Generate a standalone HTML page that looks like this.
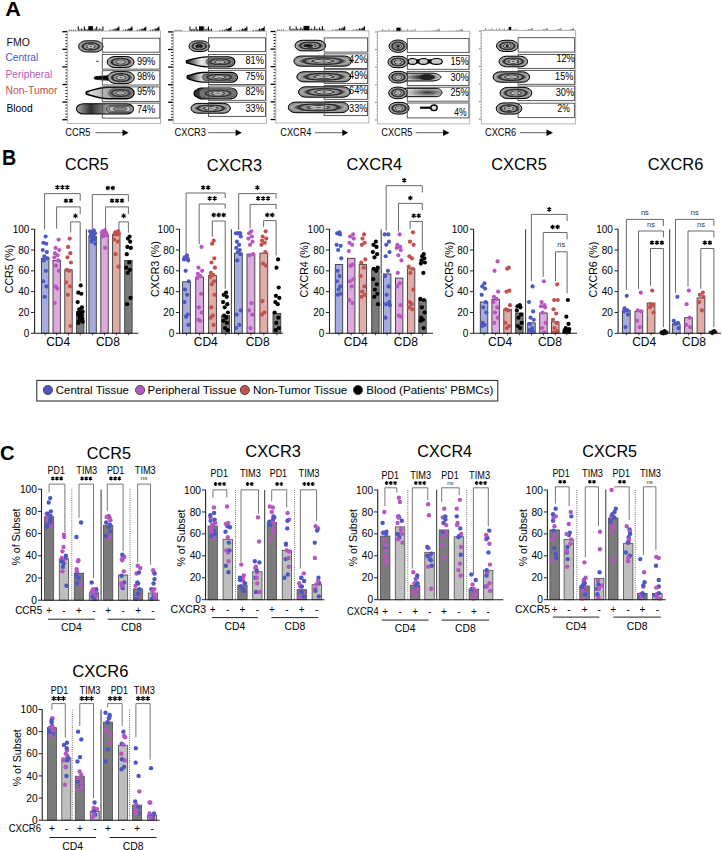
<!DOCTYPE html>
<html><head><meta charset="utf-8"><style>
html,body{margin:0;padding:0;background:#fff;width:722px;height:850px;overflow:hidden}
svg{display:block}
text{font-family:"Liberation Sans", sans-serif}
</style></head><body>
<svg width="722" height="850" viewBox="0 0 722 850">
<defs><radialGradient id="gz" cx="50%" cy="50%" r="50%">
<stop offset="0" stop-color="#3a3a3a"/><stop offset="0.25" stop-color="#9a9a9a"/><stop offset="0.45" stop-color="#d8d8d8"/>
<stop offset="0.62" stop-color="#7a7a7a"/><stop offset="0.8" stop-color="#c4c4c4"/><stop offset="1" stop-color="#6a6a6a"/></radialGradient><radialGradient id="zb" cx="50%" cy="50%" r="50%">
<stop offset="0" stop-color="#444"/><stop offset="0.1" stop-color="#a0a0a0"/><stop offset="0.24" stop-color="#c4c4c4"/>
<stop offset="0.36" stop-color="#3a3a3a"/><stop offset="0.44" stop-color="#a4a4a4"/><stop offset="0.56" stop-color="#7a7a7a"/>
<stop offset="0.68" stop-color="#2e2e2e"/><stop offset="0.78" stop-color="#7a7a7a"/><stop offset="0.88" stop-color="#b0b0b0"/>
<stop offset="1" stop-color="#8a8a8a"/></radialGradient><linearGradient id="gt" x1="0" y1="0" x2="1" y2="0">
<stop offset="0" stop-color="#222"/><stop offset="0.5" stop-color="#888"/><stop offset="1" stop-color="#bbb"/></linearGradient><linearGradient id="gtl" x1="0" y1="0" x2="1" y2="0">
<stop offset="0" stop-color="#111"/><stop offset="0.15" stop-color="#555"/><stop offset="0.4" stop-color="#ccc"/><stop offset="0.7" stop-color="#999"/><stop offset="1" stop-color="#777"/></linearGradient><linearGradient id="gtw" x1="0" y1="0" x2="1" y2="0">
<stop offset="0" stop-color="#222"/><stop offset="0.08" stop-color="#ddd"/><stop offset="0.45" stop-color="#aaa"/><stop offset="1" stop-color="#777"/></linearGradient><linearGradient id="gt2" x1="0" y1="0" x2="1" y2="0">
<stop offset="0" stop-color="#111"/><stop offset="0.1" stop-color="#555"/><stop offset="0.3" stop-color="#e8e8e8"/><stop offset="0.6" stop-color="#b5b5b5"/><stop offset="1" stop-color="#888"/></linearGradient><radialGradient id="gd2" cx="62%" cy="50%" r="55%">
<stop offset="0" stop-color="#333"/><stop offset="0.5" stop-color="#8a8a8a"/><stop offset="1" stop-color="#d0d0d0"/></radialGradient><radialGradient id="gd" cx="50%" cy="50%" r="50%">
<stop offset="0" stop-color="#111"/><stop offset="0.5" stop-color="#666"/><stop offset="1" stop-color="#ccc"/></radialGradient><linearGradient id="gb" x1="0" y1="0" x2="1" y2="0">
<stop offset="0" stop-color="#aaa"/><stop offset="0.25" stop-color="#333"/><stop offset="0.45" stop-color="#777"/><stop offset="0.6" stop-color="#bbb"/><stop offset="1" stop-color="#888"/></linearGradient></defs><rect width="722" height="850" fill="#fff"/>
<text x="2.00" y="164.60" font-size="21.5" text-anchor="start" font-weight="bold" fill="#000" textLength="14.2" lengthAdjust="spacingAndGlyphs">B</text>
<text x="10.20" y="269.00" font-size="10.7" text-anchor="middle" font-weight="normal" fill="#000" transform="rotate(-90 10.2 269)" dominant-baseline="middle">CCR5 (%)</text>
<line x1="31.00" y1="333.30" x2="34.60" y2="333.30" stroke="#222" stroke-width="1"/>
<text x="29.40" y="336.80" font-size="10" text-anchor="end" font-weight="normal" fill="#000">0</text>
<line x1="31.00" y1="312.48" x2="34.60" y2="312.48" stroke="#222" stroke-width="1"/>
<text x="29.40" y="315.98" font-size="10" text-anchor="end" font-weight="normal" fill="#000">20</text>
<line x1="31.00" y1="291.66" x2="34.60" y2="291.66" stroke="#222" stroke-width="1"/>
<text x="29.40" y="295.16" font-size="10" text-anchor="end" font-weight="normal" fill="#000">40</text>
<line x1="31.00" y1="270.84" x2="34.60" y2="270.84" stroke="#222" stroke-width="1"/>
<text x="29.40" y="274.34" font-size="10" text-anchor="end" font-weight="normal" fill="#000">60</text>
<line x1="31.00" y1="250.02" x2="34.60" y2="250.02" stroke="#222" stroke-width="1"/>
<text x="29.40" y="253.52" font-size="10" text-anchor="end" font-weight="normal" fill="#000">80</text>
<line x1="31.00" y1="229.20" x2="34.60" y2="229.20" stroke="#222" stroke-width="1"/>
<text x="29.40" y="232.70" font-size="10" text-anchor="end" font-weight="normal" fill="#000">100</text>
<rect x="41.50" y="258.35" width="7.40" height="74.95" fill="#a6acdf" stroke="#3a3a3a" stroke-width="0.9"/>
<line x1="45.20" y1="333.30" x2="45.20" y2="335.30" stroke="#222" stroke-width="0.9"/>
<rect x="53.00" y="260.43" width="7.40" height="72.87" fill="#dcaadd" stroke="#3a3a3a" stroke-width="0.9"/>
<line x1="56.70" y1="333.30" x2="56.70" y2="335.30" stroke="#222" stroke-width="0.9"/>
<rect x="64.80" y="269.80" width="7.40" height="63.50" fill="#e2aca8" stroke="#3a3a3a" stroke-width="0.9"/>
<line x1="68.50" y1="333.30" x2="68.50" y2="335.30" stroke="#222" stroke-width="0.9"/>
<rect x="76.50" y="311.44" width="7.40" height="21.86" fill="#7a7a7a" stroke="#3a3a3a" stroke-width="0.9"/>
<line x1="80.20" y1="333.30" x2="80.20" y2="335.30" stroke="#222" stroke-width="0.9"/>
<rect x="88.90" y="236.49" width="7.40" height="96.81" fill="#a6acdf" stroke="#3a3a3a" stroke-width="0.9"/>
<line x1="92.60" y1="333.30" x2="92.60" y2="335.30" stroke="#222" stroke-width="0.9"/>
<rect x="100.80" y="234.41" width="7.40" height="98.89" fill="#dcaadd" stroke="#3a3a3a" stroke-width="0.9"/>
<line x1="104.50" y1="333.30" x2="104.50" y2="335.30" stroke="#222" stroke-width="0.9"/>
<rect x="112.60" y="234.41" width="7.40" height="98.89" fill="#e2aca8" stroke="#3a3a3a" stroke-width="0.9"/>
<line x1="116.30" y1="333.30" x2="116.30" y2="335.30" stroke="#222" stroke-width="0.9"/>
<rect x="124.70" y="260.43" width="7.40" height="72.87" fill="#7a7a7a" stroke="#3a3a3a" stroke-width="0.9"/>
<line x1="128.40" y1="333.30" x2="128.40" y2="335.30" stroke="#222" stroke-width="0.9"/>
<circle cx="45.60" cy="236.49" r="2.1" fill="#4b58c4"/>
<circle cx="43.39" cy="242.73" r="2.1" fill="#4b58c4"/>
<circle cx="46.21" cy="243.77" r="2.1" fill="#4b58c4"/>
<circle cx="42.78" cy="250.02" r="2.1" fill="#4b58c4"/>
<circle cx="46.82" cy="252.10" r="2.1" fill="#4b58c4"/>
<circle cx="44.37" cy="256.27" r="2.1" fill="#4b58c4"/>
<circle cx="47.44" cy="258.35" r="2.1" fill="#4b58c4"/>
<circle cx="43.76" cy="260.43" r="2.1" fill="#4b58c4"/>
<circle cx="45.85" cy="270.84" r="2.1" fill="#4b58c4"/>
<circle cx="43.14" cy="281.25" r="2.1" fill="#4b58c4"/>
<circle cx="46.46" cy="286.46" r="2.1" fill="#4b58c4"/>
<circle cx="44.73" cy="296.87" r="2.1" fill="#4b58c4"/>
<circle cx="58.60" cy="239.61" r="2.1" fill="#b955c2"/>
<circle cx="55.60" cy="247.94" r="2.1" fill="#b955c2"/>
<circle cx="59.21" cy="250.02" r="2.1" fill="#b955c2"/>
<circle cx="54.98" cy="253.14" r="2.1" fill="#b955c2"/>
<circle cx="57.62" cy="255.23" r="2.1" fill="#b955c2"/>
<circle cx="54.37" cy="257.31" r="2.1" fill="#b955c2"/>
<circle cx="58.23" cy="260.43" r="2.1" fill="#b955c2"/>
<circle cx="55.96" cy="265.63" r="2.1" fill="#b955c2"/>
<circle cx="58.85" cy="270.84" r="2.1" fill="#b955c2"/>
<circle cx="55.35" cy="286.46" r="2.1" fill="#b955c2"/>
<circle cx="57.26" cy="288.54" r="2.1" fill="#b955c2"/>
<circle cx="54.74" cy="303.11" r="2.1" fill="#b955c2"/>
<circle cx="69.69" cy="238.57" r="2.1" fill="#c2514e"/>
<circle cx="68.10" cy="246.90" r="2.1" fill="#c2514e"/>
<circle cx="70.31" cy="253.14" r="2.1" fill="#c2514e"/>
<circle cx="67.49" cy="257.31" r="2.1" fill="#c2514e"/>
<circle cx="70.92" cy="262.51" r="2.1" fill="#c2514e"/>
<circle cx="66.88" cy="269.80" r="2.1" fill="#c2514e"/>
<circle cx="69.33" cy="270.84" r="2.1" fill="#c2514e"/>
<circle cx="66.26" cy="282.29" r="2.1" fill="#c2514e"/>
<circle cx="69.94" cy="286.46" r="2.1" fill="#c2514e"/>
<circle cx="67.85" cy="294.78" r="2.1" fill="#c2514e"/>
<circle cx="70.56" cy="326.01" r="2.1" fill="#c2514e"/>
<circle cx="80.69" cy="285.41" r="2.1" fill="#000"/>
<circle cx="78.30" cy="292.70" r="2.1" fill="#000"/>
<circle cx="81.30" cy="293.74" r="2.1" fill="#000"/>
<circle cx="77.69" cy="302.07" r="2.1" fill="#000"/>
<circle cx="81.92" cy="307.28" r="2.1" fill="#000"/>
<circle cx="79.28" cy="309.36" r="2.1" fill="#000"/>
<circle cx="82.53" cy="311.44" r="2.1" fill="#000"/>
<circle cx="78.67" cy="312.48" r="2.1" fill="#000"/>
<circle cx="80.94" cy="313.52" r="2.1" fill="#000"/>
<circle cx="78.05" cy="314.56" r="2.1" fill="#000"/>
<circle cx="81.55" cy="315.60" r="2.1" fill="#000"/>
<circle cx="79.64" cy="317.69" r="2.1" fill="#000"/>
<circle cx="82.16" cy="318.73" r="2.1" fill="#000"/>
<circle cx="79.03" cy="320.81" r="2.1" fill="#000"/>
<circle cx="82.78" cy="321.85" r="2.1" fill="#000"/>
<circle cx="78.42" cy="322.89" r="2.1" fill="#000"/>
<circle cx="93.70" cy="230.24" r="2.1" fill="#4b58c4"/>
<circle cx="90.09" cy="231.28" r="2.1" fill="#4b58c4"/>
<circle cx="94.32" cy="232.32" r="2.1" fill="#4b58c4"/>
<circle cx="91.68" cy="232.32" r="2.1" fill="#4b58c4"/>
<circle cx="94.93" cy="233.36" r="2.1" fill="#4b58c4"/>
<circle cx="91.07" cy="234.41" r="2.1" fill="#4b58c4"/>
<circle cx="93.34" cy="235.45" r="2.1" fill="#4b58c4"/>
<circle cx="90.45" cy="236.49" r="2.1" fill="#4b58c4"/>
<circle cx="93.95" cy="237.53" r="2.1" fill="#4b58c4"/>
<circle cx="92.04" cy="238.57" r="2.1" fill="#4b58c4"/>
<circle cx="94.56" cy="239.61" r="2.1" fill="#4b58c4"/>
<circle cx="91.43" cy="241.69" r="2.1" fill="#4b58c4"/>
<circle cx="95.18" cy="243.77" r="2.1" fill="#4b58c4"/>
<circle cx="104.90" cy="230.24" r="2.1" fill="#b955c2"/>
<circle cx="102.69" cy="231.28" r="2.1" fill="#b955c2"/>
<circle cx="105.51" cy="232.32" r="2.1" fill="#b955c2"/>
<circle cx="102.08" cy="232.32" r="2.1" fill="#b955c2"/>
<circle cx="106.12" cy="233.36" r="2.1" fill="#b955c2"/>
<circle cx="103.67" cy="234.41" r="2.1" fill="#b955c2"/>
<circle cx="106.74" cy="235.45" r="2.1" fill="#b955c2"/>
<circle cx="103.06" cy="236.49" r="2.1" fill="#b955c2"/>
<circle cx="105.15" cy="247.94" r="2.1" fill="#b955c2"/>
<circle cx="118.20" cy="231.28" r="2.1" fill="#c2514e"/>
<circle cx="115.20" cy="232.32" r="2.1" fill="#c2514e"/>
<circle cx="118.81" cy="233.36" r="2.1" fill="#c2514e"/>
<circle cx="114.58" cy="234.41" r="2.1" fill="#c2514e"/>
<circle cx="117.22" cy="234.41" r="2.1" fill="#c2514e"/>
<circle cx="113.97" cy="239.61" r="2.1" fill="#c2514e"/>
<circle cx="117.83" cy="241.69" r="2.1" fill="#c2514e"/>
<circle cx="115.56" cy="254.18" r="2.1" fill="#c2514e"/>
<circle cx="118.45" cy="266.68" r="2.1" fill="#c2514e"/>
<circle cx="129.59" cy="236.49" r="2.1" fill="#000"/>
<circle cx="128.00" cy="238.57" r="2.1" fill="#000"/>
<circle cx="130.21" cy="241.69" r="2.1" fill="#000"/>
<circle cx="127.39" cy="246.90" r="2.1" fill="#000"/>
<circle cx="130.82" cy="247.94" r="2.1" fill="#000"/>
<circle cx="126.78" cy="254.18" r="2.1" fill="#000"/>
<circle cx="129.23" cy="262.51" r="2.1" fill="#000"/>
<circle cx="126.16" cy="267.72" r="2.1" fill="#000"/>
<circle cx="129.84" cy="269.80" r="2.1" fill="#000"/>
<circle cx="127.75" cy="272.92" r="2.1" fill="#000"/>
<circle cx="130.46" cy="297.91" r="2.1" fill="#000"/>
<circle cx="127.14" cy="304.15" r="2.1" fill="#000"/>
<line x1="86.40" y1="229.20" x2="86.40" y2="333.30" stroke="#222" stroke-width="0.9"/>
<line x1="34.60" y1="228.90" x2="34.60" y2="333.30" stroke="#222" stroke-width="1.1"/>
<line x1="34.60" y1="333.30" x2="138.30" y2="333.30" stroke="#222" stroke-width="1.1"/>
<path d="M44.60 229.60V193.60H80.20V200.70" fill="none" stroke="#444" stroke-width="0.8"/>
<path d="M57.40 185.00L57.40 189.60M55.41 186.15L59.39 188.45M59.39 186.15L55.41 188.45" stroke="#000" stroke-width="1.25" fill="none"/>
<path d="M62.40 185.00L62.40 189.60M60.41 186.15L64.39 188.45M64.39 186.15L60.41 188.45" stroke="#000" stroke-width="1.25" fill="none"/>
<path d="M67.40 185.00L67.40 189.60M65.41 186.15L69.39 188.45M69.39 186.15L65.41 188.45" stroke="#000" stroke-width="1.25" fill="none"/>
<path d="M56.60 228.70V206.90H80.20V214.00" fill="none" stroke="#444" stroke-width="0.8"/>
<path d="M65.90 198.40L65.90 203.00M63.91 199.55L67.89 201.85M67.89 199.55L63.91 201.85" stroke="#000" stroke-width="1.25" fill="none"/>
<path d="M70.90 198.40L70.90 203.00M68.91 199.55L72.89 201.85M72.89 199.55L68.91 201.85" stroke="#000" stroke-width="1.25" fill="none"/>
<path d="M70.70 232.50V221.90H80.20V281.50" fill="none" stroke="#444" stroke-width="0.8"/>
<path d="M75.45 213.60L75.45 218.20M73.46 214.75L77.44 217.05M77.44 214.75L73.46 217.05" stroke="#000" stroke-width="1.25" fill="none"/>
<path d="M92.30 228.50V194.60H128.40V201.50" fill="none" stroke="#444" stroke-width="0.8"/>
<path d="M107.85 185.70L107.85 190.30M105.86 186.85L109.84 189.15M109.84 186.85L105.86 189.15" stroke="#000" stroke-width="1.25" fill="none"/>
<path d="M112.85 185.70L112.85 190.30M110.86 186.85L114.84 189.15M114.84 186.85L110.86 189.15" stroke="#000" stroke-width="1.25" fill="none"/>
<path d="M105.60 229.00V206.90H128.40V214.00" fill="none" stroke="#444" stroke-width="0.8"/>
<path d="M112.00 198.40L112.00 203.00M110.01 199.55L113.99 201.85M113.99 199.55L110.01 201.85" stroke="#000" stroke-width="1.25" fill="none"/>
<path d="M117.00 198.40L117.00 203.00M115.01 199.55L118.99 201.85M118.99 199.55L115.01 201.85" stroke="#000" stroke-width="1.25" fill="none"/>
<path d="M122.00 198.40L122.00 203.00M120.01 199.55L123.99 201.85M123.99 199.55L120.01 201.85" stroke="#000" stroke-width="1.25" fill="none"/>
<path d="M118.90 230.00V221.90H128.40V232.70" fill="none" stroke="#444" stroke-width="0.8"/>
<path d="M123.65 213.60L123.65 218.20M121.66 214.75L125.64 217.05M125.64 214.75L121.66 217.05" stroke="#000" stroke-width="1.25" fill="none"/>
<text x="58.20" y="346.20" font-size="12" text-anchor="middle" font-weight="normal" fill="#000">CD4</text>
<text x="107.90" y="346.20" font-size="12" text-anchor="middle" font-weight="normal" fill="#000">CD8</text>
<text x="86.90" y="169.90" font-size="17.3" text-anchor="middle" font-weight="normal" fill="#000" textLength="43.7" lengthAdjust="spacingAndGlyphs">CCR5</text>
<text x="156.00" y="269.00" font-size="10.7" text-anchor="middle" font-weight="normal" fill="#000" transform="rotate(-90 156 269)" dominant-baseline="middle">CXCR3 (%)</text>
<line x1="175.90" y1="333.30" x2="179.50" y2="333.30" stroke="#222" stroke-width="1"/>
<text x="174.30" y="336.80" font-size="10" text-anchor="end" font-weight="normal" fill="#000">0</text>
<line x1="175.90" y1="312.48" x2="179.50" y2="312.48" stroke="#222" stroke-width="1"/>
<text x="174.30" y="315.98" font-size="10" text-anchor="end" font-weight="normal" fill="#000">20</text>
<line x1="175.90" y1="291.66" x2="179.50" y2="291.66" stroke="#222" stroke-width="1"/>
<text x="174.30" y="295.16" font-size="10" text-anchor="end" font-weight="normal" fill="#000">40</text>
<line x1="175.90" y1="270.84" x2="179.50" y2="270.84" stroke="#222" stroke-width="1"/>
<text x="174.30" y="274.34" font-size="10" text-anchor="end" font-weight="normal" fill="#000">60</text>
<line x1="175.90" y1="250.02" x2="179.50" y2="250.02" stroke="#222" stroke-width="1"/>
<text x="174.30" y="253.52" font-size="10" text-anchor="end" font-weight="normal" fill="#000">80</text>
<line x1="175.90" y1="229.20" x2="179.50" y2="229.20" stroke="#222" stroke-width="1"/>
<text x="174.30" y="232.70" font-size="10" text-anchor="end" font-weight="normal" fill="#000">100</text>
<rect x="182.60" y="281.77" width="7.80" height="51.53" fill="#a6acdf" stroke="#3a3a3a" stroke-width="0.9"/>
<line x1="186.50" y1="333.30" x2="186.50" y2="335.30" stroke="#222" stroke-width="0.9"/>
<rect x="195.70" y="277.09" width="7.80" height="56.21" fill="#dcaadd" stroke="#3a3a3a" stroke-width="0.9"/>
<line x1="199.60" y1="333.30" x2="199.60" y2="335.30" stroke="#222" stroke-width="0.9"/>
<rect x="208.60" y="275.52" width="7.80" height="57.78" fill="#e2aca8" stroke="#3a3a3a" stroke-width="0.9"/>
<line x1="212.50" y1="333.30" x2="212.50" y2="335.30" stroke="#222" stroke-width="0.9"/>
<rect x="221.70" y="315.60" width="7.80" height="17.70" fill="#7a7a7a" stroke="#3a3a3a" stroke-width="0.9"/>
<line x1="225.60" y1="333.30" x2="225.60" y2="335.30" stroke="#222" stroke-width="0.9"/>
<rect x="234.50" y="253.14" width="7.80" height="80.16" fill="#a6acdf" stroke="#3a3a3a" stroke-width="0.9"/>
<line x1="238.40" y1="333.30" x2="238.40" y2="335.30" stroke="#222" stroke-width="0.9"/>
<rect x="247.00" y="254.18" width="7.80" height="79.12" fill="#dcaadd" stroke="#3a3a3a" stroke-width="0.9"/>
<line x1="250.90" y1="333.30" x2="250.90" y2="335.30" stroke="#222" stroke-width="0.9"/>
<rect x="259.90" y="253.14" width="7.80" height="80.16" fill="#e2aca8" stroke="#3a3a3a" stroke-width="0.9"/>
<line x1="263.80" y1="333.30" x2="263.80" y2="335.30" stroke="#222" stroke-width="0.9"/>
<rect x="273.00" y="313.52" width="7.80" height="19.78" fill="#7a7a7a" stroke="#3a3a3a" stroke-width="0.9"/>
<line x1="276.90" y1="333.30" x2="276.90" y2="335.30" stroke="#222" stroke-width="0.9"/>
<circle cx="186.90" cy="255.23" r="2.1" fill="#4b58c4"/>
<circle cx="184.69" cy="257.31" r="2.1" fill="#4b58c4"/>
<circle cx="187.51" cy="258.35" r="2.1" fill="#4b58c4"/>
<circle cx="184.08" cy="259.39" r="2.1" fill="#4b58c4"/>
<circle cx="188.12" cy="260.43" r="2.1" fill="#4b58c4"/>
<circle cx="185.67" cy="270.84" r="2.1" fill="#4b58c4"/>
<circle cx="188.74" cy="281.25" r="2.1" fill="#4b58c4"/>
<circle cx="185.06" cy="289.58" r="2.1" fill="#4b58c4"/>
<circle cx="187.15" cy="294.78" r="2.1" fill="#4b58c4"/>
<circle cx="184.44" cy="302.07" r="2.1" fill="#4b58c4"/>
<circle cx="187.76" cy="314.56" r="2.1" fill="#4b58c4"/>
<circle cx="186.03" cy="316.64" r="2.1" fill="#4b58c4"/>
<circle cx="188.37" cy="324.97" r="2.1" fill="#4b58c4"/>
<circle cx="201.50" cy="246.90" r="2.1" fill="#b955c2"/>
<circle cx="198.50" cy="267.72" r="2.1" fill="#b955c2"/>
<circle cx="202.11" cy="270.84" r="2.1" fill="#b955c2"/>
<circle cx="197.88" cy="273.96" r="2.1" fill="#b955c2"/>
<circle cx="200.52" cy="276.05" r="2.1" fill="#b955c2"/>
<circle cx="197.27" cy="278.13" r="2.1" fill="#b955c2"/>
<circle cx="201.13" cy="293.74" r="2.1" fill="#b955c2"/>
<circle cx="198.86" cy="307.28" r="2.1" fill="#b955c2"/>
<circle cx="201.75" cy="312.48" r="2.1" fill="#b955c2"/>
<circle cx="198.25" cy="319.77" r="2.1" fill="#b955c2"/>
<circle cx="200.16" cy="320.81" r="2.1" fill="#b955c2"/>
<circle cx="213.69" cy="240.65" r="2.1" fill="#c2514e"/>
<circle cx="212.10" cy="243.77" r="2.1" fill="#c2514e"/>
<circle cx="214.31" cy="258.35" r="2.1" fill="#c2514e"/>
<circle cx="211.49" cy="262.51" r="2.1" fill="#c2514e"/>
<circle cx="214.92" cy="267.72" r="2.1" fill="#c2514e"/>
<circle cx="210.88" cy="272.92" r="2.1" fill="#c2514e"/>
<circle cx="213.33" cy="275.00" r="2.1" fill="#c2514e"/>
<circle cx="210.26" cy="277.09" r="2.1" fill="#c2514e"/>
<circle cx="213.94" cy="281.25" r="2.1" fill="#c2514e"/>
<circle cx="211.85" cy="284.37" r="2.1" fill="#c2514e"/>
<circle cx="214.56" cy="294.78" r="2.1" fill="#c2514e"/>
<circle cx="211.24" cy="307.28" r="2.1" fill="#c2514e"/>
<circle cx="212.97" cy="315.60" r="2.1" fill="#c2514e"/>
<circle cx="210.63" cy="317.69" r="2.1" fill="#c2514e"/>
<circle cx="213.58" cy="324.97" r="2.1" fill="#c2514e"/>
<circle cx="226.09" cy="292.70" r="2.1" fill="#000"/>
<circle cx="223.70" cy="294.78" r="2.1" fill="#000"/>
<circle cx="226.70" cy="296.87" r="2.1" fill="#000"/>
<circle cx="223.09" cy="302.07" r="2.1" fill="#000"/>
<circle cx="227.32" cy="304.15" r="2.1" fill="#000"/>
<circle cx="224.68" cy="307.28" r="2.1" fill="#000"/>
<circle cx="227.93" cy="312.48" r="2.1" fill="#000"/>
<circle cx="224.07" cy="315.60" r="2.1" fill="#000"/>
<circle cx="226.34" cy="317.69" r="2.1" fill="#000"/>
<circle cx="223.45" cy="320.81" r="2.1" fill="#000"/>
<circle cx="226.95" cy="322.89" r="2.1" fill="#000"/>
<circle cx="225.04" cy="328.10" r="2.1" fill="#000"/>
<circle cx="227.56" cy="330.18" r="2.1" fill="#000"/>
<circle cx="239.50" cy="233.36" r="2.1" fill="#4b58c4"/>
<circle cx="235.89" cy="233.36" r="2.1" fill="#4b58c4"/>
<circle cx="240.12" cy="233.36" r="2.1" fill="#4b58c4"/>
<circle cx="237.48" cy="233.36" r="2.1" fill="#4b58c4"/>
<circle cx="240.73" cy="236.49" r="2.1" fill="#4b58c4"/>
<circle cx="236.87" cy="241.69" r="2.1" fill="#4b58c4"/>
<circle cx="239.14" cy="244.81" r="2.1" fill="#4b58c4"/>
<circle cx="236.25" cy="247.94" r="2.1" fill="#4b58c4"/>
<circle cx="239.75" cy="250.02" r="2.1" fill="#4b58c4"/>
<circle cx="237.84" cy="252.10" r="2.1" fill="#4b58c4"/>
<circle cx="240.36" cy="254.18" r="2.1" fill="#4b58c4"/>
<circle cx="237.23" cy="260.43" r="2.1" fill="#4b58c4"/>
<circle cx="240.98" cy="310.40" r="2.1" fill="#4b58c4"/>
<circle cx="236.62" cy="314.56" r="2.1" fill="#4b58c4"/>
<circle cx="239.39" cy="324.97" r="2.1" fill="#4b58c4"/>
<circle cx="236.00" cy="328.10" r="2.1" fill="#4b58c4"/>
<circle cx="251.30" cy="231.28" r="2.1" fill="#b955c2"/>
<circle cx="249.09" cy="233.36" r="2.1" fill="#b955c2"/>
<circle cx="251.91" cy="236.49" r="2.1" fill="#b955c2"/>
<circle cx="248.48" cy="238.57" r="2.1" fill="#b955c2"/>
<circle cx="252.52" cy="241.69" r="2.1" fill="#b955c2"/>
<circle cx="250.07" cy="244.81" r="2.1" fill="#b955c2"/>
<circle cx="253.14" cy="254.18" r="2.1" fill="#b955c2"/>
<circle cx="249.46" cy="255.23" r="2.1" fill="#b955c2"/>
<circle cx="251.55" cy="303.11" r="2.1" fill="#b955c2"/>
<circle cx="248.84" cy="310.40" r="2.1" fill="#b955c2"/>
<circle cx="252.16" cy="314.56" r="2.1" fill="#b955c2"/>
<circle cx="250.43" cy="328.10" r="2.1" fill="#b955c2"/>
<circle cx="265.70" cy="231.28" r="2.1" fill="#c2514e"/>
<circle cx="262.70" cy="236.49" r="2.1" fill="#c2514e"/>
<circle cx="266.31" cy="238.57" r="2.1" fill="#c2514e"/>
<circle cx="262.08" cy="240.65" r="2.1" fill="#c2514e"/>
<circle cx="264.72" cy="242.73" r="2.1" fill="#c2514e"/>
<circle cx="261.47" cy="244.81" r="2.1" fill="#c2514e"/>
<circle cx="265.33" cy="252.10" r="2.1" fill="#c2514e"/>
<circle cx="263.06" cy="263.55" r="2.1" fill="#c2514e"/>
<circle cx="265.95" cy="265.63" r="2.1" fill="#c2514e"/>
<circle cx="262.45" cy="301.03" r="2.1" fill="#c2514e"/>
<circle cx="264.36" cy="312.48" r="2.1" fill="#c2514e"/>
<circle cx="261.84" cy="314.56" r="2.1" fill="#c2514e"/>
<circle cx="278.09" cy="259.39" r="2.1" fill="#000"/>
<circle cx="276.50" cy="267.72" r="2.1" fill="#000"/>
<circle cx="278.71" cy="287.50" r="2.1" fill="#000"/>
<circle cx="275.89" cy="295.82" r="2.1" fill="#000"/>
<circle cx="279.32" cy="297.91" r="2.1" fill="#000"/>
<circle cx="275.28" cy="302.07" r="2.1" fill="#000"/>
<circle cx="277.73" cy="304.15" r="2.1" fill="#000"/>
<circle cx="274.66" cy="312.48" r="2.1" fill="#000"/>
<circle cx="278.34" cy="317.69" r="2.1" fill="#000"/>
<circle cx="276.25" cy="322.89" r="2.1" fill="#000"/>
<circle cx="278.96" cy="328.10" r="2.1" fill="#000"/>
<circle cx="275.64" cy="330.18" r="2.1" fill="#000"/>
<line x1="231.40" y1="229.20" x2="231.40" y2="333.30" stroke="#222" stroke-width="0.9"/>
<line x1="179.50" y1="228.90" x2="179.50" y2="333.30" stroke="#222" stroke-width="1.1"/>
<line x1="179.50" y1="333.30" x2="283.00" y2="333.30" stroke="#222" stroke-width="1.1"/>
<path d="M186.10 253.40V193.00H225.20V198.20" fill="none" stroke="#444" stroke-width="0.8"/>
<path d="M203.15 185.30L203.15 189.90M201.16 186.45L205.14 188.75M205.14 186.45L201.16 188.75" stroke="#000" stroke-width="1.25" fill="none"/>
<path d="M208.15 185.30L208.15 189.90M206.16 186.45L210.14 188.75M210.14 186.45L206.16 188.75" stroke="#000" stroke-width="1.25" fill="none"/>
<path d="M199.20 244.00V204.00H225.20V208.60" fill="none" stroke="#444" stroke-width="0.8"/>
<path d="M209.70 196.10L209.70 200.70M207.71 197.25L211.69 199.55M211.69 197.25L207.71 199.55" stroke="#000" stroke-width="1.25" fill="none"/>
<path d="M214.70 196.10L214.70 200.70M212.71 197.25L216.69 199.55M216.69 197.25L212.71 199.55" stroke="#000" stroke-width="1.25" fill="none"/>
<path d="M212.30 236.80V221.00H225.20V288.80" fill="none" stroke="#444" stroke-width="0.8"/>
<path d="M213.75 212.70L213.75 217.30M211.76 213.85L215.74 216.15M215.74 213.85L211.76 216.15" stroke="#000" stroke-width="1.25" fill="none"/>
<path d="M218.75 212.70L218.75 217.30M216.76 213.85L220.74 216.15M220.74 213.85L216.76 216.15" stroke="#000" stroke-width="1.25" fill="none"/>
<path d="M223.75 212.70L223.75 217.30M221.76 213.85L225.74 216.15M225.74 213.85L221.76 216.15" stroke="#000" stroke-width="1.25" fill="none"/>
<path d="M238.70 230.00V193.60H276.10V198.60" fill="none" stroke="#444" stroke-width="0.8"/>
<path d="M257.40 185.30L257.40 189.90M255.41 186.45L259.39 188.75M259.39 186.45L255.41 188.75" stroke="#000" stroke-width="1.25" fill="none"/>
<path d="M250.10 228.50V204.40H276.10V209.00" fill="none" stroke="#444" stroke-width="0.8"/>
<path d="M258.10 196.10L258.10 200.70M256.11 197.25L260.09 199.55M260.09 197.25L256.11 199.55" stroke="#000" stroke-width="1.25" fill="none"/>
<path d="M263.10 196.10L263.10 200.70M261.11 197.25L265.09 199.55M265.09 197.25L261.11 199.55" stroke="#000" stroke-width="1.25" fill="none"/>
<path d="M268.10 196.10L268.10 200.70M266.11 197.25L270.09 199.55M270.09 197.25L266.11 199.55" stroke="#000" stroke-width="1.25" fill="none"/>
<path d="M263.60 227.00V220.60H276.10V255.50" fill="none" stroke="#444" stroke-width="0.8"/>
<path d="M267.35 212.70L267.35 217.30M265.36 213.85L269.34 216.15M269.34 213.85L265.36 216.15" stroke="#000" stroke-width="1.25" fill="none"/>
<path d="M272.35 212.70L272.35 217.30M270.36 213.85L274.34 216.15M274.34 213.85L270.36 216.15" stroke="#000" stroke-width="1.25" fill="none"/>
<text x="205.75" y="346.20" font-size="12" text-anchor="middle" font-weight="normal" fill="#000">CD4</text>
<text x="257.70" y="346.20" font-size="12" text-anchor="middle" font-weight="normal" fill="#000">CD8</text>
<text x="234.50" y="171.00" font-size="17.3" text-anchor="middle" font-weight="normal" fill="#000" textLength="55.3" lengthAdjust="spacingAndGlyphs">CXCR3</text>
<text x="305.00" y="269.50" font-size="10.7" text-anchor="middle" font-weight="normal" fill="#000" transform="rotate(-90 305 269.5)" dominant-baseline="middle">CXCR4 (%)</text>
<line x1="325.90" y1="333.30" x2="329.50" y2="333.30" stroke="#222" stroke-width="1"/>
<text x="324.30" y="336.80" font-size="10" text-anchor="end" font-weight="normal" fill="#000">0</text>
<line x1="325.90" y1="312.48" x2="329.50" y2="312.48" stroke="#222" stroke-width="1"/>
<text x="324.30" y="315.98" font-size="10" text-anchor="end" font-weight="normal" fill="#000">20</text>
<line x1="325.90" y1="291.66" x2="329.50" y2="291.66" stroke="#222" stroke-width="1"/>
<text x="324.30" y="295.16" font-size="10" text-anchor="end" font-weight="normal" fill="#000">40</text>
<line x1="325.90" y1="270.84" x2="329.50" y2="270.84" stroke="#222" stroke-width="1"/>
<text x="324.30" y="274.34" font-size="10" text-anchor="end" font-weight="normal" fill="#000">60</text>
<line x1="325.90" y1="250.02" x2="329.50" y2="250.02" stroke="#222" stroke-width="1"/>
<text x="324.30" y="253.52" font-size="10" text-anchor="end" font-weight="normal" fill="#000">80</text>
<line x1="325.90" y1="229.20" x2="329.50" y2="229.20" stroke="#222" stroke-width="1"/>
<text x="324.30" y="232.70" font-size="10" text-anchor="end" font-weight="normal" fill="#000">100</text>
<rect x="335.30" y="264.59" width="7.40" height="68.71" fill="#a6acdf" stroke="#3a3a3a" stroke-width="0.9"/>
<line x1="339.00" y1="333.30" x2="339.00" y2="335.30" stroke="#222" stroke-width="0.9"/>
<rect x="347.50" y="258.35" width="7.40" height="74.95" fill="#dcaadd" stroke="#3a3a3a" stroke-width="0.9"/>
<line x1="351.20" y1="333.30" x2="351.20" y2="335.30" stroke="#222" stroke-width="0.9"/>
<rect x="359.20" y="264.59" width="7.40" height="68.71" fill="#e2aca8" stroke="#3a3a3a" stroke-width="0.9"/>
<line x1="362.90" y1="333.30" x2="362.90" y2="335.30" stroke="#222" stroke-width="0.9"/>
<rect x="371.70" y="268.76" width="7.40" height="64.54" fill="#7a7a7a" stroke="#3a3a3a" stroke-width="0.9"/>
<line x1="375.40" y1="333.30" x2="375.40" y2="335.30" stroke="#222" stroke-width="0.9"/>
<rect x="383.50" y="273.96" width="7.40" height="59.34" fill="#a6acdf" stroke="#3a3a3a" stroke-width="0.9"/>
<line x1="387.20" y1="333.30" x2="387.20" y2="335.30" stroke="#222" stroke-width="0.9"/>
<rect x="395.50" y="278.13" width="7.40" height="55.17" fill="#dcaadd" stroke="#3a3a3a" stroke-width="0.9"/>
<line x1="399.20" y1="333.30" x2="399.20" y2="335.30" stroke="#222" stroke-width="0.9"/>
<rect x="407.40" y="268.76" width="7.40" height="64.54" fill="#e2aca8" stroke="#3a3a3a" stroke-width="0.9"/>
<line x1="411.10" y1="333.30" x2="411.10" y2="335.30" stroke="#222" stroke-width="0.9"/>
<rect x="418.80" y="299.99" width="7.40" height="33.31" fill="#7a7a7a" stroke="#3a3a3a" stroke-width="0.9"/>
<line x1="422.50" y1="333.30" x2="422.50" y2="335.30" stroke="#222" stroke-width="0.9"/>
<circle cx="339.40" cy="232.32" r="2.1" fill="#4b58c4"/>
<circle cx="337.19" cy="233.36" r="2.1" fill="#4b58c4"/>
<circle cx="340.01" cy="234.41" r="2.1" fill="#4b58c4"/>
<circle cx="336.58" cy="244.81" r="2.1" fill="#4b58c4"/>
<circle cx="340.62" cy="245.86" r="2.1" fill="#4b58c4"/>
<circle cx="338.17" cy="250.02" r="2.1" fill="#4b58c4"/>
<circle cx="341.24" cy="258.35" r="2.1" fill="#4b58c4"/>
<circle cx="337.56" cy="270.84" r="2.1" fill="#4b58c4"/>
<circle cx="339.65" cy="276.05" r="2.1" fill="#4b58c4"/>
<circle cx="336.94" cy="281.25" r="2.1" fill="#4b58c4"/>
<circle cx="340.26" cy="286.46" r="2.1" fill="#4b58c4"/>
<circle cx="338.53" cy="289.58" r="2.1" fill="#4b58c4"/>
<circle cx="340.87" cy="293.74" r="2.1" fill="#4b58c4"/>
<circle cx="337.92" cy="294.78" r="2.1" fill="#4b58c4"/>
<circle cx="353.10" cy="234.41" r="2.1" fill="#b955c2"/>
<circle cx="350.10" cy="236.49" r="2.1" fill="#b955c2"/>
<circle cx="353.71" cy="238.57" r="2.1" fill="#b955c2"/>
<circle cx="349.48" cy="242.73" r="2.1" fill="#b955c2"/>
<circle cx="352.12" cy="244.81" r="2.1" fill="#b955c2"/>
<circle cx="348.87" cy="251.06" r="2.1" fill="#b955c2"/>
<circle cx="352.73" cy="264.59" r="2.1" fill="#b955c2"/>
<circle cx="350.46" cy="265.63" r="2.1" fill="#b955c2"/>
<circle cx="353.35" cy="279.17" r="2.1" fill="#b955c2"/>
<circle cx="349.85" cy="281.25" r="2.1" fill="#b955c2"/>
<circle cx="351.76" cy="286.46" r="2.1" fill="#b955c2"/>
<circle cx="349.24" cy="299.99" r="2.1" fill="#b955c2"/>
<circle cx="352.37" cy="303.11" r="2.1" fill="#b955c2"/>
<circle cx="364.09" cy="234.41" r="2.1" fill="#c2514e"/>
<circle cx="362.50" cy="238.57" r="2.1" fill="#c2514e"/>
<circle cx="364.71" cy="242.73" r="2.1" fill="#c2514e"/>
<circle cx="361.89" cy="244.81" r="2.1" fill="#c2514e"/>
<circle cx="365.32" cy="259.39" r="2.1" fill="#c2514e"/>
<circle cx="361.28" cy="262.51" r="2.1" fill="#c2514e"/>
<circle cx="363.73" cy="267.72" r="2.1" fill="#c2514e"/>
<circle cx="360.66" cy="276.05" r="2.1" fill="#c2514e"/>
<circle cx="364.34" cy="286.46" r="2.1" fill="#c2514e"/>
<circle cx="362.25" cy="291.66" r="2.1" fill="#c2514e"/>
<circle cx="364.96" cy="294.78" r="2.1" fill="#c2514e"/>
<circle cx="361.64" cy="296.87" r="2.1" fill="#c2514e"/>
<circle cx="375.89" cy="241.69" r="2.1" fill="#000"/>
<circle cx="373.50" cy="244.81" r="2.1" fill="#000"/>
<circle cx="376.50" cy="246.90" r="2.1" fill="#000"/>
<circle cx="372.89" cy="252.10" r="2.1" fill="#000"/>
<circle cx="377.12" cy="254.18" r="2.1" fill="#000"/>
<circle cx="374.48" cy="257.31" r="2.1" fill="#000"/>
<circle cx="377.73" cy="267.72" r="2.1" fill="#000"/>
<circle cx="373.87" cy="268.76" r="2.1" fill="#000"/>
<circle cx="376.14" cy="270.84" r="2.1" fill="#000"/>
<circle cx="373.25" cy="279.17" r="2.1" fill="#000"/>
<circle cx="376.75" cy="284.37" r="2.1" fill="#000"/>
<circle cx="374.84" cy="289.58" r="2.1" fill="#000"/>
<circle cx="377.36" cy="293.74" r="2.1" fill="#000"/>
<circle cx="374.23" cy="296.87" r="2.1" fill="#000"/>
<circle cx="377.98" cy="304.15" r="2.1" fill="#000"/>
<circle cx="388.30" cy="234.41" r="2.1" fill="#4b58c4"/>
<circle cx="384.69" cy="234.41" r="2.1" fill="#4b58c4"/>
<circle cx="388.92" cy="241.69" r="2.1" fill="#4b58c4"/>
<circle cx="386.28" cy="244.81" r="2.1" fill="#4b58c4"/>
<circle cx="389.53" cy="252.10" r="2.1" fill="#4b58c4"/>
<circle cx="385.67" cy="256.27" r="2.1" fill="#4b58c4"/>
<circle cx="387.94" cy="270.84" r="2.1" fill="#4b58c4"/>
<circle cx="385.05" cy="276.05" r="2.1" fill="#4b58c4"/>
<circle cx="388.55" cy="286.46" r="2.1" fill="#4b58c4"/>
<circle cx="386.64" cy="294.78" r="2.1" fill="#4b58c4"/>
<circle cx="389.16" cy="302.07" r="2.1" fill="#4b58c4"/>
<circle cx="386.03" cy="304.15" r="2.1" fill="#4b58c4"/>
<circle cx="389.78" cy="305.19" r="2.1" fill="#4b58c4"/>
<circle cx="385.42" cy="317.69" r="2.1" fill="#4b58c4"/>
<circle cx="399.60" cy="234.41" r="2.1" fill="#b955c2"/>
<circle cx="397.39" cy="244.81" r="2.1" fill="#b955c2"/>
<circle cx="400.21" cy="246.90" r="2.1" fill="#b955c2"/>
<circle cx="396.78" cy="247.94" r="2.1" fill="#b955c2"/>
<circle cx="400.82" cy="250.02" r="2.1" fill="#b955c2"/>
<circle cx="398.37" cy="255.23" r="2.1" fill="#b955c2"/>
<circle cx="401.44" cy="260.43" r="2.1" fill="#b955c2"/>
<circle cx="397.76" cy="272.92" r="2.1" fill="#b955c2"/>
<circle cx="399.85" cy="283.33" r="2.1" fill="#b955c2"/>
<circle cx="397.14" cy="286.46" r="2.1" fill="#b955c2"/>
<circle cx="400.46" cy="305.19" r="2.1" fill="#b955c2"/>
<circle cx="398.73" cy="315.60" r="2.1" fill="#b955c2"/>
<circle cx="401.07" cy="316.64" r="2.1" fill="#b955c2"/>
<circle cx="413.00" cy="232.32" r="2.1" fill="#c2514e"/>
<circle cx="410.00" cy="241.69" r="2.1" fill="#c2514e"/>
<circle cx="413.61" cy="244.81" r="2.1" fill="#c2514e"/>
<circle cx="409.38" cy="256.27" r="2.1" fill="#c2514e"/>
<circle cx="412.02" cy="258.35" r="2.1" fill="#c2514e"/>
<circle cx="408.77" cy="266.68" r="2.1" fill="#c2514e"/>
<circle cx="412.63" cy="268.76" r="2.1" fill="#c2514e"/>
<circle cx="410.36" cy="272.92" r="2.1" fill="#c2514e"/>
<circle cx="413.25" cy="289.58" r="2.1" fill="#c2514e"/>
<circle cx="409.75" cy="302.07" r="2.1" fill="#c2514e"/>
<circle cx="411.66" cy="304.15" r="2.1" fill="#c2514e"/>
<circle cx="409.14" cy="307.28" r="2.1" fill="#c2514e"/>
<circle cx="412.27" cy="309.36" r="2.1" fill="#c2514e"/>
<circle cx="423.69" cy="254.18" r="2.1" fill="#000"/>
<circle cx="422.10" cy="256.27" r="2.1" fill="#000"/>
<circle cx="424.31" cy="258.35" r="2.1" fill="#000"/>
<circle cx="421.49" cy="260.43" r="2.1" fill="#000"/>
<circle cx="424.92" cy="262.51" r="2.1" fill="#000"/>
<circle cx="420.88" cy="263.55" r="2.1" fill="#000"/>
<circle cx="423.33" cy="272.92" r="2.1" fill="#000"/>
<circle cx="420.26" cy="298.95" r="2.1" fill="#000"/>
<circle cx="423.94" cy="299.99" r="2.1" fill="#000"/>
<circle cx="421.85" cy="307.28" r="2.1" fill="#000"/>
<circle cx="424.56" cy="312.48" r="2.1" fill="#000"/>
<circle cx="421.24" cy="317.69" r="2.1" fill="#000"/>
<circle cx="422.97" cy="319.77" r="2.1" fill="#000"/>
<circle cx="420.63" cy="320.81" r="2.1" fill="#000"/>
<circle cx="423.58" cy="328.10" r="2.1" fill="#000"/>
<line x1="381.20" y1="229.20" x2="381.20" y2="333.30" stroke="#222" stroke-width="0.9"/>
<line x1="329.50" y1="228.90" x2="329.50" y2="333.30" stroke="#222" stroke-width="1.1"/>
<line x1="329.50" y1="333.30" x2="433.00" y2="333.30" stroke="#222" stroke-width="1.1"/>
<path d="M386.20 230.60V185.70H422.30V192.50" fill="none" stroke="#444" stroke-width="0.8"/>
<path d="M404.25 178.00L404.25 182.60M402.26 179.15L406.24 181.45M406.24 179.15L402.26 181.45" stroke="#000" stroke-width="1.25" fill="none"/>
<path d="M398.50 231.20V203.40H422.30V210.00" fill="none" stroke="#444" stroke-width="0.8"/>
<path d="M410.40 195.70L410.40 200.30M408.41 196.85L412.39 199.15M412.39 196.85L408.41 199.15" stroke="#000" stroke-width="1.25" fill="none"/>
<path d="M410.10 229.00V221.40H422.30V250.30" fill="none" stroke="#444" stroke-width="0.8"/>
<path d="M413.70 213.40L413.70 218.00M411.71 214.55L415.69 216.85M415.69 214.55L411.71 216.85" stroke="#000" stroke-width="1.25" fill="none"/>
<path d="M418.70 213.40L418.70 218.00M416.71 214.55L420.69 216.85M420.69 214.55L416.71 216.85" stroke="#000" stroke-width="1.25" fill="none"/>
<text x="355.75" y="346.20" font-size="12" text-anchor="middle" font-weight="normal" fill="#000">CD4</text>
<text x="405.85" y="346.20" font-size="12" text-anchor="middle" font-weight="normal" fill="#000">CD8</text>
<text x="374.35" y="170.30" font-size="17.3" text-anchor="middle" font-weight="normal" fill="#000" textLength="55.7" lengthAdjust="spacingAndGlyphs">CXCR4</text>
<text x="449.80" y="269.50" font-size="10.7" text-anchor="middle" font-weight="normal" fill="#000" transform="rotate(-90 449.8 269.5)" dominant-baseline="middle">CXCR5 (%)</text>
<line x1="470.00" y1="333.30" x2="473.60" y2="333.30" stroke="#222" stroke-width="1"/>
<text x="468.40" y="336.80" font-size="10" text-anchor="end" font-weight="normal" fill="#000">0</text>
<line x1="470.00" y1="312.48" x2="473.60" y2="312.48" stroke="#222" stroke-width="1"/>
<text x="468.40" y="315.98" font-size="10" text-anchor="end" font-weight="normal" fill="#000">20</text>
<line x1="470.00" y1="291.66" x2="473.60" y2="291.66" stroke="#222" stroke-width="1"/>
<text x="468.40" y="295.16" font-size="10" text-anchor="end" font-weight="normal" fill="#000">40</text>
<line x1="470.00" y1="270.84" x2="473.60" y2="270.84" stroke="#222" stroke-width="1"/>
<text x="468.40" y="274.34" font-size="10" text-anchor="end" font-weight="normal" fill="#000">60</text>
<line x1="470.00" y1="250.02" x2="473.60" y2="250.02" stroke="#222" stroke-width="1"/>
<text x="468.40" y="253.52" font-size="10" text-anchor="end" font-weight="normal" fill="#000">80</text>
<line x1="470.00" y1="229.20" x2="473.60" y2="229.20" stroke="#222" stroke-width="1"/>
<text x="468.40" y="232.70" font-size="10" text-anchor="end" font-weight="normal" fill="#000">100</text>
<rect x="480.30" y="302.07" width="7.50" height="31.23" fill="#a6acdf" stroke="#3a3a3a" stroke-width="0.9"/>
<line x1="484.05" y1="333.30" x2="484.05" y2="335.30" stroke="#222" stroke-width="0.9"/>
<rect x="491.90" y="299.47" width="7.50" height="33.83" fill="#dcaadd" stroke="#3a3a3a" stroke-width="0.9"/>
<line x1="495.65" y1="333.30" x2="495.65" y2="335.30" stroke="#222" stroke-width="0.9"/>
<rect x="503.80" y="309.36" width="7.50" height="23.94" fill="#e2aca8" stroke="#3a3a3a" stroke-width="0.9"/>
<line x1="507.55" y1="333.30" x2="507.55" y2="335.30" stroke="#222" stroke-width="0.9"/>
<rect x="515.60" y="313.00" width="7.50" height="20.30" fill="#7a7a7a" stroke="#3a3a3a" stroke-width="0.9"/>
<line x1="519.35" y1="333.30" x2="519.35" y2="335.30" stroke="#222" stroke-width="0.9"/>
<rect x="527.70" y="322.89" width="7.50" height="10.41" fill="#a6acdf" stroke="#3a3a3a" stroke-width="0.9"/>
<line x1="531.45" y1="333.30" x2="531.45" y2="335.30" stroke="#222" stroke-width="0.9"/>
<rect x="539.70" y="313.00" width="7.50" height="20.30" fill="#dcaadd" stroke="#3a3a3a" stroke-width="0.9"/>
<line x1="543.45" y1="333.30" x2="543.45" y2="335.30" stroke="#222" stroke-width="0.9"/>
<rect x="551.50" y="321.85" width="7.50" height="11.45" fill="#e2aca8" stroke="#3a3a3a" stroke-width="0.9"/>
<line x1="555.25" y1="333.30" x2="555.25" y2="335.30" stroke="#222" stroke-width="0.9"/>
<rect x="563.00" y="329.14" width="7.50" height="4.16" fill="#7a7a7a" stroke="#3a3a3a" stroke-width="0.9"/>
<line x1="566.75" y1="333.30" x2="566.75" y2="335.30" stroke="#222" stroke-width="0.9"/>
<circle cx="484.45" cy="283.33" r="2.1" fill="#4b58c4"/>
<circle cx="482.24" cy="286.46" r="2.1" fill="#4b58c4"/>
<circle cx="485.06" cy="288.54" r="2.1" fill="#4b58c4"/>
<circle cx="481.63" cy="294.78" r="2.1" fill="#4b58c4"/>
<circle cx="485.67" cy="302.07" r="2.1" fill="#4b58c4"/>
<circle cx="483.22" cy="307.28" r="2.1" fill="#4b58c4"/>
<circle cx="486.29" cy="312.48" r="2.1" fill="#4b58c4"/>
<circle cx="482.61" cy="322.89" r="2.1" fill="#4b58c4"/>
<circle cx="484.70" cy="324.97" r="2.1" fill="#4b58c4"/>
<circle cx="481.99" cy="326.01" r="2.1" fill="#4b58c4"/>
<circle cx="497.55" cy="261.47" r="2.1" fill="#b955c2"/>
<circle cx="494.55" cy="270.84" r="2.1" fill="#b955c2"/>
<circle cx="498.16" cy="291.66" r="2.1" fill="#b955c2"/>
<circle cx="493.93" cy="296.87" r="2.1" fill="#b955c2"/>
<circle cx="496.57" cy="298.95" r="2.1" fill="#b955c2"/>
<circle cx="493.32" cy="302.07" r="2.1" fill="#b955c2"/>
<circle cx="497.18" cy="307.28" r="2.1" fill="#b955c2"/>
<circle cx="494.91" cy="312.48" r="2.1" fill="#b955c2"/>
<circle cx="497.80" cy="317.69" r="2.1" fill="#b955c2"/>
<circle cx="494.30" cy="322.89" r="2.1" fill="#b955c2"/>
<circle cx="508.74" cy="267.72" r="2.1" fill="#c2514e"/>
<circle cx="507.15" cy="268.76" r="2.1" fill="#c2514e"/>
<circle cx="509.36" cy="290.62" r="2.1" fill="#c2514e"/>
<circle cx="506.54" cy="291.66" r="2.1" fill="#c2514e"/>
<circle cx="509.97" cy="305.19" r="2.1" fill="#c2514e"/>
<circle cx="505.93" cy="309.36" r="2.1" fill="#c2514e"/>
<circle cx="508.38" cy="310.40" r="2.1" fill="#c2514e"/>
<circle cx="505.31" cy="322.89" r="2.1" fill="#c2514e"/>
<circle cx="508.99" cy="326.01" r="2.1" fill="#c2514e"/>
<circle cx="506.90" cy="328.10" r="2.1" fill="#c2514e"/>
<circle cx="519.84" cy="305.19" r="2.1" fill="#000"/>
<circle cx="517.45" cy="306.23" r="2.1" fill="#000"/>
<circle cx="520.45" cy="307.28" r="2.1" fill="#000"/>
<circle cx="516.84" cy="310.40" r="2.1" fill="#000"/>
<circle cx="521.07" cy="314.56" r="2.1" fill="#000"/>
<circle cx="518.43" cy="317.69" r="2.1" fill="#000"/>
<circle cx="521.68" cy="322.89" r="2.1" fill="#000"/>
<circle cx="517.82" cy="326.01" r="2.1" fill="#000"/>
<circle cx="520.09" cy="328.10" r="2.1" fill="#000"/>
<circle cx="532.55" cy="286.46" r="2.1" fill="#4b58c4"/>
<circle cx="528.94" cy="302.07" r="2.1" fill="#4b58c4"/>
<circle cx="533.17" cy="311.44" r="2.1" fill="#4b58c4"/>
<circle cx="530.53" cy="317.69" r="2.1" fill="#4b58c4"/>
<circle cx="533.78" cy="319.77" r="2.1" fill="#4b58c4"/>
<circle cx="529.92" cy="323.93" r="2.1" fill="#4b58c4"/>
<circle cx="532.19" cy="328.10" r="2.1" fill="#4b58c4"/>
<circle cx="529.30" cy="330.18" r="2.1" fill="#4b58c4"/>
<circle cx="532.80" cy="331.22" r="2.1" fill="#4b58c4"/>
<circle cx="543.85" cy="281.25" r="2.1" fill="#b955c2"/>
<circle cx="541.64" cy="302.07" r="2.1" fill="#b955c2"/>
<circle cx="544.46" cy="305.19" r="2.1" fill="#b955c2"/>
<circle cx="541.03" cy="306.23" r="2.1" fill="#b955c2"/>
<circle cx="545.07" cy="307.28" r="2.1" fill="#b955c2"/>
<circle cx="542.62" cy="312.48" r="2.1" fill="#b955c2"/>
<circle cx="545.69" cy="322.89" r="2.1" fill="#b955c2"/>
<circle cx="542.01" cy="328.10" r="2.1" fill="#b955c2"/>
<circle cx="544.10" cy="332.26" r="2.1" fill="#b955c2"/>
<circle cx="557.15" cy="284.37" r="2.1" fill="#c2514e"/>
<circle cx="554.15" cy="299.99" r="2.1" fill="#c2514e"/>
<circle cx="557.76" cy="299.99" r="2.1" fill="#c2514e"/>
<circle cx="553.53" cy="309.36" r="2.1" fill="#c2514e"/>
<circle cx="556.17" cy="313.52" r="2.1" fill="#c2514e"/>
<circle cx="552.92" cy="319.77" r="2.1" fill="#c2514e"/>
<circle cx="556.78" cy="322.89" r="2.1" fill="#c2514e"/>
<circle cx="554.51" cy="328.10" r="2.1" fill="#c2514e"/>
<circle cx="557.40" cy="331.22" r="2.1" fill="#c2514e"/>
<circle cx="553.90" cy="332.26" r="2.1" fill="#c2514e"/>
<circle cx="567.94" cy="299.99" r="2.1" fill="#000"/>
<circle cx="566.35" cy="316.64" r="2.1" fill="#000"/>
<circle cx="568.56" cy="323.93" r="2.1" fill="#000"/>
<circle cx="565.74" cy="328.10" r="2.1" fill="#000"/>
<circle cx="569.17" cy="329.14" r="2.1" fill="#000"/>
<circle cx="565.13" cy="330.18" r="2.1" fill="#000"/>
<circle cx="567.58" cy="331.22" r="2.1" fill="#000"/>
<circle cx="564.51" cy="332.26" r="2.1" fill="#000"/>
<circle cx="568.19" cy="332.26" r="2.1" fill="#000"/>
<line x1="525.60" y1="229.20" x2="525.60" y2="333.30" stroke="#222" stroke-width="0.9"/>
<line x1="473.60" y1="228.90" x2="473.60" y2="333.30" stroke="#222" stroke-width="1.1"/>
<line x1="473.60" y1="333.30" x2="577.00" y2="333.30" stroke="#222" stroke-width="1.1"/>
<path d="M531.40 281.00V214.40H567.10V221.00" fill="none" stroke="#444" stroke-width="0.8"/>
<path d="M549.25 207.10L549.25 211.70M547.26 208.25L551.24 210.55M551.24 208.25L547.26 210.55" stroke="#000" stroke-width="1.25" fill="none"/>
<path d="M543.20 276.90V232.50H567.10V239.50" fill="none" stroke="#444" stroke-width="0.8"/>
<path d="M552.65 224.70L552.65 229.30M550.66 225.85L554.64 228.15M554.64 225.85L550.66 228.15" stroke="#000" stroke-width="1.25" fill="none"/>
<path d="M557.65 224.70L557.65 229.30M555.66 225.85L559.64 228.15M559.64 225.85L555.66 228.15" stroke="#000" stroke-width="1.25" fill="none"/>
<path d="M555.50 281.00V251.80H567.10V293.50" fill="none" stroke="#444" stroke-width="0.8"/>
<text x="561.30" y="247.00" font-size="7.5" text-anchor="middle" font-weight="normal" fill="#333">ns</text>
<text x="500.10" y="346.20" font-size="12" text-anchor="middle" font-weight="normal" fill="#000">CD4</text>
<text x="549.95" y="346.20" font-size="12" text-anchor="middle" font-weight="normal" fill="#000">CD8</text>
<text x="519.05" y="170.30" font-size="17.3" text-anchor="middle" font-weight="normal" fill="#000" textLength="55.5" lengthAdjust="spacingAndGlyphs">CXCR5</text>
<text x="593.80" y="269.50" font-size="10.7" text-anchor="middle" font-weight="normal" fill="#000" transform="rotate(-90 593.8 269.5)" dominant-baseline="middle">CXCR6 (%)</text>
<line x1="614.50" y1="333.30" x2="618.10" y2="333.30" stroke="#222" stroke-width="1"/>
<text x="612.90" y="336.80" font-size="10" text-anchor="end" font-weight="normal" fill="#000">0</text>
<line x1="614.50" y1="312.48" x2="618.10" y2="312.48" stroke="#222" stroke-width="1"/>
<text x="612.90" y="315.98" font-size="10" text-anchor="end" font-weight="normal" fill="#000">20</text>
<line x1="614.50" y1="291.66" x2="618.10" y2="291.66" stroke="#222" stroke-width="1"/>
<text x="612.90" y="295.16" font-size="10" text-anchor="end" font-weight="normal" fill="#000">40</text>
<line x1="614.50" y1="270.84" x2="618.10" y2="270.84" stroke="#222" stroke-width="1"/>
<text x="612.90" y="274.34" font-size="10" text-anchor="end" font-weight="normal" fill="#000">60</text>
<line x1="614.50" y1="250.02" x2="618.10" y2="250.02" stroke="#222" stroke-width="1"/>
<text x="612.90" y="253.52" font-size="10" text-anchor="end" font-weight="normal" fill="#000">80</text>
<line x1="614.50" y1="229.20" x2="618.10" y2="229.20" stroke="#222" stroke-width="1"/>
<text x="612.90" y="232.70" font-size="10" text-anchor="end" font-weight="normal" fill="#000">100</text>
<rect x="622.50" y="310.40" width="7.70" height="22.90" fill="#a6acdf" stroke="#3a3a3a" stroke-width="0.9"/>
<line x1="626.35" y1="333.30" x2="626.35" y2="335.30" stroke="#222" stroke-width="0.9"/>
<rect x="635.00" y="311.44" width="7.70" height="21.86" fill="#dcaadd" stroke="#3a3a3a" stroke-width="0.9"/>
<line x1="638.85" y1="333.30" x2="638.85" y2="335.30" stroke="#222" stroke-width="0.9"/>
<rect x="647.20" y="303.11" width="7.70" height="30.19" fill="#e2aca8" stroke="#3a3a3a" stroke-width="0.9"/>
<line x1="651.05" y1="333.30" x2="651.05" y2="335.30" stroke="#222" stroke-width="0.9"/>
<rect x="660.30" y="331.22" width="7.70" height="2.08" fill="#7a7a7a" stroke="#3a3a3a" stroke-width="0.9"/>
<line x1="664.15" y1="333.30" x2="664.15" y2="335.30" stroke="#222" stroke-width="0.9"/>
<rect x="672.40" y="323.93" width="7.70" height="9.37" fill="#a6acdf" stroke="#3a3a3a" stroke-width="0.9"/>
<line x1="676.25" y1="333.30" x2="676.25" y2="335.30" stroke="#222" stroke-width="0.9"/>
<rect x="684.60" y="317.69" width="7.70" height="15.62" fill="#dcaadd" stroke="#3a3a3a" stroke-width="0.9"/>
<line x1="688.45" y1="333.30" x2="688.45" y2="335.30" stroke="#222" stroke-width="0.9"/>
<rect x="697.10" y="297.91" width="7.70" height="35.39" fill="#e2aca8" stroke="#3a3a3a" stroke-width="0.9"/>
<line x1="700.95" y1="333.30" x2="700.95" y2="335.30" stroke="#222" stroke-width="0.9"/>
<rect x="709.10" y="331.22" width="7.70" height="2.08" fill="#7a7a7a" stroke="#3a3a3a" stroke-width="0.9"/>
<line x1="712.95" y1="333.30" x2="712.95" y2="335.30" stroke="#222" stroke-width="0.9"/>
<circle cx="626.75" cy="295.82" r="2.1" fill="#4b58c4"/>
<circle cx="624.54" cy="308.32" r="2.1" fill="#4b58c4"/>
<circle cx="627.36" cy="310.40" r="2.1" fill="#4b58c4"/>
<circle cx="623.93" cy="311.44" r="2.1" fill="#4b58c4"/>
<circle cx="627.97" cy="314.56" r="2.1" fill="#4b58c4"/>
<circle cx="625.52" cy="327.05" r="2.1" fill="#4b58c4"/>
<circle cx="640.75" cy="292.70" r="2.1" fill="#b955c2"/>
<circle cx="637.75" cy="310.40" r="2.1" fill="#b955c2"/>
<circle cx="641.36" cy="311.44" r="2.1" fill="#b955c2"/>
<circle cx="637.13" cy="320.81" r="2.1" fill="#b955c2"/>
<circle cx="639.77" cy="327.05" r="2.1" fill="#b955c2"/>
<circle cx="652.24" cy="290.62" r="2.1" fill="#c2514e"/>
<circle cx="650.65" cy="304.15" r="2.1" fill="#c2514e"/>
<circle cx="652.86" cy="305.19" r="2.1" fill="#c2514e"/>
<circle cx="650.04" cy="307.28" r="2.1" fill="#c2514e"/>
<circle cx="653.47" cy="312.48" r="2.1" fill="#c2514e"/>
<circle cx="664.64" cy="331.22" r="2.1" fill="#000"/>
<circle cx="662.25" cy="332.26" r="2.1" fill="#000"/>
<circle cx="665.25" cy="332.26" r="2.1" fill="#000"/>
<circle cx="661.64" cy="332.78" r="2.1" fill="#000"/>
<circle cx="665.87" cy="332.78" r="2.1" fill="#000"/>
<circle cx="663.23" cy="333.30" r="2.1" fill="#000"/>
<circle cx="677.35" cy="296.87" r="2.1" fill="#4b58c4"/>
<circle cx="673.74" cy="320.81" r="2.1" fill="#4b58c4"/>
<circle cx="677.97" cy="322.89" r="2.1" fill="#4b58c4"/>
<circle cx="675.33" cy="323.93" r="2.1" fill="#4b58c4"/>
<circle cx="678.58" cy="328.10" r="2.1" fill="#4b58c4"/>
<circle cx="688.85" cy="290.62" r="2.1" fill="#b955c2"/>
<circle cx="686.64" cy="304.15" r="2.1" fill="#b955c2"/>
<circle cx="689.46" cy="317.69" r="2.1" fill="#b955c2"/>
<circle cx="686.03" cy="324.97" r="2.1" fill="#b955c2"/>
<circle cx="690.07" cy="327.05" r="2.1" fill="#b955c2"/>
<circle cx="702.85" cy="292.70" r="2.1" fill="#c2514e"/>
<circle cx="699.85" cy="294.78" r="2.1" fill="#c2514e"/>
<circle cx="703.46" cy="296.87" r="2.1" fill="#c2514e"/>
<circle cx="699.23" cy="302.07" r="2.1" fill="#c2514e"/>
<circle cx="701.87" cy="310.40" r="2.1" fill="#c2514e"/>
<circle cx="714.14" cy="331.22" r="2.1" fill="#000"/>
<circle cx="712.55" cy="332.26" r="2.1" fill="#000"/>
<circle cx="714.76" cy="332.26" r="2.1" fill="#000"/>
<circle cx="711.94" cy="332.78" r="2.1" fill="#000"/>
<line x1="669.70" y1="229.20" x2="669.70" y2="333.30" stroke="#222" stroke-width="0.9"/>
<line x1="618.10" y1="228.90" x2="618.10" y2="333.30" stroke="#222" stroke-width="1.1"/>
<line x1="618.10" y1="333.30" x2="721.00" y2="333.30" stroke="#222" stroke-width="1.1"/>
<path d="M626.40 289.80V219.40H663.40V226.00" fill="none" stroke="#444" stroke-width="0.8"/>
<text x="644.90" y="214.80" font-size="7.5" text-anchor="middle" font-weight="normal" fill="#333">ns</text>
<path d="M638.50 288.80V231.00H663.40V237.50" fill="none" stroke="#444" stroke-width="0.8"/>
<text x="650.95" y="226.80" font-size="7.5" text-anchor="middle" font-weight="normal" fill="#333">ns</text>
<path d="M650.50 285.60V248.50H663.40V327.20" fill="none" stroke="#444" stroke-width="0.8"/>
<path d="M651.95 240.40L651.95 245.00M649.96 241.55L653.94 243.85M653.94 241.55L649.96 243.85" stroke="#000" stroke-width="1.25" fill="none"/>
<path d="M656.95 240.40L656.95 245.00M654.96 241.55L658.94 243.85M658.94 241.55L654.96 243.85" stroke="#000" stroke-width="1.25" fill="none"/>
<path d="M661.95 240.40L661.95 245.00M659.96 241.55L663.94 243.85M663.94 241.55L659.96 243.85" stroke="#000" stroke-width="1.25" fill="none"/>
<path d="M675.50 292.90V219.40H713.90V226.00" fill="none" stroke="#444" stroke-width="0.8"/>
<text x="694.70" y="214.80" font-size="7.5" text-anchor="middle" font-weight="normal" fill="#333">ns</text>
<path d="M688.00 286.70V231.00H713.90V237.50" fill="none" stroke="#444" stroke-width="0.8"/>
<text x="700.95" y="226.80" font-size="7.5" text-anchor="middle" font-weight="normal" fill="#333">ns</text>
<path d="M700.80 288.80V248.50H713.90V327.20" fill="none" stroke="#444" stroke-width="0.8"/>
<path d="M704.85 240.40L704.85 245.00M702.86 241.55L706.84 243.85M706.84 241.55L702.86 243.85" stroke="#000" stroke-width="1.25" fill="none"/>
<path d="M709.85 240.40L709.85 245.00M707.86 241.55L711.84 243.85M711.84 241.55L707.86 243.85" stroke="#000" stroke-width="1.25" fill="none"/>
<text x="644.20" y="346.20" font-size="12" text-anchor="middle" font-weight="normal" fill="#000">CD4</text>
<text x="694.05" y="346.20" font-size="12" text-anchor="middle" font-weight="normal" fill="#000">CD8</text>
<text x="675.55" y="170.30" font-size="17.3" text-anchor="middle" font-weight="normal" fill="#000" textLength="55.5" lengthAdjust="spacingAndGlyphs">CXCR6</text>
<rect x="36.80" y="380.40" width="461.00" height="20.60" fill="#fff" stroke="#222" stroke-width="1"/>
<circle cx="47.90" cy="390.00" r="4.6" fill="#4b58c4" stroke="#333" stroke-width="0.8"/>
<text x="55.80" y="394.40" font-size="11.8" text-anchor="start" font-weight="normal" fill="#000" textLength="73.1" lengthAdjust="spacingAndGlyphs">Central Tissue</text>
<circle cx="140.10" cy="390.00" r="4.6" fill="#b955c2" stroke="#333" stroke-width="0.8"/>
<text x="147.50" y="394.40" font-size="11.8" text-anchor="start" font-weight="normal" fill="#000" textLength="88.8" lengthAdjust="spacingAndGlyphs">Peripheral Tissue</text>
<circle cx="244.80" cy="390.00" r="4.6" fill="#c2514e" stroke="#333" stroke-width="0.8"/>
<text x="252.90" y="394.40" font-size="11.8" text-anchor="start" font-weight="normal" fill="#000" textLength="94.4" lengthAdjust="spacingAndGlyphs">Non-Tumor Tissue</text>
<circle cx="358.00" cy="390.00" r="4.6" fill="#000" stroke="#333" stroke-width="0.8"/>
<text x="366.20" y="394.40" font-size="11.8" text-anchor="start" font-weight="normal" fill="#000" textLength="127.2" lengthAdjust="spacingAndGlyphs">Blood (Patients' PBMCs)</text>
<text x="5.20" y="16.10" font-size="19.5" text-anchor="start" font-weight="bold" fill="#000" textLength="15.6" lengthAdjust="spacingAndGlyphs">A</text>
<text x="6.60" y="45.90" font-size="10.8" text-anchor="start" font-weight="normal" fill="#111" textLength="23.3" lengthAdjust="spacingAndGlyphs">FMO</text>
<text x="5.40" y="61.00" font-size="10.8" text-anchor="start" font-weight="normal" fill="#4b58c4" textLength="32.8" lengthAdjust="spacingAndGlyphs">Central</text>
<text x="5.50" y="77.60" font-size="10.8" text-anchor="start" font-weight="normal" fill="#b45ab9" textLength="46.7" lengthAdjust="spacingAndGlyphs">Peripheral</text>
<text x="5.50" y="93.50" font-size="10.8" text-anchor="start" font-weight="normal" fill="#c0504d" textLength="52.0" lengthAdjust="spacingAndGlyphs">Non-Tumor</text>
<text x="6.40" y="112.20" font-size="10.8" text-anchor="start" font-weight="normal" fill="#000" textLength="26.2" lengthAdjust="spacingAndGlyphs">Blood</text>
<line x1="69.40" y1="29.70" x2="69.40" y2="31.00" stroke="#000" stroke-width="0.8"/>
<line x1="71.40" y1="29.70" x2="71.40" y2="31.00" stroke="#000" stroke-width="0.8"/>
<line x1="73.40" y1="29.70" x2="73.40" y2="31.00" stroke="#000" stroke-width="0.8"/>
<line x1="75.40" y1="29.70" x2="75.40" y2="31.00" stroke="#000" stroke-width="0.8"/>
<line x1="78.20" y1="26.40" x2="78.20" y2="31.00" stroke="#000" stroke-width="1.05"/>
<line x1="79.74" y1="29.40" x2="79.74" y2="31.00" stroke="#000" stroke-width="1.05"/>
<line x1="81.29" y1="28.60" x2="81.29" y2="31.00" stroke="#000" stroke-width="1.05"/>
<line x1="82.83" y1="29.40" x2="82.83" y2="31.00" stroke="#000" stroke-width="1.05"/>
<line x1="84.38" y1="26.60" x2="84.38" y2="31.00" stroke="#000" stroke-width="1.05"/>
<line x1="85.92" y1="29.00" x2="85.92" y2="31.00" stroke="#000" stroke-width="1.05"/>
<line x1="87.46" y1="29.40" x2="87.46" y2="31.00" stroke="#000" stroke-width="1.05"/>
<line x1="89.01" y1="27.80" x2="89.01" y2="31.00" stroke="#000" stroke-width="1.05"/>
<line x1="90.55" y1="29.00" x2="90.55" y2="31.00" stroke="#000" stroke-width="1.05"/>
<line x1="92.09" y1="26.40" x2="92.09" y2="31.00" stroke="#000" stroke-width="1.05"/>
<line x1="93.64" y1="29.40" x2="93.64" y2="31.00" stroke="#000" stroke-width="1.05"/>
<line x1="95.18" y1="28.40" x2="95.18" y2="31.00" stroke="#000" stroke-width="1.05"/>
<line x1="96.73" y1="26.40" x2="96.73" y2="31.00" stroke="#000" stroke-width="1.05"/>
<line x1="98.27" y1="29.40" x2="98.27" y2="31.00" stroke="#000" stroke-width="1.05"/>
<line x1="99.81" y1="28.60" x2="99.81" y2="31.00" stroke="#000" stroke-width="1.05"/>
<line x1="101.36" y1="29.40" x2="101.36" y2="31.00" stroke="#000" stroke-width="1.05"/>
<line x1="102.90" y1="26.60" x2="102.90" y2="31.00" stroke="#000" stroke-width="1.05"/>
<rect x="88.40" y="26.10" width="4.30" height="4.90" fill="#000" stroke="none" stroke-width="1"/>
<line x1="109.88" y1="29.70" x2="109.88" y2="31.00" stroke="#000" stroke-width="1.05"/>
<line x1="112.15" y1="29.50" x2="112.15" y2="31.00" stroke="#000" stroke-width="1.05"/>
<line x1="113.77" y1="29.50" x2="113.77" y2="31.00" stroke="#000" stroke-width="1.05"/>
<line x1="115.02" y1="28.40" x2="115.02" y2="31.00" stroke="#000" stroke-width="1.05"/>
<line x1="116.04" y1="29.00" x2="116.04" y2="31.00" stroke="#000" stroke-width="1.05"/>
<line x1="116.90" y1="28.40" x2="116.90" y2="31.00" stroke="#000" stroke-width="1.05"/>
<line x1="117.65" y1="27.80" x2="117.65" y2="31.00" stroke="#000" stroke-width="1.05"/>
<line x1="118.31" y1="27.80" x2="118.31" y2="31.00" stroke="#000" stroke-width="1.05"/>
<line x1="118.90" y1="26.40" x2="118.90" y2="31.00" stroke="#000" stroke-width="1.05"/>
<line x1="123.26" y1="29.70" x2="123.26" y2="31.00" stroke="#000" stroke-width="1.05"/>
<line x1="125.46" y1="29.50" x2="125.46" y2="31.00" stroke="#000" stroke-width="1.05"/>
<line x1="127.03" y1="29.50" x2="127.03" y2="31.00" stroke="#000" stroke-width="1.05"/>
<line x1="128.24" y1="28.40" x2="128.24" y2="31.00" stroke="#000" stroke-width="1.05"/>
<line x1="129.23" y1="29.00" x2="129.23" y2="31.00" stroke="#000" stroke-width="1.05"/>
<line x1="130.06" y1="28.40" x2="130.06" y2="31.00" stroke="#000" stroke-width="1.05"/>
<line x1="130.79" y1="27.80" x2="130.79" y2="31.00" stroke="#000" stroke-width="1.05"/>
<line x1="131.43" y1="27.80" x2="131.43" y2="31.00" stroke="#000" stroke-width="1.05"/>
<line x1="132.00" y1="26.40" x2="132.00" y2="31.00" stroke="#000" stroke-width="1.05"/>
<line x1="137.20" y1="29.70" x2="137.20" y2="31.00" stroke="#000" stroke-width="1.05"/>
<line x1="139.37" y1="29.50" x2="139.37" y2="31.00" stroke="#000" stroke-width="1.05"/>
<line x1="140.91" y1="29.50" x2="140.91" y2="31.00" stroke="#000" stroke-width="1.05"/>
<line x1="142.10" y1="28.40" x2="142.10" y2="31.00" stroke="#000" stroke-width="1.05"/>
<line x1="143.07" y1="29.00" x2="143.07" y2="31.00" stroke="#000" stroke-width="1.05"/>
<line x1="143.89" y1="28.40" x2="143.89" y2="31.00" stroke="#000" stroke-width="1.05"/>
<line x1="144.61" y1="27.80" x2="144.61" y2="31.00" stroke="#000" stroke-width="1.05"/>
<line x1="145.24" y1="27.80" x2="145.24" y2="31.00" stroke="#000" stroke-width="1.05"/>
<line x1="145.80" y1="26.40" x2="145.80" y2="31.00" stroke="#000" stroke-width="1.05"/>
<line x1="150.44" y1="29.70" x2="150.44" y2="31.00" stroke="#000" stroke-width="1.05"/>
<line x1="152.57" y1="29.50" x2="152.57" y2="31.00" stroke="#000" stroke-width="1.05"/>
<line x1="154.08" y1="29.50" x2="154.08" y2="31.00" stroke="#000" stroke-width="1.05"/>
<line x1="155.26" y1="28.40" x2="155.26" y2="31.00" stroke="#000" stroke-width="1.05"/>
<line x1="156.22" y1="29.00" x2="156.22" y2="31.00" stroke="#000" stroke-width="1.05"/>
<line x1="157.03" y1="28.40" x2="157.03" y2="31.00" stroke="#000" stroke-width="1.05"/>
<line x1="157.73" y1="27.80" x2="157.73" y2="31.00" stroke="#000" stroke-width="1.05"/>
<line x1="158.35" y1="27.80" x2="158.35" y2="31.00" stroke="#000" stroke-width="1.05"/>
<line x1="158.90" y1="26.40" x2="158.90" y2="31.00" stroke="#000" stroke-width="1.05"/>
<line x1="62.40" y1="31.70" x2="67.60" y2="31.70" stroke="#000" stroke-width="1.3"/>
<line x1="65.40" y1="34.70" x2="67.60" y2="34.70" stroke="#000" stroke-width="0.9"/>
<line x1="65.40" y1="37.70" x2="67.60" y2="37.70" stroke="#000" stroke-width="0.9"/>
<line x1="65.40" y1="40.70" x2="67.60" y2="40.70" stroke="#000" stroke-width="0.9"/>
<line x1="65.40" y1="43.70" x2="67.60" y2="43.70" stroke="#000" stroke-width="0.9"/>
<line x1="65.40" y1="46.70" x2="67.60" y2="46.70" stroke="#000" stroke-width="0.9"/>
<line x1="62.40" y1="49.30" x2="67.60" y2="49.30" stroke="#000" stroke-width="1.3"/>
<line x1="65.40" y1="52.30" x2="67.60" y2="52.30" stroke="#000" stroke-width="0.9"/>
<line x1="65.40" y1="55.30" x2="67.60" y2="55.30" stroke="#000" stroke-width="0.9"/>
<line x1="65.40" y1="58.30" x2="67.60" y2="58.30" stroke="#000" stroke-width="0.9"/>
<line x1="65.40" y1="61.30" x2="67.60" y2="61.30" stroke="#000" stroke-width="0.9"/>
<line x1="65.40" y1="64.30" x2="67.60" y2="64.30" stroke="#000" stroke-width="0.9"/>
<line x1="62.40" y1="66.90" x2="67.60" y2="66.90" stroke="#000" stroke-width="1.3"/>
<line x1="65.40" y1="69.90" x2="67.60" y2="69.90" stroke="#000" stroke-width="0.9"/>
<line x1="65.40" y1="72.90" x2="67.60" y2="72.90" stroke="#000" stroke-width="0.9"/>
<line x1="65.40" y1="75.90" x2="67.60" y2="75.90" stroke="#000" stroke-width="0.9"/>
<line x1="65.40" y1="78.90" x2="67.60" y2="78.90" stroke="#000" stroke-width="0.9"/>
<line x1="65.40" y1="81.90" x2="67.60" y2="81.90" stroke="#000" stroke-width="0.9"/>
<line x1="62.40" y1="84.50" x2="67.60" y2="84.50" stroke="#000" stroke-width="1.3"/>
<line x1="65.40" y1="87.50" x2="67.60" y2="87.50" stroke="#000" stroke-width="0.9"/>
<line x1="65.40" y1="90.50" x2="67.60" y2="90.50" stroke="#000" stroke-width="0.9"/>
<line x1="65.40" y1="93.50" x2="67.60" y2="93.50" stroke="#000" stroke-width="0.9"/>
<line x1="65.40" y1="96.50" x2="67.60" y2="96.50" stroke="#000" stroke-width="0.9"/>
<line x1="65.40" y1="99.50" x2="67.60" y2="99.50" stroke="#000" stroke-width="0.9"/>
<line x1="62.40" y1="102.10" x2="67.60" y2="102.10" stroke="#000" stroke-width="1.3"/>
<line x1="65.40" y1="105.10" x2="67.60" y2="105.10" stroke="#000" stroke-width="0.9"/>
<line x1="65.40" y1="108.10" x2="67.60" y2="108.10" stroke="#000" stroke-width="0.9"/>
<line x1="65.40" y1="111.10" x2="67.60" y2="111.10" stroke="#000" stroke-width="0.9"/>
<line x1="65.40" y1="114.10" x2="67.60" y2="114.10" stroke="#000" stroke-width="0.9"/>
<line x1="65.40" y1="117.10" x2="67.60" y2="117.10" stroke="#000" stroke-width="0.9"/>
<line x1="62.40" y1="119.70" x2="67.60" y2="119.70" stroke="#000" stroke-width="1.3"/>
<rect x="67.60" y="31.00" width="92.90" height="92.40" fill="none" stroke="#b5b5b5" stroke-width="1"/>
<rect x="78.60" y="40.80" width="24.40" height="11.20" rx="7.84" ry="5.60" fill="url(#zb)" stroke="#000" stroke-width="1.0"/>
<rect x="83.24" y="43.32" width="15.13" height="6.16" rx="4.31" ry="3.08" fill="none" stroke="#111" stroke-width="0.55"/>
<rect x="96.2" y="60.8" width="2.3" height="1" fill="#222"/>
<rect x="107.20" y="56.50" width="26.80" height="11.00" rx="7.70" ry="5.50" fill="url(#zb)" stroke="#000" stroke-width="1.0"/>
<rect x="112.29" y="58.98" width="16.62" height="6.05" rx="4.24" ry="3.03" fill="none" stroke="#111" stroke-width="0.55"/>
<path d="M110.00 75.80C102.25 75.80 96.50 76.70 95.50 76.70A1.30 1.30 0 0 0 95.50 79.30C96.50 79.30 102.25 80.20 110.00 80.20Z" fill="#000" stroke="#000" stroke-width="0.8"/>
<rect x="107.70" y="71.60" width="26.60" height="12.00" rx="8.40" ry="6.00" fill="url(#zb)" stroke="#000" stroke-width="1.0"/>
<rect x="112.75" y="74.30" width="16.49" height="6.60" rx="4.62" ry="3.30" fill="none" stroke="#111" stroke-width="0.55"/>
<path d="M87.50 91.50C96.35 88.72 102.10 87.30 109.00 87.30L126.88 87.30A7.12 5.70 0 0 1 126.88 98.70L109.00 98.70C102.10 98.70 96.35 97.28 87.50 94.50A1.50 1.50 0 0 1 87.50 91.50Z" fill="url(#gtw)" stroke="#000" stroke-width="1.4"/>
<rect x="107.60" y="87.90" width="25.80" height="10.20" rx="7.14" ry="5.10" fill="url(#zb)" stroke="none" stroke-width="0"/>
<rect x="108.90" y="89.10" width="23.20" height="7.80" rx="5.46" ry="3.90" fill="none" stroke="#1a1a1a" stroke-width="0.6"/>
<rect x="110.30" y="90.40" width="20.40" height="5.20" rx="3.64" ry="2.60" fill="none" stroke="#2a2a2a" stroke-width="0.5"/>
<rect x="76.50" y="103.80" width="57.00" height="10.20" rx="7.14" ry="5.10" fill="url(#gb)" stroke="#000" stroke-width="1.1"/>
<rect x="106.50" y="105.20" width="27.00" height="7.60" rx="5.32" ry="3.80" fill="#9a9a9a" stroke="#111" stroke-width="0.7"/>
<rect x="109.50" y="106.40" width="21.00" height="5.20" rx="3.64" ry="2.60" fill="#cfcfcf" stroke="#222" stroke-width="0.6"/>
<rect x="113.00" y="107.60" width="14.00" height="2.80" rx="1.96" ry="1.40" fill="#888" stroke="#222" stroke-width="0.5"/>
<rect x="102.30" y="38.20" width="57.50" height="14.00" fill="none" stroke="#4a4a4a" stroke-width="0.9"/>
<rect x="102.30" y="54.40" width="57.50" height="14.70" fill="none" stroke="#4a4a4a" stroke-width="0.9"/>
<rect x="102.30" y="70.70" width="57.50" height="14.30" fill="none" stroke="#4a4a4a" stroke-width="0.9"/>
<rect x="102.30" y="86.90" width="57.50" height="14.50" fill="none" stroke="#4a4a4a" stroke-width="0.9"/>
<rect x="102.30" y="103.10" width="57.50" height="15.00" fill="none" stroke="#4a4a4a" stroke-width="0.9"/>
<text x="155.30" y="65.00" font-size="10.0" text-anchor="end" font-weight="normal" fill="#000" textLength="18.4" lengthAdjust="spacingAndGlyphs">99%</text>
<text x="155.30" y="79.80" font-size="10.0" text-anchor="end" font-weight="normal" fill="#000" textLength="18.4" lengthAdjust="spacingAndGlyphs">98%</text>
<text x="155.30" y="95.30" font-size="10.0" text-anchor="end" font-weight="normal" fill="#000" textLength="18.4" lengthAdjust="spacingAndGlyphs">95%</text>
<text x="155.30" y="112.60" font-size="10.0" text-anchor="end" font-weight="normal" fill="#000" textLength="18.4" lengthAdjust="spacingAndGlyphs">74%</text>
<text x="65.30" y="136.20" font-size="10.0" text-anchor="start" font-weight="normal" fill="#000" textLength="25.2" lengthAdjust="spacingAndGlyphs">CCR5</text>
<line x1="95.30" y1="132.70" x2="123.00" y2="132.70" stroke="#222" stroke-width="0.7"/>
<path d="M122.50 129.4L128.60 132.7L122.50 136.1Z" fill="#000"/>
<line x1="175.10" y1="29.90" x2="175.10" y2="31.20" stroke="#000" stroke-width="0.8"/>
<line x1="177.10" y1="29.90" x2="177.10" y2="31.20" stroke="#000" stroke-width="0.8"/>
<line x1="179.10" y1="29.90" x2="179.10" y2="31.20" stroke="#000" stroke-width="0.8"/>
<line x1="181.10" y1="29.90" x2="181.10" y2="31.20" stroke="#000" stroke-width="0.8"/>
<line x1="190.00" y1="26.60" x2="190.00" y2="31.20" stroke="#000" stroke-width="1.05"/>
<line x1="191.54" y1="29.60" x2="191.54" y2="31.20" stroke="#000" stroke-width="1.05"/>
<line x1="193.07" y1="28.80" x2="193.07" y2="31.20" stroke="#000" stroke-width="1.05"/>
<line x1="194.61" y1="29.60" x2="194.61" y2="31.20" stroke="#000" stroke-width="1.05"/>
<line x1="196.14" y1="26.80" x2="196.14" y2="31.20" stroke="#000" stroke-width="1.05"/>
<line x1="197.68" y1="29.20" x2="197.68" y2="31.20" stroke="#000" stroke-width="1.05"/>
<line x1="199.21" y1="29.60" x2="199.21" y2="31.20" stroke="#000" stroke-width="1.05"/>
<line x1="200.75" y1="28.00" x2="200.75" y2="31.20" stroke="#000" stroke-width="1.05"/>
<line x1="202.29" y1="29.20" x2="202.29" y2="31.20" stroke="#000" stroke-width="1.05"/>
<line x1="203.82" y1="26.60" x2="203.82" y2="31.20" stroke="#000" stroke-width="1.05"/>
<line x1="205.36" y1="29.60" x2="205.36" y2="31.20" stroke="#000" stroke-width="1.05"/>
<line x1="206.89" y1="28.60" x2="206.89" y2="31.20" stroke="#000" stroke-width="1.05"/>
<line x1="208.43" y1="26.60" x2="208.43" y2="31.20" stroke="#000" stroke-width="1.05"/>
<line x1="209.96" y1="29.60" x2="209.96" y2="31.20" stroke="#000" stroke-width="1.05"/>
<line x1="211.50" y1="28.80" x2="211.50" y2="31.20" stroke="#000" stroke-width="1.05"/>
<rect x="199.00" y="26.30" width="4.20" height="4.90" fill="#000" stroke="none" stroke-width="1"/>
<line x1="219.82" y1="29.90" x2="219.82" y2="31.20" stroke="#000" stroke-width="1.05"/>
<line x1="222.63" y1="29.70" x2="222.63" y2="31.20" stroke="#000" stroke-width="1.05"/>
<line x1="224.63" y1="29.70" x2="224.63" y2="31.20" stroke="#000" stroke-width="1.05"/>
<line x1="226.18" y1="28.60" x2="226.18" y2="31.20" stroke="#000" stroke-width="1.05"/>
<line x1="227.45" y1="29.20" x2="227.45" y2="31.20" stroke="#000" stroke-width="1.05"/>
<line x1="228.52" y1="28.60" x2="228.52" y2="31.20" stroke="#000" stroke-width="1.05"/>
<line x1="229.45" y1="28.00" x2="229.45" y2="31.20" stroke="#000" stroke-width="1.05"/>
<line x1="230.27" y1="28.00" x2="230.27" y2="31.20" stroke="#000" stroke-width="1.05"/>
<line x1="231.00" y1="26.60" x2="231.00" y2="31.20" stroke="#000" stroke-width="1.05"/>
<line x1="236.83" y1="29.90" x2="236.83" y2="31.20" stroke="#000" stroke-width="1.05"/>
<line x1="239.37" y1="29.70" x2="239.37" y2="31.20" stroke="#000" stroke-width="1.05"/>
<line x1="241.17" y1="29.70" x2="241.17" y2="31.20" stroke="#000" stroke-width="1.05"/>
<line x1="242.57" y1="28.60" x2="242.57" y2="31.20" stroke="#000" stroke-width="1.05"/>
<line x1="243.71" y1="29.20" x2="243.71" y2="31.20" stroke="#000" stroke-width="1.05"/>
<line x1="244.67" y1="28.60" x2="244.67" y2="31.20" stroke="#000" stroke-width="1.05"/>
<line x1="245.50" y1="28.00" x2="245.50" y2="31.20" stroke="#000" stroke-width="1.05"/>
<line x1="246.24" y1="28.00" x2="246.24" y2="31.20" stroke="#000" stroke-width="1.05"/>
<line x1="246.90" y1="26.60" x2="246.90" y2="31.20" stroke="#000" stroke-width="1.05"/>
<line x1="253.23" y1="29.90" x2="253.23" y2="31.20" stroke="#000" stroke-width="1.05"/>
<line x1="255.99" y1="29.70" x2="255.99" y2="31.20" stroke="#000" stroke-width="1.05"/>
<line x1="257.95" y1="29.70" x2="257.95" y2="31.20" stroke="#000" stroke-width="1.05"/>
<line x1="259.47" y1="28.60" x2="259.47" y2="31.20" stroke="#000" stroke-width="1.05"/>
<line x1="260.72" y1="29.20" x2="260.72" y2="31.20" stroke="#000" stroke-width="1.05"/>
<line x1="261.77" y1="28.60" x2="261.77" y2="31.20" stroke="#000" stroke-width="1.05"/>
<line x1="262.68" y1="28.00" x2="262.68" y2="31.20" stroke="#000" stroke-width="1.05"/>
<line x1="263.48" y1="28.00" x2="263.48" y2="31.20" stroke="#000" stroke-width="1.05"/>
<line x1="264.20" y1="26.60" x2="264.20" y2="31.20" stroke="#000" stroke-width="1.05"/>
<line x1="168.10" y1="31.90" x2="173.30" y2="31.90" stroke="#000" stroke-width="1.3"/>
<line x1="171.10" y1="34.90" x2="173.30" y2="34.90" stroke="#000" stroke-width="0.9"/>
<line x1="171.10" y1="37.90" x2="173.30" y2="37.90" stroke="#000" stroke-width="0.9"/>
<line x1="171.10" y1="40.90" x2="173.30" y2="40.90" stroke="#000" stroke-width="0.9"/>
<line x1="171.10" y1="43.90" x2="173.30" y2="43.90" stroke="#000" stroke-width="0.9"/>
<line x1="171.10" y1="46.90" x2="173.30" y2="46.90" stroke="#000" stroke-width="0.9"/>
<line x1="168.10" y1="49.50" x2="173.30" y2="49.50" stroke="#000" stroke-width="1.3"/>
<line x1="171.10" y1="52.50" x2="173.30" y2="52.50" stroke="#000" stroke-width="0.9"/>
<line x1="171.10" y1="55.50" x2="173.30" y2="55.50" stroke="#000" stroke-width="0.9"/>
<line x1="171.10" y1="58.50" x2="173.30" y2="58.50" stroke="#000" stroke-width="0.9"/>
<line x1="171.10" y1="61.50" x2="173.30" y2="61.50" stroke="#000" stroke-width="0.9"/>
<line x1="171.10" y1="64.50" x2="173.30" y2="64.50" stroke="#000" stroke-width="0.9"/>
<line x1="168.10" y1="67.10" x2="173.30" y2="67.10" stroke="#000" stroke-width="1.3"/>
<line x1="171.10" y1="70.10" x2="173.30" y2="70.10" stroke="#000" stroke-width="0.9"/>
<line x1="171.10" y1="73.10" x2="173.30" y2="73.10" stroke="#000" stroke-width="0.9"/>
<line x1="171.10" y1="76.10" x2="173.30" y2="76.10" stroke="#000" stroke-width="0.9"/>
<line x1="171.10" y1="79.10" x2="173.30" y2="79.10" stroke="#000" stroke-width="0.9"/>
<line x1="171.10" y1="82.10" x2="173.30" y2="82.10" stroke="#000" stroke-width="0.9"/>
<line x1="168.10" y1="84.70" x2="173.30" y2="84.70" stroke="#000" stroke-width="1.3"/>
<line x1="171.10" y1="87.70" x2="173.30" y2="87.70" stroke="#000" stroke-width="0.9"/>
<line x1="171.10" y1="90.70" x2="173.30" y2="90.70" stroke="#000" stroke-width="0.9"/>
<line x1="171.10" y1="93.70" x2="173.30" y2="93.70" stroke="#000" stroke-width="0.9"/>
<line x1="171.10" y1="96.70" x2="173.30" y2="96.70" stroke="#000" stroke-width="0.9"/>
<line x1="171.10" y1="99.70" x2="173.30" y2="99.70" stroke="#000" stroke-width="0.9"/>
<line x1="168.10" y1="102.30" x2="173.30" y2="102.30" stroke="#000" stroke-width="1.3"/>
<line x1="171.10" y1="105.30" x2="173.30" y2="105.30" stroke="#000" stroke-width="0.9"/>
<line x1="171.10" y1="108.30" x2="173.30" y2="108.30" stroke="#000" stroke-width="0.9"/>
<line x1="171.10" y1="111.30" x2="173.30" y2="111.30" stroke="#000" stroke-width="0.9"/>
<line x1="171.10" y1="114.30" x2="173.30" y2="114.30" stroke="#000" stroke-width="0.9"/>
<line x1="171.10" y1="117.30" x2="173.30" y2="117.30" stroke="#000" stroke-width="0.9"/>
<line x1="168.10" y1="119.90" x2="173.30" y2="119.90" stroke="#000" stroke-width="1.3"/>
<rect x="173.30" y="31.20" width="93.10" height="92.20" fill="none" stroke="#b5b5b5" stroke-width="1"/>
<rect x="189.00" y="40.90" width="20.40" height="10.60" rx="7.42" ry="5.30" fill="url(#zb)" stroke="#000" stroke-width="1.0"/>
<rect x="192.88" y="43.29" width="12.65" height="5.83" rx="4.08" ry="2.92" fill="none" stroke="#111" stroke-width="0.55"/>
<ellipse cx="199.20" cy="46.20" rx="3.50" ry="1.60" fill="#1a1a1a" stroke="none" stroke-width="0"/>
<path d="M187.60 60.40C195.56 58.05 200.76 56.80 207.00 56.80L228.55 56.80A6.25 5.00 0 0 1 228.55 66.80L207.00 66.80C200.76 66.80 195.56 65.55 187.60 63.20A1.40 1.40 0 0 1 187.60 60.40Z" fill="url(#gt2)" stroke="#000" stroke-width="1.3"/>
<rect x="205.60" y="57.40" width="28.60" height="8.80" rx="6.16" ry="4.40" fill="url(#zb)" stroke="none" stroke-width="0"/>
<rect x="206.90" y="58.60" width="26.00" height="6.40" rx="4.48" ry="3.20" fill="none" stroke="#1a1a1a" stroke-width="0.6"/>
<rect x="208.30" y="59.90" width="23.20" height="3.80" rx="2.66" ry="1.90" fill="none" stroke="#2a2a2a" stroke-width="0.5"/>
<path d="M188.80 75.50C194.20 73.70 198.20 72.50 203.00 72.50L231.50 72.50A6.00 4.80 0 0 1 231.50 82.10L203.00 82.10C198.20 82.10 194.20 80.90 188.80 79.10A1.80 1.80 0 0 1 188.80 75.50Z" fill="url(#gt2)" stroke="#000" stroke-width="1.3"/>
<rect x="201.60" y="73.10" width="35.30" height="8.40" rx="5.88" ry="4.20" fill="url(#zb)" stroke="none" stroke-width="0"/>
<rect x="202.90" y="74.30" width="32.70" height="6.00" rx="4.20" ry="3.00" fill="none" stroke="#1a1a1a" stroke-width="0.6"/>
<rect x="204.30" y="75.60" width="29.90" height="3.40" rx="2.38" ry="1.70" fill="none" stroke="#2a2a2a" stroke-width="0.5"/>
<path d="M197.60 89.80C197.15 89.35 198.90 88.00 201.00 88.00L230.25 88.00A6.75 5.40 0 0 1 230.25 98.80L201.00 98.80C198.90 98.80 197.15 97.45 197.60 97.00A3.60 3.60 0 0 1 197.60 89.80Z" fill="url(#gt)" stroke="#000" stroke-width="1.2"/>
<rect x="199.60" y="88.60" width="36.80" height="9.60" rx="6.72" ry="4.80" fill="url(#zb)" stroke="none" stroke-width="0"/>
<rect x="200.90" y="89.80" width="34.20" height="7.20" rx="5.04" ry="3.60" fill="none" stroke="#1a1a1a" stroke-width="0.6"/>
<rect x="202.30" y="91.10" width="31.40" height="4.60" rx="3.22" ry="2.30" fill="none" stroke="#2a2a2a" stroke-width="0.5"/>
<rect x="191.00" y="103.40" width="39.40" height="9.80" rx="6.86" ry="4.90" fill="url(#zb)" stroke="#000" stroke-width="1.0"/>
<rect x="198.49" y="105.60" width="24.43" height="5.39" rx="3.77" ry="2.70" fill="none" stroke="#111" stroke-width="0.55"/>
<rect x="208.50" y="37.80" width="57.00" height="13.80" fill="none" stroke="#4a4a4a" stroke-width="0.9"/>
<rect x="208.50" y="54.60" width="57.00" height="13.90" fill="none" stroke="#4a4a4a" stroke-width="0.9"/>
<rect x="208.50" y="70.30" width="57.00" height="14.20" fill="none" stroke="#4a4a4a" stroke-width="0.9"/>
<rect x="208.50" y="86.00" width="57.00" height="14.30" fill="none" stroke="#4a4a4a" stroke-width="0.9"/>
<rect x="208.50" y="102.30" width="57.00" height="14.10" fill="none" stroke="#4a4a4a" stroke-width="0.9"/>
<text x="263.90" y="64.00" font-size="10.0" text-anchor="end" font-weight="normal" fill="#000" textLength="18.4" lengthAdjust="spacingAndGlyphs">81%</text>
<text x="263.90" y="79.50" font-size="10.0" text-anchor="end" font-weight="normal" fill="#000" textLength="18.4" lengthAdjust="spacingAndGlyphs">75%</text>
<text x="263.90" y="95.10" font-size="10.0" text-anchor="end" font-weight="normal" fill="#000" textLength="18.4" lengthAdjust="spacingAndGlyphs">82%</text>
<text x="263.90" y="112.20" font-size="10.0" text-anchor="end" font-weight="normal" fill="#000" textLength="18.4" lengthAdjust="spacingAndGlyphs">33%</text>
<text x="174.60" y="136.20" font-size="10.0" text-anchor="start" font-weight="normal" fill="#000" textLength="31.2" lengthAdjust="spacingAndGlyphs">CXCR3</text>
<line x1="208.20" y1="132.70" x2="236.00" y2="132.70" stroke="#222" stroke-width="0.7"/>
<path d="M235.60 129.4L241.80 132.7L235.60 136.1Z" fill="#000"/>
<line x1="277.60" y1="29.50" x2="277.60" y2="30.80" stroke="#000" stroke-width="0.8"/>
<line x1="279.60" y1="29.50" x2="279.60" y2="30.80" stroke="#000" stroke-width="0.8"/>
<line x1="281.60" y1="29.50" x2="281.60" y2="30.80" stroke="#000" stroke-width="0.8"/>
<line x1="283.60" y1="29.50" x2="283.60" y2="30.80" stroke="#000" stroke-width="0.8"/>
<line x1="290.00" y1="26.20" x2="290.00" y2="30.80" stroke="#000" stroke-width="1.05"/>
<line x1="291.55" y1="29.20" x2="291.55" y2="30.80" stroke="#000" stroke-width="1.05"/>
<line x1="293.09" y1="28.40" x2="293.09" y2="30.80" stroke="#000" stroke-width="1.05"/>
<line x1="294.64" y1="29.20" x2="294.64" y2="30.80" stroke="#000" stroke-width="1.05"/>
<line x1="296.18" y1="26.40" x2="296.18" y2="30.80" stroke="#000" stroke-width="1.05"/>
<line x1="297.73" y1="28.80" x2="297.73" y2="30.80" stroke="#000" stroke-width="1.05"/>
<line x1="299.27" y1="29.20" x2="299.27" y2="30.80" stroke="#000" stroke-width="1.05"/>
<line x1="300.82" y1="27.60" x2="300.82" y2="30.80" stroke="#000" stroke-width="1.05"/>
<line x1="302.36" y1="28.80" x2="302.36" y2="30.80" stroke="#000" stroke-width="1.05"/>
<line x1="303.91" y1="26.20" x2="303.91" y2="30.80" stroke="#000" stroke-width="1.05"/>
<line x1="305.45" y1="29.20" x2="305.45" y2="30.80" stroke="#000" stroke-width="1.05"/>
<line x1="307.00" y1="28.20" x2="307.00" y2="30.80" stroke="#000" stroke-width="1.05"/>
<line x1="308.55" y1="26.20" x2="308.55" y2="30.80" stroke="#000" stroke-width="1.05"/>
<line x1="310.09" y1="29.20" x2="310.09" y2="30.80" stroke="#000" stroke-width="1.05"/>
<line x1="311.64" y1="28.40" x2="311.64" y2="30.80" stroke="#000" stroke-width="1.05"/>
<line x1="313.18" y1="29.20" x2="313.18" y2="30.80" stroke="#000" stroke-width="1.05"/>
<line x1="314.73" y1="26.40" x2="314.73" y2="30.80" stroke="#000" stroke-width="1.05"/>
<line x1="316.27" y1="28.80" x2="316.27" y2="30.80" stroke="#000" stroke-width="1.05"/>
<line x1="317.82" y1="29.20" x2="317.82" y2="30.80" stroke="#000" stroke-width="1.05"/>
<line x1="319.36" y1="27.60" x2="319.36" y2="30.80" stroke="#000" stroke-width="1.05"/>
<line x1="320.91" y1="28.80" x2="320.91" y2="30.80" stroke="#000" stroke-width="1.05"/>
<line x1="322.45" y1="26.20" x2="322.45" y2="30.80" stroke="#000" stroke-width="1.05"/>
<line x1="324.00" y1="29.20" x2="324.00" y2="30.80" stroke="#000" stroke-width="1.05"/>
<rect x="304.10" y="25.90" width="5.30" height="4.90" fill="#000" stroke="none" stroke-width="1"/>
<line x1="333.03" y1="29.50" x2="333.03" y2="30.80" stroke="#000" stroke-width="1.05"/>
<line x1="335.97" y1="29.30" x2="335.97" y2="30.80" stroke="#000" stroke-width="1.05"/>
<line x1="338.05" y1="29.30" x2="338.05" y2="30.80" stroke="#000" stroke-width="1.05"/>
<line x1="339.67" y1="28.20" x2="339.67" y2="30.80" stroke="#000" stroke-width="1.05"/>
<line x1="341.00" y1="28.80" x2="341.00" y2="30.80" stroke="#000" stroke-width="1.05"/>
<line x1="342.11" y1="28.20" x2="342.11" y2="30.80" stroke="#000" stroke-width="1.05"/>
<line x1="343.08" y1="27.60" x2="343.08" y2="30.80" stroke="#000" stroke-width="1.05"/>
<line x1="343.94" y1="27.60" x2="343.94" y2="30.80" stroke="#000" stroke-width="1.05"/>
<line x1="344.70" y1="26.20" x2="344.70" y2="30.80" stroke="#000" stroke-width="1.05"/>
<line x1="353.32" y1="29.50" x2="353.32" y2="30.80" stroke="#000" stroke-width="1.05"/>
<line x1="356.13" y1="29.30" x2="356.13" y2="30.80" stroke="#000" stroke-width="1.05"/>
<line x1="358.13" y1="29.30" x2="358.13" y2="30.80" stroke="#000" stroke-width="1.05"/>
<line x1="359.68" y1="28.20" x2="359.68" y2="30.80" stroke="#000" stroke-width="1.05"/>
<line x1="360.95" y1="28.80" x2="360.95" y2="30.80" stroke="#000" stroke-width="1.05"/>
<line x1="362.02" y1="28.20" x2="362.02" y2="30.80" stroke="#000" stroke-width="1.05"/>
<line x1="362.95" y1="27.60" x2="362.95" y2="30.80" stroke="#000" stroke-width="1.05"/>
<line x1="363.77" y1="27.60" x2="363.77" y2="30.80" stroke="#000" stroke-width="1.05"/>
<line x1="364.50" y1="26.20" x2="364.50" y2="30.80" stroke="#000" stroke-width="1.05"/>
<line x1="270.60" y1="31.50" x2="275.80" y2="31.50" stroke="#000" stroke-width="1.3"/>
<line x1="273.60" y1="34.50" x2="275.80" y2="34.50" stroke="#000" stroke-width="0.9"/>
<line x1="273.60" y1="37.50" x2="275.80" y2="37.50" stroke="#000" stroke-width="0.9"/>
<line x1="273.60" y1="40.50" x2="275.80" y2="40.50" stroke="#000" stroke-width="0.9"/>
<line x1="273.60" y1="43.50" x2="275.80" y2="43.50" stroke="#000" stroke-width="0.9"/>
<line x1="273.60" y1="46.50" x2="275.80" y2="46.50" stroke="#000" stroke-width="0.9"/>
<line x1="270.60" y1="49.10" x2="275.80" y2="49.10" stroke="#000" stroke-width="1.3"/>
<line x1="273.60" y1="52.10" x2="275.80" y2="52.10" stroke="#000" stroke-width="0.9"/>
<line x1="273.60" y1="55.10" x2="275.80" y2="55.10" stroke="#000" stroke-width="0.9"/>
<line x1="273.60" y1="58.10" x2="275.80" y2="58.10" stroke="#000" stroke-width="0.9"/>
<line x1="273.60" y1="61.10" x2="275.80" y2="61.10" stroke="#000" stroke-width="0.9"/>
<line x1="273.60" y1="64.10" x2="275.80" y2="64.10" stroke="#000" stroke-width="0.9"/>
<line x1="270.60" y1="66.70" x2="275.80" y2="66.70" stroke="#000" stroke-width="1.3"/>
<line x1="273.60" y1="69.70" x2="275.80" y2="69.70" stroke="#000" stroke-width="0.9"/>
<line x1="273.60" y1="72.70" x2="275.80" y2="72.70" stroke="#000" stroke-width="0.9"/>
<line x1="273.60" y1="75.70" x2="275.80" y2="75.70" stroke="#000" stroke-width="0.9"/>
<line x1="273.60" y1="78.70" x2="275.80" y2="78.70" stroke="#000" stroke-width="0.9"/>
<line x1="273.60" y1="81.70" x2="275.80" y2="81.70" stroke="#000" stroke-width="0.9"/>
<line x1="270.60" y1="84.30" x2="275.80" y2="84.30" stroke="#000" stroke-width="1.3"/>
<line x1="273.60" y1="87.30" x2="275.80" y2="87.30" stroke="#000" stroke-width="0.9"/>
<line x1="273.60" y1="90.30" x2="275.80" y2="90.30" stroke="#000" stroke-width="0.9"/>
<line x1="273.60" y1="93.30" x2="275.80" y2="93.30" stroke="#000" stroke-width="0.9"/>
<line x1="273.60" y1="96.30" x2="275.80" y2="96.30" stroke="#000" stroke-width="0.9"/>
<line x1="273.60" y1="99.30" x2="275.80" y2="99.30" stroke="#000" stroke-width="0.9"/>
<line x1="270.60" y1="101.90" x2="275.80" y2="101.90" stroke="#000" stroke-width="1.3"/>
<line x1="273.60" y1="104.90" x2="275.80" y2="104.90" stroke="#000" stroke-width="0.9"/>
<line x1="273.60" y1="107.90" x2="275.80" y2="107.90" stroke="#000" stroke-width="0.9"/>
<line x1="273.60" y1="110.90" x2="275.80" y2="110.90" stroke="#000" stroke-width="0.9"/>
<line x1="273.60" y1="113.90" x2="275.80" y2="113.90" stroke="#000" stroke-width="0.9"/>
<line x1="273.60" y1="116.90" x2="275.80" y2="116.90" stroke="#000" stroke-width="0.9"/>
<line x1="270.60" y1="119.50" x2="275.80" y2="119.50" stroke="#000" stroke-width="1.3"/>
<rect x="275.80" y="30.80" width="93.10" height="92.20" fill="none" stroke="#b5b5b5" stroke-width="1"/>
<rect x="295.00" y="40.30" width="30.60" height="10.60" rx="7.42" ry="5.30" fill="url(#zb)" stroke="#000" stroke-width="1.0"/>
<rect x="300.81" y="42.69" width="18.97" height="5.83" rx="4.08" ry="2.92" fill="none" stroke="#111" stroke-width="0.55"/>
<ellipse cx="308.30" cy="45.60" rx="5.00" ry="1.70" fill="#1a1a1a" stroke="none" stroke-width="0"/>
<rect x="293.90" y="56.00" width="57.60" height="10.20" rx="7.14" ry="5.10" fill="url(#zb)" stroke="#000" stroke-width="1.0"/>
<rect x="304.84" y="58.30" width="35.71" height="5.61" rx="3.93" ry="2.81" fill="none" stroke="#111" stroke-width="0.55"/>
<rect x="296.80" y="71.70" width="54.00" height="10.20" rx="7.14" ry="5.10" fill="url(#zb)" stroke="#000" stroke-width="1.0"/>
<rect x="307.06" y="73.99" width="33.48" height="5.61" rx="3.93" ry="2.81" fill="none" stroke="#111" stroke-width="0.55"/>
<rect x="298.50" y="86.80" width="51.80" height="10.40" rx="7.28" ry="5.20" fill="url(#zb)" stroke="#000" stroke-width="1.0"/>
<rect x="308.34" y="89.14" width="32.12" height="5.72" rx="4.00" ry="2.86" fill="none" stroke="#111" stroke-width="0.55"/>
<rect x="288.30" y="102.10" width="60.40" height="10.60" rx="7.42" ry="5.30" fill="url(#zb)" stroke="#000" stroke-width="1.0"/>
<rect x="299.78" y="104.48" width="37.45" height="5.83" rx="4.08" ry="2.92" fill="none" stroke="#111" stroke-width="0.55"/>
<rect x="324.20" y="37.90" width="43.40" height="14.20" fill="none" stroke="#4a4a4a" stroke-width="0.9"/>
<rect x="324.20" y="53.90" width="43.40" height="14.60" fill="none" stroke="#4a4a4a" stroke-width="0.9"/>
<rect x="324.20" y="69.70" width="43.40" height="13.70" fill="none" stroke="#4a4a4a" stroke-width="0.9"/>
<rect x="324.20" y="85.50" width="43.40" height="13.80" fill="none" stroke="#4a4a4a" stroke-width="0.9"/>
<rect x="324.20" y="101.60" width="43.40" height="14.00" fill="none" stroke="#4a4a4a" stroke-width="0.9"/>
<text x="367.50" y="62.70" font-size="10.0" text-anchor="end" font-weight="normal" fill="#000" textLength="18.4" lengthAdjust="spacingAndGlyphs">42%</text>
<text x="367.50" y="78.60" font-size="10.0" text-anchor="end" font-weight="normal" fill="#000" textLength="18.4" lengthAdjust="spacingAndGlyphs">49%</text>
<text x="367.50" y="93.90" font-size="10.0" text-anchor="end" font-weight="normal" fill="#000" textLength="18.4" lengthAdjust="spacingAndGlyphs">64%</text>
<text x="367.50" y="112.10" font-size="10.0" text-anchor="end" font-weight="normal" fill="#000" textLength="18.4" lengthAdjust="spacingAndGlyphs">33%</text>
<text x="280.30" y="136.20" font-size="10.0" text-anchor="start" font-weight="normal" fill="#000" textLength="31.2" lengthAdjust="spacingAndGlyphs">CXCR4</text>
<line x1="314.90" y1="132.70" x2="343.00" y2="132.70" stroke="#222" stroke-width="0.7"/>
<path d="M342.30 129.4L348.10 132.7L342.30 136.1Z" fill="#000"/>
<line x1="379.30" y1="30.59" x2="379.30" y2="31.30" stroke="#777" stroke-width="0.8"/>
<line x1="381.30" y1="30.59" x2="381.30" y2="31.30" stroke="#777" stroke-width="0.8"/>
<line x1="383.30" y1="30.59" x2="383.30" y2="31.30" stroke="#777" stroke-width="0.8"/>
<line x1="385.30" y1="30.59" x2="385.30" y2="31.30" stroke="#777" stroke-width="0.8"/>
<line x1="382.60" y1="28.77" x2="382.60" y2="31.30" stroke="#777" stroke-width="0.8"/>
<line x1="384.15" y1="30.42" x2="384.15" y2="31.30" stroke="#777" stroke-width="0.8"/>
<line x1="385.70" y1="29.98" x2="385.70" y2="31.30" stroke="#777" stroke-width="0.8"/>
<line x1="387.26" y1="30.42" x2="387.26" y2="31.30" stroke="#777" stroke-width="0.8"/>
<line x1="388.81" y1="28.88" x2="388.81" y2="31.30" stroke="#777" stroke-width="0.8"/>
<line x1="390.36" y1="30.20" x2="390.36" y2="31.30" stroke="#777" stroke-width="0.8"/>
<line x1="391.91" y1="30.42" x2="391.91" y2="31.30" stroke="#777" stroke-width="0.8"/>
<line x1="393.47" y1="29.54" x2="393.47" y2="31.30" stroke="#777" stroke-width="0.8"/>
<line x1="395.02" y1="30.20" x2="395.02" y2="31.30" stroke="#777" stroke-width="0.8"/>
<line x1="396.57" y1="28.77" x2="396.57" y2="31.30" stroke="#777" stroke-width="0.8"/>
<line x1="398.12" y1="30.42" x2="398.12" y2="31.30" stroke="#777" stroke-width="0.8"/>
<line x1="399.68" y1="29.87" x2="399.68" y2="31.30" stroke="#777" stroke-width="0.8"/>
<line x1="401.23" y1="28.77" x2="401.23" y2="31.30" stroke="#777" stroke-width="0.8"/>
<line x1="402.78" y1="30.42" x2="402.78" y2="31.30" stroke="#777" stroke-width="0.8"/>
<line x1="404.33" y1="29.98" x2="404.33" y2="31.30" stroke="#777" stroke-width="0.8"/>
<line x1="405.89" y1="30.42" x2="405.89" y2="31.30" stroke="#777" stroke-width="0.8"/>
<line x1="407.44" y1="28.88" x2="407.44" y2="31.30" stroke="#777" stroke-width="0.8"/>
<line x1="408.99" y1="30.20" x2="408.99" y2="31.30" stroke="#777" stroke-width="0.8"/>
<line x1="410.54" y1="30.42" x2="410.54" y2="31.30" stroke="#777" stroke-width="0.8"/>
<line x1="412.10" y1="29.54" x2="412.10" y2="31.30" stroke="#777" stroke-width="0.8"/>
<line x1="413.65" y1="30.20" x2="413.65" y2="31.30" stroke="#777" stroke-width="0.8"/>
<line x1="415.20" y1="28.77" x2="415.20" y2="31.30" stroke="#777" stroke-width="0.8"/>
<rect x="396.50" y="27.62" width="4.10" height="3.68" fill="#000" stroke="none" stroke-width="1"/>
<line x1="425.14" y1="30.59" x2="425.14" y2="31.30" stroke="#777" stroke-width="0.8"/>
<line x1="428.73" y1="30.48" x2="428.73" y2="31.30" stroke="#777" stroke-width="0.8"/>
<line x1="431.28" y1="30.48" x2="431.28" y2="31.30" stroke="#777" stroke-width="0.8"/>
<line x1="433.26" y1="29.87" x2="433.26" y2="31.30" stroke="#777" stroke-width="0.8"/>
<line x1="434.87" y1="30.20" x2="434.87" y2="31.30" stroke="#777" stroke-width="0.8"/>
<line x1="436.24" y1="29.87" x2="436.24" y2="31.30" stroke="#777" stroke-width="0.8"/>
<line x1="437.42" y1="29.54" x2="437.42" y2="31.30" stroke="#777" stroke-width="0.8"/>
<line x1="438.47" y1="29.54" x2="438.47" y2="31.30" stroke="#777" stroke-width="0.8"/>
<line x1="439.40" y1="28.77" x2="439.40" y2="31.30" stroke="#777" stroke-width="0.8"/>
<line x1="448.81" y1="30.59" x2="448.81" y2="31.30" stroke="#777" stroke-width="0.8"/>
<line x1="452.21" y1="30.48" x2="452.21" y2="31.30" stroke="#777" stroke-width="0.8"/>
<line x1="454.62" y1="30.48" x2="454.62" y2="31.30" stroke="#777" stroke-width="0.8"/>
<line x1="456.49" y1="29.87" x2="456.49" y2="31.30" stroke="#777" stroke-width="0.8"/>
<line x1="458.02" y1="30.20" x2="458.02" y2="31.30" stroke="#777" stroke-width="0.8"/>
<line x1="459.31" y1="29.87" x2="459.31" y2="31.30" stroke="#777" stroke-width="0.8"/>
<line x1="460.43" y1="29.54" x2="460.43" y2="31.30" stroke="#777" stroke-width="0.8"/>
<line x1="461.42" y1="29.54" x2="461.42" y2="31.30" stroke="#777" stroke-width="0.8"/>
<line x1="462.30" y1="28.77" x2="462.30" y2="31.30" stroke="#777" stroke-width="0.8"/>
<line x1="375.00" y1="32.00" x2="377.50" y2="32.00" stroke="#777" stroke-width="0.9"/>
<line x1="376.30" y1="35.00" x2="377.50" y2="35.00" stroke="#777" stroke-width="0.6"/>
<line x1="376.30" y1="38.00" x2="377.50" y2="38.00" stroke="#777" stroke-width="0.6"/>
<line x1="376.30" y1="41.00" x2="377.50" y2="41.00" stroke="#777" stroke-width="0.6"/>
<line x1="376.30" y1="44.00" x2="377.50" y2="44.00" stroke="#777" stroke-width="0.6"/>
<line x1="376.30" y1="47.00" x2="377.50" y2="47.00" stroke="#777" stroke-width="0.6"/>
<line x1="375.00" y1="49.60" x2="377.50" y2="49.60" stroke="#777" stroke-width="0.9"/>
<line x1="376.30" y1="52.60" x2="377.50" y2="52.60" stroke="#777" stroke-width="0.6"/>
<line x1="376.30" y1="55.60" x2="377.50" y2="55.60" stroke="#777" stroke-width="0.6"/>
<line x1="376.30" y1="58.60" x2="377.50" y2="58.60" stroke="#777" stroke-width="0.6"/>
<line x1="376.30" y1="61.60" x2="377.50" y2="61.60" stroke="#777" stroke-width="0.6"/>
<line x1="376.30" y1="64.60" x2="377.50" y2="64.60" stroke="#777" stroke-width="0.6"/>
<line x1="375.00" y1="67.20" x2="377.50" y2="67.20" stroke="#777" stroke-width="0.9"/>
<line x1="376.30" y1="70.20" x2="377.50" y2="70.20" stroke="#777" stroke-width="0.6"/>
<line x1="376.30" y1="73.20" x2="377.50" y2="73.20" stroke="#777" stroke-width="0.6"/>
<line x1="376.30" y1="76.20" x2="377.50" y2="76.20" stroke="#777" stroke-width="0.6"/>
<line x1="376.30" y1="79.20" x2="377.50" y2="79.20" stroke="#777" stroke-width="0.6"/>
<line x1="376.30" y1="82.20" x2="377.50" y2="82.20" stroke="#777" stroke-width="0.6"/>
<line x1="375.00" y1="84.80" x2="377.50" y2="84.80" stroke="#777" stroke-width="0.9"/>
<line x1="376.30" y1="87.80" x2="377.50" y2="87.80" stroke="#777" stroke-width="0.6"/>
<line x1="376.30" y1="90.80" x2="377.50" y2="90.80" stroke="#777" stroke-width="0.6"/>
<line x1="376.30" y1="93.80" x2="377.50" y2="93.80" stroke="#777" stroke-width="0.6"/>
<line x1="376.30" y1="96.80" x2="377.50" y2="96.80" stroke="#777" stroke-width="0.6"/>
<line x1="376.30" y1="99.80" x2="377.50" y2="99.80" stroke="#777" stroke-width="0.6"/>
<line x1="375.00" y1="102.40" x2="377.50" y2="102.40" stroke="#777" stroke-width="0.9"/>
<line x1="376.30" y1="105.40" x2="377.50" y2="105.40" stroke="#777" stroke-width="0.6"/>
<line x1="376.30" y1="108.40" x2="377.50" y2="108.40" stroke="#777" stroke-width="0.6"/>
<line x1="376.30" y1="111.40" x2="377.50" y2="111.40" stroke="#777" stroke-width="0.6"/>
<line x1="376.30" y1="114.40" x2="377.50" y2="114.40" stroke="#777" stroke-width="0.6"/>
<line x1="376.30" y1="117.40" x2="377.50" y2="117.40" stroke="#777" stroke-width="0.6"/>
<line x1="375.00" y1="120.00" x2="377.50" y2="120.00" stroke="#777" stroke-width="0.9"/>
<rect x="377.50" y="31.30" width="92.20" height="92.60" fill="none" stroke="#b5b5b5" stroke-width="1"/>
<rect x="389.00" y="40.00" width="18.20" height="12.40" rx="8.68" ry="6.20" fill="url(#zb)" stroke="#000" stroke-width="1.0"/>
<rect x="392.46" y="42.79" width="11.28" height="6.82" rx="4.77" ry="3.41" fill="none" stroke="#111" stroke-width="0.55"/>
<ellipse cx="398.10" cy="46.20" rx="1.60" ry="1.60" fill="#1a1a1a" stroke="none" stroke-width="0"/>
<path d="M406 59.3L442 59.3L442 63.5L406 63.5Z" fill="#000"/>
<ellipse cx="412.50" cy="61.40" rx="4.50" ry="2.90" fill="#c8c8c8" stroke="#000" stroke-width="1.2"/>
<ellipse cx="423.50" cy="61.40" rx="4.80" ry="2.90" fill="#c8c8c8" stroke="#000" stroke-width="1.2"/>
<ellipse cx="436.50" cy="61.40" rx="5.80" ry="2.90" fill="#c8c8c8" stroke="#000" stroke-width="1.2"/>
<rect x="388.00" y="56.30" width="20.00" height="11.40" rx="7.98" ry="5.70" fill="url(#zb)" stroke="#000" stroke-width="1.0"/>
<rect x="391.80" y="58.87" width="12.40" height="6.27" rx="4.39" ry="3.14" fill="none" stroke="#111" stroke-width="0.55"/>
<path d="M404 73.2L432 73.2C438 73.2 441 76 441 77.1C441 78.2 438 81 432 81L404 81Z" fill="url(#gd)" stroke="#000" stroke-width="1"/>
<ellipse cx="427.00" cy="77.10" rx="8.00" ry="3.00" fill="#222" stroke="none" stroke-width="0"/>
<rect x="388.80" y="71.40" width="19.00" height="11.60" rx="8.12" ry="5.80" fill="url(#zb)" stroke="#000" stroke-width="1.0"/>
<rect x="392.41" y="74.01" width="11.78" height="6.38" rx="4.47" ry="3.19" fill="none" stroke="#111" stroke-width="0.55"/>
<path d="M404 88.3L436 88.3C440 88.3 442 91 442 92.6C442 94.3 440 96.7 436 96.7L404 96.7Z" fill="url(#gd2)" stroke="#000" stroke-width="1"/>
<rect x="388.70" y="87.10" width="18.60" height="11.60" rx="8.12" ry="5.80" fill="url(#zb)" stroke="#000" stroke-width="1.0"/>
<rect x="392.23" y="89.71" width="11.53" height="6.38" rx="4.47" ry="3.19" fill="none" stroke="#111" stroke-width="0.55"/>
<rect x="388.90" y="102.30" width="20.20" height="11.80" rx="8.26" ry="5.90" fill="url(#zb)" stroke="#000" stroke-width="1.0"/>
<rect x="392.74" y="104.95" width="12.52" height="6.49" rx="4.54" ry="3.25" fill="none" stroke="#111" stroke-width="0.55"/>
<rect x="420.1" y="106.6" width="11" height="2.2" fill="#000"/>
<ellipse cx="434.00" cy="107.80" rx="3.20" ry="2.80" fill="#ddd" stroke="#000" stroke-width="1.4"/>
<rect x="407.30" y="38.60" width="61.60" height="13.80" fill="none" stroke="#4a4a4a" stroke-width="0.9"/>
<rect x="407.30" y="55.50" width="61.60" height="13.80" fill="none" stroke="#4a4a4a" stroke-width="0.9"/>
<rect x="407.30" y="71.40" width="61.60" height="14.00" fill="none" stroke="#4a4a4a" stroke-width="0.9"/>
<rect x="407.30" y="87.20" width="61.60" height="14.00" fill="none" stroke="#4a4a4a" stroke-width="0.9"/>
<rect x="407.30" y="103.00" width="61.60" height="14.90" fill="none" stroke="#4a4a4a" stroke-width="0.9"/>
<text x="468.80" y="64.90" font-size="10.0" text-anchor="end" font-weight="normal" fill="#000" textLength="18.4" lengthAdjust="spacingAndGlyphs">15%</text>
<text x="468.80" y="80.50" font-size="10.0" text-anchor="end" font-weight="normal" fill="#000" textLength="18.4" lengthAdjust="spacingAndGlyphs">30%</text>
<text x="468.80" y="96.10" font-size="10.0" text-anchor="end" font-weight="normal" fill="#000" textLength="18.4" lengthAdjust="spacingAndGlyphs">25%</text>
<text x="466.50" y="116.00" font-size="10.0" text-anchor="end" font-weight="normal" fill="#000" textLength="12.3" lengthAdjust="spacingAndGlyphs">4%</text>
<text x="381.30" y="136.20" font-size="10.0" text-anchor="start" font-weight="normal" fill="#000" textLength="31.2" lengthAdjust="spacingAndGlyphs">CXCR5</text>
<line x1="415.70" y1="132.70" x2="444.00" y2="132.70" stroke="#222" stroke-width="0.7"/>
<path d="M443.10 129.4L449.40 132.7L443.10 136.1Z" fill="#000"/>
<line x1="483.10" y1="29.79" x2="483.10" y2="30.50" stroke="#777" stroke-width="0.8"/>
<line x1="485.10" y1="29.79" x2="485.10" y2="30.50" stroke="#777" stroke-width="0.8"/>
<line x1="487.10" y1="29.79" x2="487.10" y2="30.50" stroke="#777" stroke-width="0.8"/>
<line x1="489.10" y1="29.79" x2="489.10" y2="30.50" stroke="#777" stroke-width="0.8"/>
<line x1="485.60" y1="27.97" x2="485.60" y2="30.50" stroke="#777" stroke-width="0.8"/>
<line x1="487.16" y1="29.62" x2="487.16" y2="30.50" stroke="#777" stroke-width="0.8"/>
<line x1="488.72" y1="29.18" x2="488.72" y2="30.50" stroke="#777" stroke-width="0.8"/>
<line x1="490.28" y1="29.62" x2="490.28" y2="30.50" stroke="#777" stroke-width="0.8"/>
<line x1="491.84" y1="28.08" x2="491.84" y2="30.50" stroke="#777" stroke-width="0.8"/>
<line x1="493.40" y1="29.40" x2="493.40" y2="30.50" stroke="#777" stroke-width="0.8"/>
<line x1="494.96" y1="29.62" x2="494.96" y2="30.50" stroke="#777" stroke-width="0.8"/>
<line x1="496.52" y1="28.74" x2="496.52" y2="30.50" stroke="#777" stroke-width="0.8"/>
<line x1="498.08" y1="29.40" x2="498.08" y2="30.50" stroke="#777" stroke-width="0.8"/>
<line x1="499.64" y1="27.97" x2="499.64" y2="30.50" stroke="#777" stroke-width="0.8"/>
<line x1="501.20" y1="29.62" x2="501.20" y2="30.50" stroke="#777" stroke-width="0.8"/>
<line x1="502.76" y1="29.07" x2="502.76" y2="30.50" stroke="#777" stroke-width="0.8"/>
<line x1="504.32" y1="27.97" x2="504.32" y2="30.50" stroke="#777" stroke-width="0.8"/>
<line x1="505.88" y1="29.62" x2="505.88" y2="30.50" stroke="#777" stroke-width="0.8"/>
<line x1="507.44" y1="29.18" x2="507.44" y2="30.50" stroke="#777" stroke-width="0.8"/>
<line x1="509.00" y1="29.62" x2="509.00" y2="30.50" stroke="#777" stroke-width="0.8"/>
<line x1="510.56" y1="28.08" x2="510.56" y2="30.50" stroke="#777" stroke-width="0.8"/>
<line x1="512.12" y1="29.40" x2="512.12" y2="30.50" stroke="#777" stroke-width="0.8"/>
<line x1="513.68" y1="29.62" x2="513.68" y2="30.50" stroke="#777" stroke-width="0.8"/>
<line x1="515.24" y1="28.74" x2="515.24" y2="30.50" stroke="#777" stroke-width="0.8"/>
<line x1="516.80" y1="29.40" x2="516.80" y2="30.50" stroke="#777" stroke-width="0.8"/>
<rect x="508.70" y="26.82" width="2.50" height="3.68" fill="#000" stroke="none" stroke-width="1"/>
<line x1="522.77" y1="29.79" x2="522.77" y2="30.50" stroke="#777" stroke-width="0.8"/>
<line x1="525.28" y1="29.68" x2="525.28" y2="30.50" stroke="#777" stroke-width="0.8"/>
<line x1="527.05" y1="29.68" x2="527.05" y2="30.50" stroke="#777" stroke-width="0.8"/>
<line x1="528.43" y1="29.07" x2="528.43" y2="30.50" stroke="#777" stroke-width="0.8"/>
<line x1="529.55" y1="29.40" x2="529.55" y2="30.50" stroke="#777" stroke-width="0.8"/>
<line x1="530.50" y1="29.07" x2="530.50" y2="30.50" stroke="#777" stroke-width="0.8"/>
<line x1="531.32" y1="28.74" x2="531.32" y2="30.50" stroke="#777" stroke-width="0.8"/>
<line x1="532.05" y1="28.74" x2="532.05" y2="30.50" stroke="#777" stroke-width="0.8"/>
<line x1="532.70" y1="27.97" x2="532.70" y2="30.50" stroke="#777" stroke-width="0.8"/>
<line x1="538.35" y1="29.79" x2="538.35" y2="30.50" stroke="#777" stroke-width="0.8"/>
<line x1="540.61" y1="29.68" x2="540.61" y2="30.50" stroke="#777" stroke-width="0.8"/>
<line x1="542.21" y1="29.68" x2="542.21" y2="30.50" stroke="#777" stroke-width="0.8"/>
<line x1="543.45" y1="29.07" x2="543.45" y2="30.50" stroke="#777" stroke-width="0.8"/>
<line x1="544.46" y1="29.40" x2="544.46" y2="30.50" stroke="#777" stroke-width="0.8"/>
<line x1="545.32" y1="29.07" x2="545.32" y2="30.50" stroke="#777" stroke-width="0.8"/>
<line x1="546.06" y1="28.74" x2="546.06" y2="30.50" stroke="#777" stroke-width="0.8"/>
<line x1="546.71" y1="28.74" x2="546.71" y2="30.50" stroke="#777" stroke-width="0.8"/>
<line x1="547.30" y1="27.97" x2="547.30" y2="30.50" stroke="#777" stroke-width="0.8"/>
<line x1="552.29" y1="29.79" x2="552.29" y2="30.50" stroke="#777" stroke-width="0.8"/>
<line x1="554.51" y1="29.68" x2="554.51" y2="30.50" stroke="#777" stroke-width="0.8"/>
<line x1="556.09" y1="29.68" x2="556.09" y2="30.50" stroke="#777" stroke-width="0.8"/>
<line x1="557.31" y1="29.07" x2="557.31" y2="30.50" stroke="#777" stroke-width="0.8"/>
<line x1="558.30" y1="29.40" x2="558.30" y2="30.50" stroke="#777" stroke-width="0.8"/>
<line x1="559.15" y1="29.07" x2="559.15" y2="30.50" stroke="#777" stroke-width="0.8"/>
<line x1="559.88" y1="28.74" x2="559.88" y2="30.50" stroke="#777" stroke-width="0.8"/>
<line x1="560.52" y1="28.74" x2="560.52" y2="30.50" stroke="#777" stroke-width="0.8"/>
<line x1="561.10" y1="27.97" x2="561.10" y2="30.50" stroke="#777" stroke-width="0.8"/>
<line x1="565.84" y1="29.79" x2="565.84" y2="30.50" stroke="#777" stroke-width="0.8"/>
<line x1="567.80" y1="29.68" x2="567.80" y2="30.50" stroke="#777" stroke-width="0.8"/>
<line x1="569.18" y1="29.68" x2="569.18" y2="30.50" stroke="#777" stroke-width="0.8"/>
<line x1="570.26" y1="29.07" x2="570.26" y2="30.50" stroke="#777" stroke-width="0.8"/>
<line x1="571.14" y1="29.40" x2="571.14" y2="30.50" stroke="#777" stroke-width="0.8"/>
<line x1="571.88" y1="29.07" x2="571.88" y2="30.50" stroke="#777" stroke-width="0.8"/>
<line x1="572.52" y1="28.74" x2="572.52" y2="30.50" stroke="#777" stroke-width="0.8"/>
<line x1="573.09" y1="28.74" x2="573.09" y2="30.50" stroke="#777" stroke-width="0.8"/>
<line x1="573.60" y1="27.97" x2="573.60" y2="30.50" stroke="#777" stroke-width="0.8"/>
<line x1="478.80" y1="31.20" x2="481.30" y2="31.20" stroke="#777" stroke-width="0.9"/>
<line x1="480.10" y1="34.20" x2="481.30" y2="34.20" stroke="#777" stroke-width="0.6"/>
<line x1="480.10" y1="37.20" x2="481.30" y2="37.20" stroke="#777" stroke-width="0.6"/>
<line x1="480.10" y1="40.20" x2="481.30" y2="40.20" stroke="#777" stroke-width="0.6"/>
<line x1="480.10" y1="43.20" x2="481.30" y2="43.20" stroke="#777" stroke-width="0.6"/>
<line x1="480.10" y1="46.20" x2="481.30" y2="46.20" stroke="#777" stroke-width="0.6"/>
<line x1="478.80" y1="48.80" x2="481.30" y2="48.80" stroke="#777" stroke-width="0.9"/>
<line x1="480.10" y1="51.80" x2="481.30" y2="51.80" stroke="#777" stroke-width="0.6"/>
<line x1="480.10" y1="54.80" x2="481.30" y2="54.80" stroke="#777" stroke-width="0.6"/>
<line x1="480.10" y1="57.80" x2="481.30" y2="57.80" stroke="#777" stroke-width="0.6"/>
<line x1="480.10" y1="60.80" x2="481.30" y2="60.80" stroke="#777" stroke-width="0.6"/>
<line x1="480.10" y1="63.80" x2="481.30" y2="63.80" stroke="#777" stroke-width="0.6"/>
<line x1="478.80" y1="66.40" x2="481.30" y2="66.40" stroke="#777" stroke-width="0.9"/>
<line x1="480.10" y1="69.40" x2="481.30" y2="69.40" stroke="#777" stroke-width="0.6"/>
<line x1="480.10" y1="72.40" x2="481.30" y2="72.40" stroke="#777" stroke-width="0.6"/>
<line x1="480.10" y1="75.40" x2="481.30" y2="75.40" stroke="#777" stroke-width="0.6"/>
<line x1="480.10" y1="78.40" x2="481.30" y2="78.40" stroke="#777" stroke-width="0.6"/>
<line x1="480.10" y1="81.40" x2="481.30" y2="81.40" stroke="#777" stroke-width="0.6"/>
<line x1="478.80" y1="84.00" x2="481.30" y2="84.00" stroke="#777" stroke-width="0.9"/>
<line x1="480.10" y1="87.00" x2="481.30" y2="87.00" stroke="#777" stroke-width="0.6"/>
<line x1="480.10" y1="90.00" x2="481.30" y2="90.00" stroke="#777" stroke-width="0.6"/>
<line x1="480.10" y1="93.00" x2="481.30" y2="93.00" stroke="#777" stroke-width="0.6"/>
<line x1="480.10" y1="96.00" x2="481.30" y2="96.00" stroke="#777" stroke-width="0.6"/>
<line x1="480.10" y1="99.00" x2="481.30" y2="99.00" stroke="#777" stroke-width="0.6"/>
<line x1="478.80" y1="101.60" x2="481.30" y2="101.60" stroke="#777" stroke-width="0.9"/>
<line x1="480.10" y1="104.60" x2="481.30" y2="104.60" stroke="#777" stroke-width="0.6"/>
<line x1="480.10" y1="107.60" x2="481.30" y2="107.60" stroke="#777" stroke-width="0.6"/>
<line x1="480.10" y1="110.60" x2="481.30" y2="110.60" stroke="#777" stroke-width="0.6"/>
<line x1="480.10" y1="113.60" x2="481.30" y2="113.60" stroke="#777" stroke-width="0.6"/>
<line x1="480.10" y1="116.60" x2="481.30" y2="116.60" stroke="#777" stroke-width="0.6"/>
<line x1="478.80" y1="119.20" x2="481.30" y2="119.20" stroke="#777" stroke-width="0.9"/>
<rect x="481.30" y="30.50" width="94.30" height="93.40" fill="none" stroke="#b5b5b5" stroke-width="1"/>
<rect x="496.50" y="40.30" width="21.60" height="11.20" rx="7.84" ry="5.60" fill="url(#zb)" stroke="#000" stroke-width="1.0"/>
<rect x="500.60" y="42.82" width="13.39" height="6.16" rx="4.31" ry="3.08" fill="none" stroke="#111" stroke-width="0.55"/>
<ellipse cx="507.30" cy="45.90" rx="1.50" ry="1.60" fill="#1a1a1a" stroke="none" stroke-width="0"/>
<rect x="499.00" y="56.20" width="28.60" height="10.60" rx="7.42" ry="5.30" fill="url(#zb)" stroke="#000" stroke-width="1.0"/>
<rect x="504.43" y="58.59" width="17.73" height="5.83" rx="4.08" ry="2.92" fill="none" stroke="#111" stroke-width="0.55"/>
<rect x="493.10" y="71.80" width="36.60" height="10.40" rx="7.28" ry="5.20" fill="url(#zb)" stroke="#000" stroke-width="1.0"/>
<rect x="500.05" y="74.14" width="22.69" height="5.72" rx="4.00" ry="2.86" fill="none" stroke="#111" stroke-width="0.55"/>
<rect x="500.00" y="87.40" width="31.80" height="11.20" rx="7.84" ry="5.60" fill="url(#zb)" stroke="#000" stroke-width="1.0"/>
<rect x="506.04" y="89.92" width="19.72" height="6.16" rx="4.31" ry="3.08" fill="none" stroke="#111" stroke-width="0.55"/>
<rect x="496.20" y="102.90" width="25.60" height="11.20" rx="7.84" ry="5.60" fill="url(#zb)" stroke="#000" stroke-width="1.0"/>
<rect x="501.06" y="105.42" width="15.87" height="6.16" rx="4.31" ry="3.08" fill="none" stroke="#111" stroke-width="0.55"/>
<rect x="518.10" y="37.70" width="56.50" height="14.40" fill="none" stroke="#4a4a4a" stroke-width="0.9"/>
<rect x="518.10" y="54.40" width="56.50" height="14.00" fill="none" stroke="#4a4a4a" stroke-width="0.9"/>
<rect x="518.10" y="70.40" width="56.50" height="13.90" fill="none" stroke="#4a4a4a" stroke-width="0.9"/>
<rect x="518.10" y="86.10" width="56.50" height="14.50" fill="none" stroke="#4a4a4a" stroke-width="0.9"/>
<rect x="518.10" y="103.20" width="56.50" height="14.40" fill="none" stroke="#4a4a4a" stroke-width="0.9"/>
<text x="574.80" y="62.40" font-size="10.0" text-anchor="end" font-weight="normal" fill="#000" textLength="18.4" lengthAdjust="spacingAndGlyphs">12%</text>
<text x="573.50" y="79.60" font-size="10.0" text-anchor="end" font-weight="normal" fill="#000" textLength="18.4" lengthAdjust="spacingAndGlyphs">15%</text>
<text x="574.10" y="96.10" font-size="10.0" text-anchor="end" font-weight="normal" fill="#000" textLength="18.4" lengthAdjust="spacingAndGlyphs">30%</text>
<text x="569.80" y="112.00" font-size="10.0" text-anchor="end" font-weight="normal" fill="#000" textLength="12.3" lengthAdjust="spacingAndGlyphs">2%</text>
<text x="485.00" y="136.20" font-size="10.0" text-anchor="start" font-weight="normal" fill="#000" textLength="31.2" lengthAdjust="spacingAndGlyphs">CXCR6</text>
<line x1="519.90" y1="132.70" x2="547.00" y2="132.70" stroke="#222" stroke-width="0.7"/>
<path d="M546.50 129.4L553.00 132.7L546.50 136.1Z" fill="#000"/>
<text x="0.00" y="460.00" font-size="20.5" text-anchor="start" font-weight="bold" fill="#000" textLength="14.6" lengthAdjust="spacingAndGlyphs">C</text>
<text x="17.70" y="537.00" font-size="10.6" text-anchor="middle" font-weight="normal" fill="#000" transform="rotate(-90 17.7 537)" dominant-baseline="middle">% of Subset</text>
<line x1="37.90" y1="600.20" x2="41.50" y2="600.20" stroke="#222" stroke-width="1"/>
<text x="36.90" y="603.80" font-size="10.2" text-anchor="end" font-weight="normal" fill="#000">0</text>
<line x1="37.90" y1="578.00" x2="41.50" y2="578.00" stroke="#222" stroke-width="1"/>
<text x="36.90" y="581.60" font-size="10.2" text-anchor="end" font-weight="normal" fill="#000">20</text>
<line x1="37.90" y1="555.80" x2="41.50" y2="555.80" stroke="#222" stroke-width="1"/>
<text x="36.90" y="559.40" font-size="10.2" text-anchor="end" font-weight="normal" fill="#000">40</text>
<line x1="37.90" y1="533.60" x2="41.50" y2="533.60" stroke="#222" stroke-width="1"/>
<text x="36.90" y="537.20" font-size="10.2" text-anchor="end" font-weight="normal" fill="#000">60</text>
<line x1="37.90" y1="511.40" x2="41.50" y2="511.40" stroke="#222" stroke-width="1"/>
<text x="36.90" y="515.00" font-size="10.2" text-anchor="end" font-weight="normal" fill="#000">80</text>
<line x1="37.90" y1="489.20" x2="41.50" y2="489.20" stroke="#222" stroke-width="1"/>
<text x="36.90" y="492.80" font-size="10.2" text-anchor="end" font-weight="normal" fill="#000">100</text>
<rect x="44.40" y="516.84" width="9.30" height="83.36" fill="#7b7b7b" stroke="#4a4a4a" stroke-width="0.8"/>
<rect x="59.30" y="558.80" width="9.30" height="41.40" fill="#bebebe" stroke="#4a4a4a" stroke-width="0.8"/>
<rect x="74.30" y="573.23" width="9.30" height="26.97" fill="#7b7b7b" stroke="#4a4a4a" stroke-width="0.8"/>
<rect x="89.30" y="592.87" width="9.30" height="7.33" fill="#bebebe" stroke="#4a4a4a" stroke-width="0.8"/>
<rect x="103.50" y="525.27" width="9.30" height="74.93" fill="#7b7b7b" stroke="#4a4a4a" stroke-width="0.8"/>
<rect x="118.40" y="575.00" width="9.30" height="25.20" fill="#bebebe" stroke="#4a4a4a" stroke-width="0.8"/>
<rect x="133.40" y="588.88" width="9.30" height="11.32" fill="#7b7b7b" stroke="#4a4a4a" stroke-width="0.8"/>
<rect x="148.30" y="593.10" width="9.30" height="7.10" fill="#bebebe" stroke="#4a4a4a" stroke-width="0.8"/>
<circle cx="48.73" cy="502.52" r="2.2" fill="#4b58c4"/>
<circle cx="47.26" cy="519.17" r="2.2" fill="#b955c2"/>
<circle cx="47.23" cy="516.95" r="2.2" fill="#b955c2"/>
<circle cx="50.21" cy="498.08" r="2.2" fill="#4b58c4"/>
<circle cx="47.32" cy="524.72" r="2.2" fill="#4b58c4"/>
<circle cx="49.85" cy="522.50" r="2.2" fill="#b955c2"/>
<circle cx="49.68" cy="520.28" r="2.2" fill="#b955c2"/>
<circle cx="46.76" cy="526.94" r="2.2" fill="#4b58c4"/>
<circle cx="50.53" cy="515.84" r="2.2" fill="#4b58c4"/>
<circle cx="46.62" cy="513.62" r="2.2" fill="#b955c2"/>
<circle cx="50.96" cy="524.72" r="2.2" fill="#b955c2"/>
<circle cx="50.82" cy="511.40" r="2.2" fill="#4b58c4"/>
<circle cx="47.57" cy="513.62" r="2.2" fill="#4b58c4"/>
<circle cx="50.23" cy="519.17" r="2.2" fill="#4b58c4"/>
<circle cx="50.26" cy="522.50" r="2.2" fill="#4b58c4"/>
<circle cx="65.91" cy="555.80" r="2.2" fill="#4b58c4"/>
<circle cx="66.44" cy="585.77" r="2.2" fill="#4b58c4"/>
<circle cx="62.44" cy="551.36" r="2.2" fill="#b955c2"/>
<circle cx="62.39" cy="571.34" r="2.2" fill="#b955c2"/>
<circle cx="63.93" cy="534.71" r="2.2" fill="#b955c2"/>
<circle cx="65.51" cy="558.02" r="2.2" fill="#4b58c4"/>
<circle cx="63.70" cy="563.57" r="2.2" fill="#4b58c4"/>
<circle cx="61.82" cy="558.02" r="2.2" fill="#b955c2"/>
<circle cx="63.12" cy="560.24" r="2.2" fill="#b955c2"/>
<circle cx="62.88" cy="566.90" r="2.2" fill="#4b58c4"/>
<circle cx="63.51" cy="546.92" r="2.2" fill="#b955c2"/>
<circle cx="64.18" cy="536.93" r="2.2" fill="#b955c2"/>
<circle cx="61.85" cy="561.35" r="2.2" fill="#4b58c4"/>
<circle cx="81.13" cy="522.50" r="2.2" fill="#4b58c4"/>
<circle cx="77.41" cy="578.00" r="2.2" fill="#b955c2"/>
<circle cx="76.56" cy="569.12" r="2.2" fill="#b955c2"/>
<circle cx="77.27" cy="583.55" r="2.2" fill="#4b58c4"/>
<circle cx="76.53" cy="575.78" r="2.2" fill="#4b58c4"/>
<circle cx="78.64" cy="578.00" r="2.2" fill="#4b58c4"/>
<circle cx="76.99" cy="572.45" r="2.2" fill="#4b58c4"/>
<circle cx="76.85" cy="571.34" r="2.2" fill="#b955c2"/>
<circle cx="77.95" cy="561.35" r="2.2" fill="#b955c2"/>
<circle cx="78.43" cy="560.24" r="2.2" fill="#b955c2"/>
<circle cx="80.93" cy="584.66" r="2.2" fill="#b955c2"/>
<circle cx="76.42" cy="536.93" r="2.2" fill="#4b58c4"/>
<circle cx="96.18" cy="590.21" r="2.2" fill="#b955c2"/>
<circle cx="96.23" cy="589.10" r="2.2" fill="#4b58c4"/>
<circle cx="91.63" cy="582.44" r="2.2" fill="#4b58c4"/>
<circle cx="92.60" cy="593.54" r="2.2" fill="#b955c2"/>
<circle cx="96.27" cy="594.65" r="2.2" fill="#4b58c4"/>
<circle cx="94.28" cy="596.87" r="2.2" fill="#b955c2"/>
<circle cx="92.10" cy="591.32" r="2.2" fill="#4b58c4"/>
<circle cx="94.58" cy="599.09" r="2.2" fill="#4b58c4"/>
<circle cx="96.21" cy="595.76" r="2.2" fill="#b955c2"/>
<circle cx="92.55" cy="591.32" r="2.2" fill="#b955c2"/>
<circle cx="93.19" cy="589.10" r="2.2" fill="#b955c2"/>
<circle cx="92.25" cy="596.87" r="2.2" fill="#4b58c4"/>
<circle cx="109.65" cy="518.06" r="2.2" fill="#b955c2"/>
<circle cx="108.57" cy="515.84" r="2.2" fill="#b955c2"/>
<circle cx="108.77" cy="526.94" r="2.2" fill="#4b58c4"/>
<circle cx="110.23" cy="531.38" r="2.2" fill="#4b58c4"/>
<circle cx="109.08" cy="538.04" r="2.2" fill="#b955c2"/>
<circle cx="109.90" cy="524.72" r="2.2" fill="#4b58c4"/>
<circle cx="107.62" cy="516.95" r="2.2" fill="#4b58c4"/>
<circle cx="106.20" cy="522.50" r="2.2" fill="#4b58c4"/>
<circle cx="105.92" cy="535.82" r="2.2" fill="#4b58c4"/>
<circle cx="110.42" cy="520.28" r="2.2" fill="#b955c2"/>
<circle cx="106.62" cy="516.95" r="2.2" fill="#b955c2"/>
<circle cx="122.72" cy="587.99" r="2.2" fill="#4b58c4"/>
<circle cx="124.30" cy="556.91" r="2.2" fill="#b955c2"/>
<circle cx="121.92" cy="585.77" r="2.2" fill="#4b58c4"/>
<circle cx="121.61" cy="575.78" r="2.2" fill="#4b58c4"/>
<circle cx="122.88" cy="558.02" r="2.2" fill="#b955c2"/>
<circle cx="124.16" cy="582.44" r="2.2" fill="#4b58c4"/>
<circle cx="123.82" cy="571.34" r="2.2" fill="#b955c2"/>
<circle cx="121.39" cy="583.55" r="2.2" fill="#b955c2"/>
<circle cx="122.35" cy="560.24" r="2.2" fill="#b955c2"/>
<circle cx="122.28" cy="554.69" r="2.2" fill="#4b58c4"/>
<circle cx="121.95" cy="559.13" r="2.2" fill="#b955c2"/>
<circle cx="122.17" cy="585.77" r="2.2" fill="#b955c2"/>
<circle cx="136.55" cy="573.56" r="2.2" fill="#b955c2"/>
<circle cx="138.48" cy="594.65" r="2.2" fill="#b955c2"/>
<circle cx="137.56" cy="596.87" r="2.2" fill="#4b58c4"/>
<circle cx="136.78" cy="597.98" r="2.2" fill="#b955c2"/>
<circle cx="137.69" cy="565.79" r="2.2" fill="#b955c2"/>
<circle cx="139.26" cy="589.10" r="2.2" fill="#4b58c4"/>
<circle cx="138.97" cy="572.45" r="2.2" fill="#4b58c4"/>
<circle cx="137.22" cy="582.44" r="2.2" fill="#4b58c4"/>
<circle cx="136.13" cy="599.09" r="2.2" fill="#4b58c4"/>
<circle cx="135.52" cy="585.77" r="2.2" fill="#b955c2"/>
<circle cx="140.24" cy="568.01" r="2.2" fill="#b955c2"/>
<circle cx="138.15" cy="583.55" r="2.2" fill="#4b58c4"/>
<circle cx="138.01" cy="593.54" r="2.2" fill="#4b58c4"/>
<circle cx="151.70" cy="599.09" r="2.2" fill="#4b58c4"/>
<circle cx="154.51" cy="579.11" r="2.2" fill="#4b58c4"/>
<circle cx="151.24" cy="589.10" r="2.2" fill="#4b58c4"/>
<circle cx="153.35" cy="595.76" r="2.2" fill="#4b58c4"/>
<circle cx="152.44" cy="591.32" r="2.2" fill="#b955c2"/>
<circle cx="153.94" cy="572.45" r="2.2" fill="#b955c2"/>
<circle cx="154.35" cy="589.10" r="2.2" fill="#b955c2"/>
<circle cx="154.74" cy="594.65" r="2.2" fill="#b955c2"/>
<circle cx="154.67" cy="573.56" r="2.2" fill="#4b58c4"/>
<circle cx="154.89" cy="597.98" r="2.2" fill="#b955c2"/>
<circle cx="153.57" cy="583.55" r="2.2" fill="#4b58c4"/>
<circle cx="153.12" cy="570.23" r="2.2" fill="#b955c2"/>
<line x1="71.80" y1="489.20" x2="71.80" y2="600.20" stroke="#333" stroke-width="0.8" stroke-dasharray="0.9,1.3"/>
<line x1="130.10" y1="489.20" x2="130.10" y2="600.20" stroke="#333" stroke-width="0.8" stroke-dasharray="0.9,1.3"/>
<line x1="101.10" y1="489.60" x2="101.10" y2="600.20" stroke="#333" stroke-width="1"/>
<line x1="41.50" y1="488.90" x2="41.50" y2="600.20" stroke="#222" stroke-width="1.1"/>
<line x1="41.50" y1="600.20" x2="159.60" y2="600.20" stroke="#222" stroke-width="1.1"/>
<text x="56.20" y="473.60" font-size="10.3" text-anchor="middle" font-weight="normal" fill="#000" textLength="17.4" lengthAdjust="spacingAndGlyphs">PD1</text>
<text x="86.75" y="473.60" font-size="10.3" text-anchor="middle" font-weight="normal" fill="#000" textLength="21.0" lengthAdjust="spacingAndGlyphs">TIM3</text>
<text x="115.60" y="473.60" font-size="10.3" text-anchor="middle" font-weight="normal" fill="#000" textLength="17.4" lengthAdjust="spacingAndGlyphs">PD1</text>
<text x="145.25" y="473.60" font-size="10.3" text-anchor="middle" font-weight="normal" fill="#000" textLength="21.0" lengthAdjust="spacingAndGlyphs">TIM3</text>
<path d="M49.10 492.40V484.10H64.90V532.30" fill="none" stroke="#555" stroke-width="0.8"/>
<path d="M52.80 476.60L52.80 480.40M51.15 477.55L54.45 479.45M54.45 477.55L51.15 479.45" stroke="#000" stroke-width="1.1" fill="none"/>
<path d="M57.00 476.60L57.00 480.40M55.35 477.55L58.65 479.45M58.65 477.55L55.35 479.45" stroke="#000" stroke-width="1.1" fill="none"/>
<path d="M61.20 476.60L61.20 480.40M59.55 477.55L62.85 479.45M62.85 477.55L59.55 479.45" stroke="#000" stroke-width="1.1" fill="none"/>
<path d="M79.00 517.80V484.10H93.50V578.40" fill="none" stroke="#555" stroke-width="0.8"/>
<path d="M82.05 476.60L82.05 480.40M80.40 477.55L83.70 479.45M83.70 477.55L80.40 479.45" stroke="#000" stroke-width="1.1" fill="none"/>
<path d="M86.25 476.60L86.25 480.40M84.60 477.55L87.90 479.45M87.90 477.55L84.60 479.45" stroke="#000" stroke-width="1.1" fill="none"/>
<path d="M90.45 476.60L90.45 480.40M88.80 477.55L92.10 479.45M92.10 477.55L88.80 479.45" stroke="#000" stroke-width="1.1" fill="none"/>
<path d="M107.30 511.10V484.10H123.10V551.00" fill="none" stroke="#555" stroke-width="0.8"/>
<path d="M111.00 476.60L111.00 480.40M109.35 477.55L112.65 479.45M112.65 477.55L109.35 479.45" stroke="#000" stroke-width="1.1" fill="none"/>
<path d="M115.20 476.60L115.20 480.40M113.55 477.55L116.85 479.45M116.85 477.55L113.55 479.45" stroke="#000" stroke-width="1.1" fill="none"/>
<path d="M119.40 476.60L119.40 480.40M117.75 477.55L121.05 479.45M121.05 477.55L117.75 479.45" stroke="#000" stroke-width="1.1" fill="none"/>
<path d="M137.60 562.20V484.10H150.50V564.70" fill="none" stroke="#555" stroke-width="0.8"/>
<text x="144.05" y="480.30" font-size="6.2" text-anchor="middle" font-weight="normal" fill="#333">ns</text>
<text x="42.30" y="613.60" font-size="10.3" text-anchor="end" font-weight="normal" fill="#000" textLength="27.1" lengthAdjust="spacingAndGlyphs">CCR5</text>
<text x="49.05" y="613.60" font-size="10" text-anchor="middle" font-weight="normal" fill="#000">+</text>
<text x="63.95" y="613.60" font-size="10" text-anchor="middle" font-weight="normal" fill="#000">-</text>
<text x="78.95" y="613.60" font-size="10" text-anchor="middle" font-weight="normal" fill="#000">+</text>
<text x="93.95" y="613.60" font-size="10" text-anchor="middle" font-weight="normal" fill="#000">-</text>
<text x="108.15" y="613.60" font-size="10" text-anchor="middle" font-weight="normal" fill="#000">+</text>
<text x="123.05" y="613.60" font-size="10" text-anchor="middle" font-weight="normal" fill="#000">-</text>
<text x="138.05" y="613.60" font-size="10" text-anchor="middle" font-weight="normal" fill="#000">+</text>
<text x="152.95" y="613.60" font-size="10" text-anchor="middle" font-weight="normal" fill="#000">-</text>
<line x1="47.90" y1="619.20" x2="94.90" y2="619.20" stroke="#222" stroke-width="1"/>
<line x1="107.70" y1="619.20" x2="155.10" y2="619.20" stroke="#222" stroke-width="1"/>
<text x="71.40" y="630.80" font-size="10.4" text-anchor="middle" font-weight="normal" fill="#000">CD4</text>
<text x="131.40" y="630.80" font-size="10.4" text-anchor="middle" font-weight="normal" fill="#000">CD8</text>
<text x="108.85" y="458.60" font-size="17.0" text-anchor="middle" font-weight="normal" fill="#000" textLength="44.1" lengthAdjust="spacingAndGlyphs">CCR5</text>
<text x="181.80" y="538.00" font-size="10.6" text-anchor="middle" font-weight="normal" fill="#000" transform="rotate(-90 181.8 538)" dominant-baseline="middle">% of Subset</text>
<line x1="202.00" y1="599.70" x2="205.60" y2="599.70" stroke="#222" stroke-width="1"/>
<text x="201.00" y="603.30" font-size="10.2" text-anchor="end" font-weight="normal" fill="#000">0</text>
<line x1="202.00" y1="577.76" x2="205.60" y2="577.76" stroke="#222" stroke-width="1"/>
<text x="201.00" y="581.36" font-size="10.2" text-anchor="end" font-weight="normal" fill="#000">20</text>
<line x1="202.00" y1="555.82" x2="205.60" y2="555.82" stroke="#222" stroke-width="1"/>
<text x="201.00" y="559.42" font-size="10.2" text-anchor="end" font-weight="normal" fill="#000">40</text>
<line x1="202.00" y1="533.88" x2="205.60" y2="533.88" stroke="#222" stroke-width="1"/>
<text x="201.00" y="537.48" font-size="10.2" text-anchor="end" font-weight="normal" fill="#000">60</text>
<line x1="202.00" y1="511.94" x2="205.60" y2="511.94" stroke="#222" stroke-width="1"/>
<text x="201.00" y="515.54" font-size="10.2" text-anchor="end" font-weight="normal" fill="#000">80</text>
<line x1="202.00" y1="490.00" x2="205.60" y2="490.00" stroke="#222" stroke-width="1"/>
<text x="201.00" y="493.60" font-size="10.2" text-anchor="end" font-weight="normal" fill="#000">100</text>
<rect x="208.10" y="526.09" width="9.30" height="73.61" fill="#7b7b7b" stroke="#4a4a4a" stroke-width="0.8"/>
<rect x="223.10" y="539.26" width="9.30" height="60.44" fill="#bebebe" stroke="#4a4a4a" stroke-width="0.8"/>
<rect x="237.80" y="585.22" width="9.30" height="14.48" fill="#7b7b7b" stroke="#4a4a4a" stroke-width="0.8"/>
<rect x="252.70" y="571.73" width="9.30" height="27.97" fill="#bebebe" stroke="#4a4a4a" stroke-width="0.8"/>
<rect x="267.20" y="522.36" width="9.30" height="77.34" fill="#7b7b7b" stroke="#4a4a4a" stroke-width="0.8"/>
<rect x="282.20" y="550.55" width="9.30" height="49.15" fill="#bebebe" stroke="#4a4a4a" stroke-width="0.8"/>
<rect x="297.10" y="589.72" width="9.30" height="9.98" fill="#7b7b7b" stroke="#4a4a4a" stroke-width="0.8"/>
<rect x="312.10" y="584.67" width="9.30" height="15.03" fill="#bebebe" stroke="#4a4a4a" stroke-width="0.8"/>
<circle cx="213.19" cy="538.27" r="2.2" fill="#b955c2"/>
<circle cx="213.94" cy="530.59" r="2.2" fill="#4b58c4"/>
<circle cx="213.94" cy="507.55" r="2.2" fill="#b955c2"/>
<circle cx="214.80" cy="522.91" r="2.2" fill="#4b58c4"/>
<circle cx="212.80" cy="525.10" r="2.2" fill="#4b58c4"/>
<circle cx="211.83" cy="525.10" r="2.2" fill="#b955c2"/>
<circle cx="214.10" cy="513.04" r="2.2" fill="#4b58c4"/>
<circle cx="214.61" cy="519.62" r="2.2" fill="#4b58c4"/>
<circle cx="210.60" cy="520.72" r="2.2" fill="#4b58c4"/>
<circle cx="210.58" cy="517.42" r="2.2" fill="#b955c2"/>
<circle cx="211.67" cy="531.69" r="2.2" fill="#b955c2"/>
<circle cx="211.31" cy="536.07" r="2.2" fill="#4b58c4"/>
<circle cx="210.26" cy="515.23" r="2.2" fill="#4b58c4"/>
<circle cx="215.32" cy="522.91" r="2.2" fill="#b955c2"/>
<circle cx="214.78" cy="533.88" r="2.2" fill="#4b58c4"/>
<circle cx="210.87" cy="528.39" r="2.2" fill="#b955c2"/>
<circle cx="226.99" cy="506.46" r="2.2" fill="#b955c2"/>
<circle cx="228.21" cy="522.91" r="2.2" fill="#b955c2"/>
<circle cx="226.38" cy="550.34" r="2.2" fill="#b955c2"/>
<circle cx="228.20" cy="552.53" r="2.2" fill="#b955c2"/>
<circle cx="228.63" cy="561.31" r="2.2" fill="#b955c2"/>
<circle cx="227.56" cy="526.20" r="2.2" fill="#4b58c4"/>
<circle cx="228.44" cy="572.28" r="2.2" fill="#4b58c4"/>
<circle cx="228.87" cy="542.66" r="2.2" fill="#4b58c4"/>
<circle cx="227.74" cy="537.17" r="2.2" fill="#b955c2"/>
<circle cx="225.86" cy="565.69" r="2.2" fill="#4b58c4"/>
<circle cx="225.89" cy="524.01" r="2.2" fill="#b955c2"/>
<circle cx="229.99" cy="527.30" r="2.2" fill="#4b58c4"/>
<circle cx="225.52" cy="531.69" r="2.2" fill="#4b58c4"/>
<circle cx="229.44" cy="550.34" r="2.2" fill="#4b58c4"/>
<circle cx="243.58" cy="588.73" r="2.2" fill="#b955c2"/>
<circle cx="242.78" cy="577.76" r="2.2" fill="#b955c2"/>
<circle cx="243.26" cy="581.05" r="2.2" fill="#b955c2"/>
<circle cx="243.75" cy="575.57" r="2.2" fill="#b955c2"/>
<circle cx="242.00" cy="586.54" r="2.2" fill="#b955c2"/>
<circle cx="242.83" cy="588.73" r="2.2" fill="#4b58c4"/>
<circle cx="239.97" cy="579.95" r="2.2" fill="#4b58c4"/>
<circle cx="240.72" cy="586.54" r="2.2" fill="#4b58c4"/>
<circle cx="243.86" cy="590.92" r="2.2" fill="#4b58c4"/>
<circle cx="241.24" cy="564.60" r="2.2" fill="#b955c2"/>
<circle cx="244.98" cy="583.25" r="2.2" fill="#4b58c4"/>
<circle cx="239.88" cy="577.76" r="2.2" fill="#4b58c4"/>
<circle cx="257.95" cy="517.42" r="2.2" fill="#b955c2"/>
<circle cx="255.44" cy="577.76" r="2.2" fill="#4b58c4"/>
<circle cx="255.94" cy="592.02" r="2.2" fill="#4b58c4"/>
<circle cx="256.98" cy="572.28" r="2.2" fill="#b955c2"/>
<circle cx="255.36" cy="567.89" r="2.2" fill="#b955c2"/>
<circle cx="254.80" cy="561.31" r="2.2" fill="#4b58c4"/>
<circle cx="256.59" cy="570.08" r="2.2" fill="#4b58c4"/>
<circle cx="259.49" cy="562.40" r="2.2" fill="#4b58c4"/>
<circle cx="255.85" cy="566.79" r="2.2" fill="#b955c2"/>
<circle cx="257.14" cy="583.25" r="2.2" fill="#b955c2"/>
<circle cx="259.04" cy="541.56" r="2.2" fill="#b955c2"/>
<circle cx="256.79" cy="577.76" r="2.2" fill="#b955c2"/>
<circle cx="259.67" cy="592.02" r="2.2" fill="#b955c2"/>
<circle cx="273.73" cy="528.39" r="2.2" fill="#b955c2"/>
<circle cx="270.47" cy="539.37" r="2.2" fill="#b955c2"/>
<circle cx="272.98" cy="519.62" r="2.2" fill="#4b58c4"/>
<circle cx="271.73" cy="511.94" r="2.2" fill="#b955c2"/>
<circle cx="273.64" cy="532.78" r="2.2" fill="#b955c2"/>
<circle cx="273.31" cy="522.91" r="2.2" fill="#b955c2"/>
<circle cx="273.49" cy="516.33" r="2.2" fill="#4b58c4"/>
<circle cx="269.39" cy="521.81" r="2.2" fill="#4b58c4"/>
<circle cx="274.32" cy="517.42" r="2.2" fill="#b955c2"/>
<circle cx="270.09" cy="525.10" r="2.2" fill="#4b58c4"/>
<circle cx="273.77" cy="517.42" r="2.2" fill="#4b58c4"/>
<circle cx="272.91" cy="507.55" r="2.2" fill="#b955c2"/>
<circle cx="269.83" cy="506.46" r="2.2" fill="#b955c2"/>
<circle cx="285.64" cy="559.11" r="2.2" fill="#4b58c4"/>
<circle cx="288.69" cy="566.79" r="2.2" fill="#b955c2"/>
<circle cx="287.58" cy="513.04" r="2.2" fill="#b955c2"/>
<circle cx="288.98" cy="519.62" r="2.2" fill="#b955c2"/>
<circle cx="289.19" cy="551.43" r="2.2" fill="#b955c2"/>
<circle cx="288.54" cy="558.01" r="2.2" fill="#b955c2"/>
<circle cx="286.03" cy="544.85" r="2.2" fill="#b955c2"/>
<circle cx="287.45" cy="520.72" r="2.2" fill="#4b58c4"/>
<circle cx="287.80" cy="574.47" r="2.2" fill="#4b58c4"/>
<circle cx="286.70" cy="550.34" r="2.2" fill="#b955c2"/>
<circle cx="287.25" cy="528.39" r="2.2" fill="#4b58c4"/>
<circle cx="284.36" cy="577.76" r="2.2" fill="#4b58c4"/>
<circle cx="285.90" cy="543.75" r="2.2" fill="#4b58c4"/>
<circle cx="304.16" cy="581.05" r="2.2" fill="#4b58c4"/>
<circle cx="302.13" cy="590.92" r="2.2" fill="#b955c2"/>
<circle cx="304.07" cy="594.22" r="2.2" fill="#b955c2"/>
<circle cx="299.22" cy="583.25" r="2.2" fill="#b955c2"/>
<circle cx="303.87" cy="573.37" r="2.2" fill="#b955c2"/>
<circle cx="301.71" cy="592.02" r="2.2" fill="#4b58c4"/>
<circle cx="301.26" cy="577.76" r="2.2" fill="#b955c2"/>
<circle cx="303.72" cy="596.41" r="2.2" fill="#4b58c4"/>
<circle cx="300.15" cy="586.54" r="2.2" fill="#b955c2"/>
<circle cx="301.83" cy="586.54" r="2.2" fill="#4b58c4"/>
<circle cx="301.30" cy="577.76" r="2.2" fill="#4b58c4"/>
<circle cx="299.94" cy="597.51" r="2.2" fill="#b955c2"/>
<circle cx="315.66" cy="526.20" r="2.2" fill="#b955c2"/>
<circle cx="318.43" cy="577.76" r="2.2" fill="#4b58c4"/>
<circle cx="318.00" cy="528.39" r="2.2" fill="#b955c2"/>
<circle cx="315.36" cy="588.73" r="2.2" fill="#b955c2"/>
<circle cx="318.98" cy="583.25" r="2.2" fill="#4b58c4"/>
<circle cx="316.29" cy="584.34" r="2.2" fill="#b955c2"/>
<circle cx="318.28" cy="581.05" r="2.2" fill="#b955c2"/>
<circle cx="317.07" cy="530.59" r="2.2" fill="#4b58c4"/>
<circle cx="314.92" cy="558.01" r="2.2" fill="#b955c2"/>
<circle cx="318.80" cy="596.41" r="2.2" fill="#4b58c4"/>
<circle cx="315.42" cy="590.92" r="2.2" fill="#4b58c4"/>
<circle cx="314.78" cy="542.66" r="2.2" fill="#4b58c4"/>
<line x1="235.50" y1="490.00" x2="235.50" y2="599.70" stroke="#333" stroke-width="0.8" stroke-dasharray="0.9,1.3"/>
<line x1="294.60" y1="490.00" x2="294.60" y2="599.70" stroke="#333" stroke-width="0.8" stroke-dasharray="0.9,1.3"/>
<line x1="264.70" y1="490.00" x2="264.70" y2="599.70" stroke="#333" stroke-width="1"/>
<line x1="205.60" y1="489.70" x2="205.60" y2="599.70" stroke="#222" stroke-width="1.1"/>
<line x1="205.60" y1="599.70" x2="324.50" y2="599.70" stroke="#222" stroke-width="1.1"/>
<text x="219.20" y="477.40" font-size="10.3" text-anchor="middle" font-weight="normal" fill="#000" textLength="17.4" lengthAdjust="spacingAndGlyphs">PD1</text>
<text x="250.40" y="477.40" font-size="10.3" text-anchor="middle" font-weight="normal" fill="#000" textLength="21.0" lengthAdjust="spacingAndGlyphs">TIM3</text>
<text x="278.40" y="477.40" font-size="10.3" text-anchor="middle" font-weight="normal" fill="#000" textLength="17.4" lengthAdjust="spacingAndGlyphs">PD1</text>
<text x="309.00" y="477.40" font-size="10.3" text-anchor="middle" font-weight="normal" fill="#000" textLength="21.0" lengthAdjust="spacingAndGlyphs">TIM3</text>
<path d="M212.90 498.00V489.80H226.80V497.50" fill="none" stroke="#555" stroke-width="0.8"/>
<path d="M215.65 482.10L215.65 485.90M214.00 483.05L217.30 484.95M217.30 483.05L214.00 484.95" stroke="#000" stroke-width="1.1" fill="none"/>
<path d="M219.85 482.10L219.85 485.90M218.20 483.05L221.50 484.95M221.50 483.05L218.20 484.95" stroke="#000" stroke-width="1.1" fill="none"/>
<path d="M224.05 482.10L224.05 485.90M222.40 483.05L225.70 484.95M225.70 483.05L222.40 484.95" stroke="#000" stroke-width="1.1" fill="none"/>
<path d="M241.00 562.30V489.80H258.50V513.70" fill="none" stroke="#555" stroke-width="0.8"/>
<path d="M247.65 482.10L247.65 485.90M246.00 483.05L249.30 484.95M249.30 483.05L246.00 484.95" stroke="#000" stroke-width="1.1" fill="none"/>
<path d="M251.85 482.10L251.85 485.90M250.20 483.05L253.50 484.95M253.50 483.05L250.20 484.95" stroke="#000" stroke-width="1.1" fill="none"/>
<path d="M271.70 501.20V489.80H286.70V507.40" fill="none" stroke="#555" stroke-width="0.8"/>
<path d="M277.10 482.10L277.10 485.90M275.45 483.05L278.75 484.95M278.75 483.05L275.45 484.95" stroke="#000" stroke-width="1.1" fill="none"/>
<path d="M281.30 482.10L281.30 485.90M279.65 483.05L282.95 484.95M282.95 483.05L279.65 484.95" stroke="#000" stroke-width="1.1" fill="none"/>
<path d="M300.40 568.50V489.80H316.60V521.10" fill="none" stroke="#555" stroke-width="0.8"/>
<path d="M304.30 482.10L304.30 485.90M302.65 483.05L305.95 484.95M305.95 483.05L302.65 484.95" stroke="#000" stroke-width="1.1" fill="none"/>
<path d="M308.50 482.10L308.50 485.90M306.85 483.05L310.15 484.95M310.15 483.05L306.85 484.95" stroke="#000" stroke-width="1.1" fill="none"/>
<path d="M312.70 482.10L312.70 485.90M311.05 483.05L314.35 484.95M314.35 483.05L311.05 484.95" stroke="#000" stroke-width="1.1" fill="none"/>
<text x="206.10" y="613.40" font-size="10.3" text-anchor="end" font-weight="normal" fill="#000" textLength="35.5" lengthAdjust="spacingAndGlyphs">CXCR3</text>
<text x="212.75" y="613.40" font-size="10" text-anchor="middle" font-weight="normal" fill="#000">+</text>
<text x="227.75" y="613.40" font-size="10" text-anchor="middle" font-weight="normal" fill="#000">-</text>
<text x="242.45" y="613.40" font-size="10" text-anchor="middle" font-weight="normal" fill="#000">+</text>
<text x="257.35" y="613.40" font-size="10" text-anchor="middle" font-weight="normal" fill="#000">-</text>
<text x="271.85" y="613.40" font-size="10" text-anchor="middle" font-weight="normal" fill="#000">+</text>
<text x="286.85" y="613.40" font-size="10" text-anchor="middle" font-weight="normal" fill="#000">-</text>
<text x="301.75" y="613.40" font-size="10" text-anchor="middle" font-weight="normal" fill="#000">+</text>
<text x="316.75" y="613.40" font-size="10" text-anchor="middle" font-weight="normal" fill="#000">-</text>
<line x1="211.90" y1="617.60" x2="258.00" y2="617.60" stroke="#222" stroke-width="1"/>
<line x1="271.40" y1="617.60" x2="318.30" y2="617.60" stroke="#222" stroke-width="1"/>
<text x="234.95" y="630.10" font-size="10.4" text-anchor="middle" font-weight="normal" fill="#000">CD4</text>
<text x="294.85" y="630.10" font-size="10.4" text-anchor="middle" font-weight="normal" fill="#000">CD8</text>
<text x="273.10" y="456.90" font-size="17.0" text-anchor="middle" font-weight="normal" fill="#000" textLength="55.6" lengthAdjust="spacingAndGlyphs">CXCR3</text>
<text x="353.80" y="537.70" font-size="10.6" text-anchor="middle" font-weight="normal" fill="#000" transform="rotate(-90 353.8 537.7)" dominant-baseline="middle">% of Subset</text>
<line x1="374.10" y1="599.70" x2="377.70" y2="599.70" stroke="#222" stroke-width="1"/>
<text x="373.10" y="603.30" font-size="10.2" text-anchor="end" font-weight="normal" fill="#000">0</text>
<line x1="374.10" y1="577.76" x2="377.70" y2="577.76" stroke="#222" stroke-width="1"/>
<text x="373.10" y="581.36" font-size="10.2" text-anchor="end" font-weight="normal" fill="#000">20</text>
<line x1="374.10" y1="555.82" x2="377.70" y2="555.82" stroke="#222" stroke-width="1"/>
<text x="373.10" y="559.42" font-size="10.2" text-anchor="end" font-weight="normal" fill="#000">40</text>
<line x1="374.10" y1="533.88" x2="377.70" y2="533.88" stroke="#222" stroke-width="1"/>
<text x="373.10" y="537.48" font-size="10.2" text-anchor="end" font-weight="normal" fill="#000">60</text>
<line x1="374.10" y1="511.94" x2="377.70" y2="511.94" stroke="#222" stroke-width="1"/>
<text x="373.10" y="515.54" font-size="10.2" text-anchor="end" font-weight="normal" fill="#000">80</text>
<line x1="374.10" y1="490.00" x2="377.70" y2="490.00" stroke="#222" stroke-width="1"/>
<text x="373.10" y="493.60" font-size="10.2" text-anchor="end" font-weight="normal" fill="#000">100</text>
<rect x="380.40" y="536.07" width="9.50" height="63.63" fill="#7b7b7b" stroke="#4a4a4a" stroke-width="0.8"/>
<rect x="395.30" y="526.86" width="9.50" height="72.84" fill="#bebebe" stroke="#4a4a4a" stroke-width="0.8"/>
<rect x="410.30" y="585.22" width="9.50" height="14.48" fill="#7b7b7b" stroke="#4a4a4a" stroke-width="0.8"/>
<rect x="424.80" y="552.31" width="9.50" height="47.39" fill="#bebebe" stroke="#4a4a4a" stroke-width="0.8"/>
<rect x="439.20" y="529.93" width="9.50" height="69.77" fill="#7b7b7b" stroke="#4a4a4a" stroke-width="0.8"/>
<rect x="454.20" y="536.84" width="9.50" height="62.86" fill="#bebebe" stroke="#4a4a4a" stroke-width="0.8"/>
<rect x="469.10" y="589.17" width="9.50" height="10.53" fill="#7b7b7b" stroke="#4a4a4a" stroke-width="0.8"/>
<rect x="483.40" y="570.30" width="9.50" height="29.40" fill="#bebebe" stroke="#4a4a4a" stroke-width="0.8"/>
<circle cx="384.32" cy="511.94" r="2.2" fill="#b955c2"/>
<circle cx="384.05" cy="539.37" r="2.2" fill="#b955c2"/>
<circle cx="385.17" cy="549.24" r="2.2" fill="#4b58c4"/>
<circle cx="382.78" cy="532.78" r="2.2" fill="#b955c2"/>
<circle cx="383.99" cy="532.78" r="2.2" fill="#4b58c4"/>
<circle cx="386.99" cy="560.21" r="2.2" fill="#b955c2"/>
<circle cx="385.54" cy="550.34" r="2.2" fill="#b955c2"/>
<circle cx="382.61" cy="522.91" r="2.2" fill="#4b58c4"/>
<circle cx="385.94" cy="555.82" r="2.2" fill="#b955c2"/>
<circle cx="386.08" cy="563.50" r="2.2" fill="#b955c2"/>
<circle cx="386.47" cy="531.69" r="2.2" fill="#4b58c4"/>
<circle cx="385.66" cy="544.85" r="2.2" fill="#b955c2"/>
<circle cx="386.15" cy="533.88" r="2.2" fill="#4b58c4"/>
<circle cx="399.24" cy="537.17" r="2.2" fill="#4b58c4"/>
<circle cx="398.81" cy="497.68" r="2.2" fill="#b955c2"/>
<circle cx="401.23" cy="529.49" r="2.2" fill="#4b58c4"/>
<circle cx="397.80" cy="533.88" r="2.2" fill="#4b58c4"/>
<circle cx="401.85" cy="520.72" r="2.2" fill="#4b58c4"/>
<circle cx="402.11" cy="533.88" r="2.2" fill="#b955c2"/>
<circle cx="398.43" cy="516.33" r="2.2" fill="#4b58c4"/>
<circle cx="399.89" cy="502.07" r="2.2" fill="#b955c2"/>
<circle cx="397.57" cy="522.91" r="2.2" fill="#b955c2"/>
<circle cx="397.96" cy="539.37" r="2.2" fill="#b955c2"/>
<circle cx="401.16" cy="529.49" r="2.2" fill="#b955c2"/>
<circle cx="398.35" cy="516.33" r="2.2" fill="#b955c2"/>
<circle cx="399.09" cy="517.42" r="2.2" fill="#4b58c4"/>
<circle cx="402.36" cy="542.66" r="2.2" fill="#b955c2"/>
<circle cx="398.40" cy="517.42" r="2.2" fill="#b955c2"/>
<circle cx="416.32" cy="588.73" r="2.2" fill="#4b58c4"/>
<circle cx="417.10" cy="588.73" r="2.2" fill="#b955c2"/>
<circle cx="414.52" cy="583.25" r="2.2" fill="#b955c2"/>
<circle cx="416.06" cy="594.22" r="2.2" fill="#b955c2"/>
<circle cx="417.46" cy="583.25" r="2.2" fill="#4b58c4"/>
<circle cx="415.85" cy="578.86" r="2.2" fill="#4b58c4"/>
<circle cx="417.03" cy="577.76" r="2.2" fill="#b955c2"/>
<circle cx="417.20" cy="575.57" r="2.2" fill="#4b58c4"/>
<circle cx="413.23" cy="572.28" r="2.2" fill="#b955c2"/>
<circle cx="413.28" cy="590.92" r="2.2" fill="#b955c2"/>
<circle cx="416.38" cy="585.44" r="2.2" fill="#4b58c4"/>
<circle cx="430.22" cy="555.82" r="2.2" fill="#b955c2"/>
<circle cx="431.09" cy="553.63" r="2.2" fill="#4b58c4"/>
<circle cx="427.20" cy="555.82" r="2.2" fill="#4b58c4"/>
<circle cx="428.09" cy="566.79" r="2.2" fill="#b955c2"/>
<circle cx="429.61" cy="559.11" r="2.2" fill="#4b58c4"/>
<circle cx="428.11" cy="504.26" r="2.2" fill="#b955c2"/>
<circle cx="428.97" cy="515.23" r="2.2" fill="#b955c2"/>
<circle cx="431.68" cy="565.69" r="2.2" fill="#4b58c4"/>
<circle cx="431.21" cy="588.73" r="2.2" fill="#b955c2"/>
<circle cx="428.49" cy="548.14" r="2.2" fill="#b955c2"/>
<circle cx="427.32" cy="547.04" r="2.2" fill="#4b58c4"/>
<circle cx="430.86" cy="560.21" r="2.2" fill="#4b58c4"/>
<circle cx="445.78" cy="531.69" r="2.2" fill="#b955c2"/>
<circle cx="443.48" cy="522.91" r="2.2" fill="#4b58c4"/>
<circle cx="446.17" cy="525.10" r="2.2" fill="#b955c2"/>
<circle cx="444.20" cy="508.65" r="2.2" fill="#b955c2"/>
<circle cx="442.82" cy="532.78" r="2.2" fill="#4b58c4"/>
<circle cx="444.16" cy="556.92" r="2.2" fill="#b955c2"/>
<circle cx="442.91" cy="536.07" r="2.2" fill="#b955c2"/>
<circle cx="442.74" cy="517.42" r="2.2" fill="#b955c2"/>
<circle cx="445.34" cy="516.33" r="2.2" fill="#4b58c4"/>
<circle cx="445.42" cy="519.62" r="2.2" fill="#4b58c4"/>
<circle cx="442.18" cy="544.85" r="2.2" fill="#b955c2"/>
<circle cx="456.79" cy="516.33" r="2.2" fill="#4b58c4"/>
<circle cx="460.84" cy="534.98" r="2.2" fill="#4b58c4"/>
<circle cx="457.58" cy="522.91" r="2.2" fill="#b955c2"/>
<circle cx="460.74" cy="575.57" r="2.2" fill="#b955c2"/>
<circle cx="460.80" cy="554.72" r="2.2" fill="#4b58c4"/>
<circle cx="460.22" cy="528.39" r="2.2" fill="#4b58c4"/>
<circle cx="459.24" cy="536.07" r="2.2" fill="#4b58c4"/>
<circle cx="461.23" cy="533.88" r="2.2" fill="#b955c2"/>
<circle cx="461.14" cy="547.04" r="2.2" fill="#b955c2"/>
<circle cx="459.88" cy="499.87" r="2.2" fill="#b955c2"/>
<circle cx="458.44" cy="570.08" r="2.2" fill="#b955c2"/>
<circle cx="457.03" cy="525.10" r="2.2" fill="#b955c2"/>
<circle cx="456.69" cy="508.65" r="2.2" fill="#b955c2"/>
<circle cx="460.02" cy="563.50" r="2.2" fill="#b955c2"/>
<circle cx="458.41" cy="537.17" r="2.2" fill="#4b58c4"/>
<circle cx="471.75" cy="588.73" r="2.2" fill="#4b58c4"/>
<circle cx="473.22" cy="598.60" r="2.2" fill="#b955c2"/>
<circle cx="475.13" cy="594.22" r="2.2" fill="#b955c2"/>
<circle cx="472.56" cy="584.34" r="2.2" fill="#b955c2"/>
<circle cx="473.57" cy="596.41" r="2.2" fill="#b955c2"/>
<circle cx="475.72" cy="579.95" r="2.2" fill="#4b58c4"/>
<circle cx="473.62" cy="588.73" r="2.2" fill="#b955c2"/>
<circle cx="474.17" cy="590.92" r="2.2" fill="#4b58c4"/>
<circle cx="475.17" cy="590.92" r="2.2" fill="#b955c2"/>
<circle cx="471.36" cy="574.47" r="2.2" fill="#4b58c4"/>
<circle cx="489.50" cy="583.25" r="2.2" fill="#b955c2"/>
<circle cx="489.99" cy="564.60" r="2.2" fill="#b955c2"/>
<circle cx="487.05" cy="537.17" r="2.2" fill="#b955c2"/>
<circle cx="486.13" cy="539.37" r="2.2" fill="#b955c2"/>
<circle cx="490.13" cy="590.92" r="2.2" fill="#b955c2"/>
<circle cx="486.57" cy="575.57" r="2.2" fill="#4b58c4"/>
<circle cx="485.85" cy="586.54" r="2.2" fill="#4b58c4"/>
<circle cx="487.26" cy="572.28" r="2.2" fill="#b955c2"/>
<circle cx="486.83" cy="586.54" r="2.2" fill="#b955c2"/>
<circle cx="488.46" cy="552.53" r="2.2" fill="#4b58c4"/>
<circle cx="487.24" cy="538.27" r="2.2" fill="#4b58c4"/>
<circle cx="489.44" cy="543.75" r="2.2" fill="#b955c2"/>
<circle cx="489.24" cy="530.59" r="2.2" fill="#4b58c4"/>
<circle cx="486.11" cy="534.98" r="2.2" fill="#b955c2"/>
<circle cx="486.64" cy="570.08" r="2.2" fill="#4b58c4"/>
<line x1="407.80" y1="490.00" x2="407.80" y2="599.70" stroke="#333" stroke-width="0.8" stroke-dasharray="0.9,1.3"/>
<line x1="466.70" y1="490.00" x2="466.70" y2="599.70" stroke="#333" stroke-width="0.8" stroke-dasharray="0.9,1.3"/>
<line x1="436.70" y1="489.50" x2="436.70" y2="599.70" stroke="#333" stroke-width="1"/>
<line x1="377.70" y1="489.70" x2="377.70" y2="599.70" stroke="#222" stroke-width="1.1"/>
<line x1="377.70" y1="599.70" x2="503.30" y2="599.70" stroke="#222" stroke-width="1.1"/>
<text x="390.20" y="479.40" font-size="10.3" text-anchor="middle" font-weight="normal" fill="#000" textLength="17.4" lengthAdjust="spacingAndGlyphs">PD1</text>
<text x="420.65" y="479.40" font-size="10.3" text-anchor="middle" font-weight="normal" fill="#000" textLength="21.0" lengthAdjust="spacingAndGlyphs">TIM3</text>
<text x="450.05" y="479.40" font-size="10.3" text-anchor="middle" font-weight="normal" fill="#000" textLength="17.4" lengthAdjust="spacingAndGlyphs">PD1</text>
<text x="479.60" y="479.40" font-size="10.3" text-anchor="middle" font-weight="normal" fill="#000" textLength="21.0" lengthAdjust="spacingAndGlyphs">TIM3</text>
<path d="M384.90 506.20V487.80H396.80V492.50" fill="none" stroke="#555" stroke-width="0.8"/>
<path d="M386.65 481.10L386.65 484.90M385.00 482.05L388.30 483.95M388.30 482.05L385.00 483.95" stroke="#000" stroke-width="1.1" fill="none"/>
<path d="M390.85 481.10L390.85 484.90M389.20 482.05L392.50 483.95M392.50 482.05L389.20 483.95" stroke="#000" stroke-width="1.1" fill="none"/>
<path d="M395.05 481.10L395.05 484.90M393.40 482.05L396.70 483.95M396.70 482.05L393.40 483.95" stroke="#000" stroke-width="1.1" fill="none"/>
<path d="M412.30 568.50V487.80H427.80V500.00" fill="none" stroke="#555" stroke-width="0.8"/>
<path d="M415.85 481.10L415.85 484.90M414.20 482.05L417.50 483.95M417.50 482.05L414.20 483.95" stroke="#000" stroke-width="1.1" fill="none"/>
<path d="M420.05 481.10L420.05 484.90M418.40 482.05L421.70 483.95M421.70 482.05L418.40 483.95" stroke="#000" stroke-width="1.1" fill="none"/>
<path d="M424.25 481.10L424.25 484.90M422.60 482.05L425.90 483.95M425.90 482.05L422.60 483.95" stroke="#000" stroke-width="1.1" fill="none"/>
<path d="M441.70 502.40V487.80H459.20V495.00" fill="none" stroke="#555" stroke-width="0.8"/>
<text x="450.45" y="484.80" font-size="6.2" text-anchor="middle" font-weight="normal" fill="#333">ns</text>
<path d="M473.40 574.70V487.80H488.30V526.10" fill="none" stroke="#555" stroke-width="0.8"/>
<path d="M476.65 481.10L476.65 484.90M475.00 482.05L478.30 483.95M478.30 482.05L475.00 483.95" stroke="#000" stroke-width="1.1" fill="none"/>
<path d="M480.85 481.10L480.85 484.90M479.20 482.05L482.50 483.95M482.50 482.05L479.20 483.95" stroke="#000" stroke-width="1.1" fill="none"/>
<path d="M485.05 481.10L485.05 484.90M483.40 482.05L486.70 483.95M486.70 482.05L483.40 483.95" stroke="#000" stroke-width="1.1" fill="none"/>
<text x="378.60" y="614.60" font-size="10.3" text-anchor="end" font-weight="normal" fill="#000" textLength="31.6" lengthAdjust="spacingAndGlyphs">CXCR4</text>
<text x="385.15" y="614.60" font-size="10" text-anchor="middle" font-weight="normal" fill="#000">+</text>
<text x="400.05" y="614.60" font-size="10" text-anchor="middle" font-weight="normal" fill="#000">-</text>
<text x="415.05" y="614.60" font-size="10" text-anchor="middle" font-weight="normal" fill="#000">+</text>
<text x="429.55" y="614.60" font-size="10" text-anchor="middle" font-weight="normal" fill="#000">-</text>
<text x="443.95" y="614.60" font-size="10" text-anchor="middle" font-weight="normal" fill="#000">+</text>
<text x="458.95" y="614.60" font-size="10" text-anchor="middle" font-weight="normal" fill="#000">-</text>
<text x="473.85" y="614.60" font-size="10" text-anchor="middle" font-weight="normal" fill="#000">+</text>
<text x="488.15" y="614.60" font-size="10" text-anchor="middle" font-weight="normal" fill="#000">-</text>
<line x1="381.90" y1="620.10" x2="428.50" y2="620.10" stroke="#222" stroke-width="1"/>
<line x1="441.70" y1="620.10" x2="489.10" y2="620.10" stroke="#222" stroke-width="1"/>
<text x="405.20" y="632.10" font-size="10.4" text-anchor="middle" font-weight="normal" fill="#000">CD4</text>
<text x="465.40" y="632.10" font-size="10.4" text-anchor="middle" font-weight="normal" fill="#000">CD8</text>
<text x="444.70" y="457.40" font-size="17.0" text-anchor="middle" font-weight="normal" fill="#000" textLength="54.8" lengthAdjust="spacingAndGlyphs">CXCR4</text>
<text x="523.80" y="537.70" font-size="10.6" text-anchor="middle" font-weight="normal" fill="#000" transform="rotate(-90 523.8 537.7)" dominant-baseline="middle">% of Subset</text>
<line x1="543.80" y1="599.70" x2="547.40" y2="599.70" stroke="#222" stroke-width="1"/>
<text x="542.80" y="603.30" font-size="10.2" text-anchor="end" font-weight="normal" fill="#000">0</text>
<line x1="543.80" y1="577.76" x2="547.40" y2="577.76" stroke="#222" stroke-width="1"/>
<text x="542.80" y="581.36" font-size="10.2" text-anchor="end" font-weight="normal" fill="#000">20</text>
<line x1="543.80" y1="555.82" x2="547.40" y2="555.82" stroke="#222" stroke-width="1"/>
<text x="542.80" y="559.42" font-size="10.2" text-anchor="end" font-weight="normal" fill="#000">40</text>
<line x1="543.80" y1="533.88" x2="547.40" y2="533.88" stroke="#222" stroke-width="1"/>
<text x="542.80" y="537.48" font-size="10.2" text-anchor="end" font-weight="normal" fill="#000">60</text>
<line x1="543.80" y1="511.94" x2="547.40" y2="511.94" stroke="#222" stroke-width="1"/>
<text x="542.80" y="515.54" font-size="10.2" text-anchor="end" font-weight="normal" fill="#000">80</text>
<line x1="543.80" y1="490.00" x2="547.40" y2="490.00" stroke="#222" stroke-width="1"/>
<text x="542.80" y="493.60" font-size="10.2" text-anchor="end" font-weight="normal" fill="#000">100</text>
<rect x="549.90" y="529.93" width="9.50" height="69.77" fill="#7b7b7b" stroke="#4a4a4a" stroke-width="0.8"/>
<rect x="564.10" y="539.37" width="9.50" height="60.34" fill="#bebebe" stroke="#4a4a4a" stroke-width="0.8"/>
<rect x="579.80" y="585.99" width="9.50" height="13.71" fill="#7b7b7b" stroke="#4a4a4a" stroke-width="0.8"/>
<rect x="594.30" y="578.53" width="9.50" height="21.17" fill="#bebebe" stroke="#4a4a4a" stroke-width="0.8"/>
<rect x="608.50" y="518.08" width="9.50" height="81.62" fill="#7b7b7b" stroke="#4a4a4a" stroke-width="0.8"/>
<rect x="623.40" y="543.64" width="9.50" height="56.06" fill="#bebebe" stroke="#4a4a4a" stroke-width="0.8"/>
<rect x="637.60" y="593.45" width="9.50" height="6.25" fill="#7b7b7b" stroke="#4a4a4a" stroke-width="0.8"/>
<rect x="652.60" y="593.45" width="9.50" height="6.25" fill="#bebebe" stroke="#4a4a4a" stroke-width="0.8"/>
<circle cx="552.40" cy="560.21" r="2.2" fill="#b955c2"/>
<circle cx="554.47" cy="526.20" r="2.2" fill="#b955c2"/>
<circle cx="556.39" cy="558.01" r="2.2" fill="#4b58c4"/>
<circle cx="552.22" cy="539.37" r="2.2" fill="#b955c2"/>
<circle cx="553.42" cy="531.69" r="2.2" fill="#b955c2"/>
<circle cx="553.08" cy="520.72" r="2.2" fill="#4b58c4"/>
<circle cx="553.64" cy="517.42" r="2.2" fill="#b955c2"/>
<circle cx="553.48" cy="530.59" r="2.2" fill="#4b58c4"/>
<circle cx="555.80" cy="516.33" r="2.2" fill="#b955c2"/>
<circle cx="555.61" cy="553.63" r="2.2" fill="#4b58c4"/>
<circle cx="554.37" cy="548.14" r="2.2" fill="#4b58c4"/>
<circle cx="554.65" cy="536.07" r="2.2" fill="#b955c2"/>
<circle cx="552.97" cy="514.13" r="2.2" fill="#4b58c4"/>
<circle cx="555.66" cy="508.65" r="2.2" fill="#4b58c4"/>
<circle cx="566.82" cy="552.53" r="2.2" fill="#4b58c4"/>
<circle cx="567.50" cy="547.04" r="2.2" fill="#4b58c4"/>
<circle cx="568.76" cy="524.01" r="2.2" fill="#b955c2"/>
<circle cx="566.96" cy="551.43" r="2.2" fill="#4b58c4"/>
<circle cx="569.82" cy="532.78" r="2.2" fill="#4b58c4"/>
<circle cx="568.83" cy="534.98" r="2.2" fill="#4b58c4"/>
<circle cx="566.61" cy="533.88" r="2.2" fill="#b955c2"/>
<circle cx="567.61" cy="559.11" r="2.2" fill="#4b58c4"/>
<circle cx="570.39" cy="543.75" r="2.2" fill="#b955c2"/>
<circle cx="567.17" cy="566.79" r="2.2" fill="#b955c2"/>
<circle cx="570.76" cy="511.94" r="2.2" fill="#b955c2"/>
<circle cx="571.36" cy="516.33" r="2.2" fill="#4b58c4"/>
<circle cx="571.08" cy="539.37" r="2.2" fill="#b955c2"/>
<circle cx="566.71" cy="551.43" r="2.2" fill="#b955c2"/>
<circle cx="585.63" cy="577.76" r="2.2" fill="#b955c2"/>
<circle cx="583.34" cy="584.34" r="2.2" fill="#4b58c4"/>
<circle cx="583.95" cy="579.95" r="2.2" fill="#4b58c4"/>
<circle cx="584.43" cy="562.40" r="2.2" fill="#b955c2"/>
<circle cx="584.92" cy="594.22" r="2.2" fill="#4b58c4"/>
<circle cx="584.38" cy="586.54" r="2.2" fill="#b955c2"/>
<circle cx="583.74" cy="581.05" r="2.2" fill="#b955c2"/>
<circle cx="584.69" cy="583.25" r="2.2" fill="#4b58c4"/>
<circle cx="581.99" cy="586.54" r="2.2" fill="#4b58c4"/>
<circle cx="583.85" cy="589.83" r="2.2" fill="#4b58c4"/>
<circle cx="583.06" cy="590.92" r="2.2" fill="#b955c2"/>
<circle cx="582.35" cy="598.60" r="2.2" fill="#b955c2"/>
<circle cx="598.50" cy="597.51" r="2.2" fill="#b955c2"/>
<circle cx="598.00" cy="581.05" r="2.2" fill="#b955c2"/>
<circle cx="597.04" cy="588.73" r="2.2" fill="#4b58c4"/>
<circle cx="598.88" cy="588.73" r="2.2" fill="#b955c2"/>
<circle cx="597.46" cy="594.22" r="2.2" fill="#4b58c4"/>
<circle cx="601.53" cy="585.44" r="2.2" fill="#b955c2"/>
<circle cx="599.55" cy="572.28" r="2.2" fill="#4b58c4"/>
<circle cx="599.87" cy="549.24" r="2.2" fill="#b955c2"/>
<circle cx="598.41" cy="584.34" r="2.2" fill="#4b58c4"/>
<circle cx="600.02" cy="531.69" r="2.2" fill="#b955c2"/>
<circle cx="610.91" cy="519.62" r="2.2" fill="#4b58c4"/>
<circle cx="611.25" cy="516.33" r="2.2" fill="#b955c2"/>
<circle cx="614.38" cy="517.42" r="2.2" fill="#4b58c4"/>
<circle cx="611.07" cy="522.91" r="2.2" fill="#b955c2"/>
<circle cx="612.32" cy="514.13" r="2.2" fill="#4b58c4"/>
<circle cx="613.96" cy="527.30" r="2.2" fill="#b955c2"/>
<circle cx="611.00" cy="531.69" r="2.2" fill="#b955c2"/>
<circle cx="611.59" cy="490.00" r="2.2" fill="#b955c2"/>
<circle cx="614.60" cy="511.94" r="2.2" fill="#4b58c4"/>
<circle cx="610.73" cy="521.81" r="2.2" fill="#4b58c4"/>
<circle cx="615.80" cy="508.65" r="2.2" fill="#4b58c4"/>
<circle cx="613.46" cy="560.21" r="2.2" fill="#b955c2"/>
<circle cx="629.91" cy="555.82" r="2.2" fill="#4b58c4"/>
<circle cx="625.94" cy="552.53" r="2.2" fill="#4b58c4"/>
<circle cx="627.59" cy="542.66" r="2.2" fill="#b955c2"/>
<circle cx="629.56" cy="529.49" r="2.2" fill="#4b58c4"/>
<circle cx="629.81" cy="531.69" r="2.2" fill="#b955c2"/>
<circle cx="626.74" cy="526.20" r="2.2" fill="#b955c2"/>
<circle cx="628.63" cy="537.17" r="2.2" fill="#4b58c4"/>
<circle cx="630.10" cy="533.88" r="2.2" fill="#4b58c4"/>
<circle cx="628.20" cy="558.01" r="2.2" fill="#b955c2"/>
<circle cx="628.36" cy="541.56" r="2.2" fill="#b955c2"/>
<circle cx="629.11" cy="539.37" r="2.2" fill="#b955c2"/>
<circle cx="628.13" cy="561.31" r="2.2" fill="#b955c2"/>
<circle cx="628.20" cy="542.66" r="2.2" fill="#4b58c4"/>
<circle cx="643.48" cy="586.54" r="2.2" fill="#b955c2"/>
<circle cx="640.26" cy="559.11" r="2.2" fill="#4b58c4"/>
<circle cx="640.58" cy="594.22" r="2.2" fill="#b955c2"/>
<circle cx="640.39" cy="597.51" r="2.2" fill="#4b58c4"/>
<circle cx="641.57" cy="597.51" r="2.2" fill="#b955c2"/>
<circle cx="642.60" cy="593.12" r="2.2" fill="#4b58c4"/>
<circle cx="643.29" cy="585.44" r="2.2" fill="#4b58c4"/>
<circle cx="644.56" cy="582.15" r="2.2" fill="#4b58c4"/>
<circle cx="643.92" cy="595.31" r="2.2" fill="#4b58c4"/>
<circle cx="644.11" cy="572.28" r="2.2" fill="#b955c2"/>
<circle cx="654.97" cy="595.31" r="2.2" fill="#4b58c4"/>
<circle cx="658.76" cy="586.54" r="2.2" fill="#4b58c4"/>
<circle cx="658.63" cy="558.01" r="2.2" fill="#b955c2"/>
<circle cx="658.70" cy="579.95" r="2.2" fill="#4b58c4"/>
<circle cx="656.00" cy="565.69" r="2.2" fill="#4b58c4"/>
<circle cx="657.04" cy="597.51" r="2.2" fill="#b955c2"/>
<circle cx="656.72" cy="594.22" r="2.2" fill="#b955c2"/>
<circle cx="656.28" cy="556.92" r="2.2" fill="#b955c2"/>
<circle cx="656.23" cy="587.63" r="2.2" fill="#b955c2"/>
<circle cx="658.92" cy="593.12" r="2.2" fill="#4b58c4"/>
<circle cx="659.71" cy="598.60" r="2.2" fill="#b955c2"/>
<line x1="576.80" y1="490.00" x2="576.80" y2="599.70" stroke="#333" stroke-width="0.8" stroke-dasharray="0.9,1.3"/>
<line x1="635.20" y1="490.00" x2="635.20" y2="599.70" stroke="#333" stroke-width="0.8" stroke-dasharray="0.9,1.3"/>
<line x1="605.80" y1="489.50" x2="605.80" y2="599.70" stroke="#333" stroke-width="1"/>
<line x1="547.40" y1="489.70" x2="547.40" y2="599.70" stroke="#222" stroke-width="1.1"/>
<line x1="547.40" y1="599.70" x2="665.80" y2="599.70" stroke="#222" stroke-width="1.1"/>
<text x="561.10" y="477.40" font-size="10.3" text-anchor="middle" font-weight="normal" fill="#000" textLength="17.4" lengthAdjust="spacingAndGlyphs">PD1</text>
<text x="592.50" y="477.40" font-size="10.3" text-anchor="middle" font-weight="normal" fill="#000" textLength="21.0" lengthAdjust="spacingAndGlyphs">TIM3</text>
<text x="621.20" y="477.40" font-size="10.3" text-anchor="middle" font-weight="normal" fill="#000" textLength="17.4" lengthAdjust="spacingAndGlyphs">PD1</text>
<text x="650.45" y="477.40" font-size="10.3" text-anchor="middle" font-weight="normal" fill="#000" textLength="21.0" lengthAdjust="spacingAndGlyphs">TIM3</text>
<path d="M555.40 503.70V486.80H569.10V506.20" fill="none" stroke="#555" stroke-width="0.8"/>
<path d="M560.15 479.90L560.15 483.70M558.50 480.85L561.80 482.75M561.80 480.85L558.50 482.75" stroke="#000" stroke-width="1.1" fill="none"/>
<path d="M564.35 479.90L564.35 483.70M562.70 480.85L566.00 482.75M566.00 480.85L562.70 482.75" stroke="#000" stroke-width="1.1" fill="none"/>
<path d="M585.30 557.30V486.80H598.50V526.10" fill="none" stroke="#555" stroke-width="0.8"/>
<path d="M589.80 479.90L589.80 483.70M588.15 480.85L591.45 482.75M591.45 480.85L588.15 482.75" stroke="#000" stroke-width="1.1" fill="none"/>
<path d="M594.00 479.90L594.00 483.70M592.35 480.85L595.65 482.75M595.65 480.85L592.35 482.75" stroke="#000" stroke-width="1.1" fill="none"/>
<path d="M614.70 487.50V486.80H629.20V519.90" fill="none" stroke="#555" stroke-width="0.8"/>
<path d="M619.85 479.90L619.85 483.70M618.20 480.85L621.50 482.75M621.50 480.85L618.20 482.75" stroke="#000" stroke-width="1.1" fill="none"/>
<path d="M624.05 479.90L624.05 483.70M622.40 480.85L625.70 482.75M625.70 480.85L622.40 482.75" stroke="#000" stroke-width="1.1" fill="none"/>
<path d="M643.40 554.80V486.80H655.90V549.80" fill="none" stroke="#555" stroke-width="0.8"/>
<text x="649.65" y="483.60" font-size="6.2" text-anchor="middle" font-weight="normal" fill="#333">ns</text>
<text x="549.90" y="613.40" font-size="10.3" text-anchor="end" font-weight="normal" fill="#000" textLength="35.0" lengthAdjust="spacingAndGlyphs">CXCR5</text>
<text x="554.65" y="613.40" font-size="10" text-anchor="middle" font-weight="normal" fill="#000">+</text>
<text x="568.85" y="613.40" font-size="10" text-anchor="middle" font-weight="normal" fill="#000">-</text>
<text x="584.55" y="613.40" font-size="10" text-anchor="middle" font-weight="normal" fill="#000">+</text>
<text x="599.05" y="613.40" font-size="10" text-anchor="middle" font-weight="normal" fill="#000">-</text>
<text x="613.25" y="613.40" font-size="10" text-anchor="middle" font-weight="normal" fill="#000">+</text>
<text x="628.15" y="613.40" font-size="10" text-anchor="middle" font-weight="normal" fill="#000">-</text>
<text x="642.35" y="613.40" font-size="10" text-anchor="middle" font-weight="normal" fill="#000">+</text>
<text x="657.35" y="613.40" font-size="10" text-anchor="middle" font-weight="normal" fill="#000">-</text>
<line x1="552.90" y1="617.10" x2="599.30" y2="617.10" stroke="#222" stroke-width="1"/>
<line x1="613.50" y1="617.10" x2="660.80" y2="617.10" stroke="#222" stroke-width="1"/>
<text x="576.10" y="630.10" font-size="10.4" text-anchor="middle" font-weight="normal" fill="#000">CD4</text>
<text x="637.15" y="630.10" font-size="10.4" text-anchor="middle" font-weight="normal" fill="#000">CD8</text>
<text x="609.70" y="456.90" font-size="17.0" text-anchor="middle" font-weight="normal" fill="#000" textLength="54.8" lengthAdjust="spacingAndGlyphs">CXCR5</text>
<text x="18.70" y="757.80" font-size="10.6" text-anchor="middle" font-weight="normal" fill="#000" transform="rotate(-90 18.7 757.8)" dominant-baseline="middle">% of Subset</text>
<line x1="38.60" y1="820.20" x2="42.20" y2="820.20" stroke="#222" stroke-width="1"/>
<text x="37.60" y="823.80" font-size="10.2" text-anchor="end" font-weight="normal" fill="#000">0</text>
<line x1="38.60" y1="798.06" x2="42.20" y2="798.06" stroke="#222" stroke-width="1"/>
<text x="37.60" y="801.66" font-size="10.2" text-anchor="end" font-weight="normal" fill="#000">20</text>
<line x1="38.60" y1="775.92" x2="42.20" y2="775.92" stroke="#222" stroke-width="1"/>
<text x="37.60" y="779.52" font-size="10.2" text-anchor="end" font-weight="normal" fill="#000">40</text>
<line x1="38.60" y1="753.78" x2="42.20" y2="753.78" stroke="#222" stroke-width="1"/>
<text x="37.60" y="757.38" font-size="10.2" text-anchor="end" font-weight="normal" fill="#000">60</text>
<line x1="38.60" y1="731.64" x2="42.20" y2="731.64" stroke="#222" stroke-width="1"/>
<text x="37.60" y="735.24" font-size="10.2" text-anchor="end" font-weight="normal" fill="#000">80</text>
<line x1="38.60" y1="709.50" x2="42.20" y2="709.50" stroke="#222" stroke-width="1"/>
<text x="37.60" y="713.10" font-size="10.2" text-anchor="end" font-weight="normal" fill="#000">100</text>
<rect x="47.40" y="727.65" width="9.00" height="92.55" fill="#7b7b7b" stroke="#4a4a4a" stroke-width="0.8"/>
<rect x="61.80" y="757.88" width="9.00" height="62.32" fill="#bebebe" stroke="#4a4a4a" stroke-width="0.8"/>
<rect x="75.30" y="776.25" width="9.00" height="43.95" fill="#7b7b7b" stroke="#4a4a4a" stroke-width="0.8"/>
<rect x="90.30" y="811.45" width="9.00" height="8.75" fill="#bebebe" stroke="#4a4a4a" stroke-width="0.8"/>
<rect x="103.50" y="722.12" width="9.00" height="98.08" fill="#7b7b7b" stroke="#4a4a4a" stroke-width="0.8"/>
<rect x="118.40" y="745.26" width="9.00" height="74.94" fill="#bebebe" stroke="#4a4a4a" stroke-width="0.8"/>
<rect x="132.60" y="805.14" width="9.00" height="15.06" fill="#7b7b7b" stroke="#4a4a4a" stroke-width="0.8"/>
<rect x="147.60" y="815.11" width="9.00" height="5.09" fill="#bebebe" stroke="#4a4a4a" stroke-width="0.8"/>
<circle cx="52.37" cy="726.11" r="2.2" fill="#b955c2"/>
<circle cx="49.47" cy="731.64" r="2.2" fill="#4b58c4"/>
<circle cx="49.79" cy="728.32" r="2.2" fill="#4b58c4"/>
<circle cx="50.51" cy="727.21" r="2.2" fill="#b955c2"/>
<circle cx="52.43" cy="718.36" r="2.2" fill="#b955c2"/>
<circle cx="52.22" cy="718.36" r="2.2" fill="#b955c2"/>
<circle cx="53.02" cy="730.53" r="2.2" fill="#b955c2"/>
<circle cx="52.95" cy="733.85" r="2.2" fill="#4b58c4"/>
<circle cx="51.48" cy="720.57" r="2.2" fill="#4b58c4"/>
<circle cx="51.64" cy="722.78" r="2.2" fill="#4b58c4"/>
<circle cx="50.75" cy="736.07" r="2.2" fill="#b955c2"/>
<circle cx="65.72" cy="767.06" r="2.2" fill="#4b58c4"/>
<circle cx="65.81" cy="753.78" r="2.2" fill="#b955c2"/>
<circle cx="67.44" cy="755.99" r="2.2" fill="#b955c2"/>
<circle cx="65.93" cy="767.06" r="2.2" fill="#b955c2"/>
<circle cx="66.48" cy="775.92" r="2.2" fill="#4b58c4"/>
<circle cx="66.98" cy="742.71" r="2.2" fill="#4b58c4"/>
<circle cx="66.99" cy="750.46" r="2.2" fill="#b955c2"/>
<circle cx="63.91" cy="760.42" r="2.2" fill="#b955c2"/>
<circle cx="64.90" cy="784.78" r="2.2" fill="#b955c2"/>
<circle cx="67.37" cy="760.42" r="2.2" fill="#4b58c4"/>
<circle cx="66.67" cy="748.25" r="2.2" fill="#4b58c4"/>
<circle cx="68.06" cy="758.21" r="2.2" fill="#4b58c4"/>
<circle cx="63.97" cy="744.92" r="2.2" fill="#4b58c4"/>
<circle cx="78.07" cy="731.64" r="2.2" fill="#4b58c4"/>
<circle cx="80.57" cy="785.88" r="2.2" fill="#4b58c4"/>
<circle cx="81.25" cy="782.56" r="2.2" fill="#b955c2"/>
<circle cx="77.84" cy="781.46" r="2.2" fill="#4b58c4"/>
<circle cx="80.04" cy="757.10" r="2.2" fill="#4b58c4"/>
<circle cx="79.71" cy="771.49" r="2.2" fill="#b955c2"/>
<circle cx="81.71" cy="786.99" r="2.2" fill="#b955c2"/>
<circle cx="77.49" cy="761.53" r="2.2" fill="#4b58c4"/>
<circle cx="81.32" cy="739.39" r="2.2" fill="#4b58c4"/>
<circle cx="78.13" cy="778.13" r="2.2" fill="#b955c2"/>
<circle cx="81.25" cy="774.81" r="2.2" fill="#b955c2"/>
<circle cx="77.22" cy="790.31" r="2.2" fill="#b955c2"/>
<circle cx="93.03" cy="811.34" r="2.2" fill="#b955c2"/>
<circle cx="94.54" cy="802.49" r="2.2" fill="#4b58c4"/>
<circle cx="96.17" cy="809.13" r="2.2" fill="#4b58c4"/>
<circle cx="95.35" cy="814.67" r="2.2" fill="#4b58c4"/>
<circle cx="96.91" cy="809.13" r="2.2" fill="#b955c2"/>
<circle cx="93.70" cy="808.02" r="2.2" fill="#b955c2"/>
<circle cx="94.06" cy="811.34" r="2.2" fill="#4b58c4"/>
<circle cx="93.78" cy="814.67" r="2.2" fill="#b955c2"/>
<circle cx="92.89" cy="816.88" r="2.2" fill="#b955c2"/>
<circle cx="107.63" cy="721.68" r="2.2" fill="#b955c2"/>
<circle cx="109.74" cy="716.14" r="2.2" fill="#b955c2"/>
<circle cx="110.39" cy="742.71" r="2.2" fill="#b955c2"/>
<circle cx="105.51" cy="761.53" r="2.2" fill="#4b58c4"/>
<circle cx="105.47" cy="712.82" r="2.2" fill="#4b58c4"/>
<circle cx="107.67" cy="722.78" r="2.2" fill="#4b58c4"/>
<circle cx="110.39" cy="734.96" r="2.2" fill="#b955c2"/>
<circle cx="107.76" cy="749.35" r="2.2" fill="#4b58c4"/>
<circle cx="109.55" cy="715.03" r="2.2" fill="#4b58c4"/>
<circle cx="108.89" cy="718.36" r="2.2" fill="#4b58c4"/>
<circle cx="105.63" cy="730.53" r="2.2" fill="#b955c2"/>
<circle cx="121.60" cy="769.28" r="2.2" fill="#4b58c4"/>
<circle cx="123.39" cy="731.64" r="2.2" fill="#4b58c4"/>
<circle cx="123.99" cy="736.07" r="2.2" fill="#b955c2"/>
<circle cx="125.02" cy="760.42" r="2.2" fill="#b955c2"/>
<circle cx="121.76" cy="743.82" r="2.2" fill="#4b58c4"/>
<circle cx="121.93" cy="759.32" r="2.2" fill="#4b58c4"/>
<circle cx="121.27" cy="753.78" r="2.2" fill="#b955c2"/>
<circle cx="123.37" cy="744.92" r="2.2" fill="#b955c2"/>
<circle cx="125.09" cy="737.17" r="2.2" fill="#b955c2"/>
<circle cx="124.12" cy="767.06" r="2.2" fill="#4b58c4"/>
<circle cx="138.62" cy="775.92" r="2.2" fill="#4b58c4"/>
<circle cx="135.66" cy="762.64" r="2.2" fill="#4b58c4"/>
<circle cx="135.81" cy="748.25" r="2.2" fill="#4b58c4"/>
<circle cx="136.17" cy="804.70" r="2.2" fill="#b955c2"/>
<circle cx="138.35" cy="806.92" r="2.2" fill="#4b58c4"/>
<circle cx="139.39" cy="791.42" r="2.2" fill="#b955c2"/>
<circle cx="138.17" cy="813.56" r="2.2" fill="#4b58c4"/>
<circle cx="136.15" cy="813.56" r="2.2" fill="#b955c2"/>
<circle cx="135.17" cy="801.38" r="2.2" fill="#4b58c4"/>
<circle cx="135.99" cy="810.24" r="2.2" fill="#b955c2"/>
<circle cx="154.04" cy="813.56" r="2.2" fill="#4b58c4"/>
<circle cx="152.95" cy="816.88" r="2.2" fill="#4b58c4"/>
<circle cx="150.87" cy="815.77" r="2.2" fill="#b955c2"/>
<circle cx="150.99" cy="768.17" r="2.2" fill="#4b58c4"/>
<circle cx="149.54" cy="802.49" r="2.2" fill="#b955c2"/>
<circle cx="152.12" cy="817.99" r="2.2" fill="#4b58c4"/>
<circle cx="150.32" cy="815.77" r="2.2" fill="#4b58c4"/>
<circle cx="150.99" cy="817.99" r="2.2" fill="#b955c2"/>
<circle cx="150.28" cy="802.49" r="2.2" fill="#b955c2"/>
<circle cx="149.54" cy="813.56" r="2.2" fill="#b955c2"/>
<line x1="72.30" y1="709.50" x2="72.30" y2="820.20" stroke="#333" stroke-width="0.8" stroke-dasharray="0.9,1.3"/>
<line x1="129.60" y1="709.50" x2="129.60" y2="820.20" stroke="#333" stroke-width="0.8" stroke-dasharray="0.9,1.3"/>
<line x1="101.00" y1="709.50" x2="101.00" y2="820.20" stroke="#333" stroke-width="1"/>
<line x1="42.20" y1="709.20" x2="42.20" y2="820.20" stroke="#222" stroke-width="1.1"/>
<line x1="42.20" y1="820.20" x2="159.60" y2="820.20" stroke="#222" stroke-width="1.1"/>
<text x="59.45" y="694.40" font-size="10.3" text-anchor="middle" font-weight="normal" fill="#000" textLength="17.4" lengthAdjust="spacingAndGlyphs">PD1</text>
<text x="90.00" y="694.40" font-size="10.3" text-anchor="middle" font-weight="normal" fill="#000" textLength="21.0" lengthAdjust="spacingAndGlyphs">TIM3</text>
<text x="119.35" y="694.40" font-size="10.3" text-anchor="middle" font-weight="normal" fill="#000" textLength="17.4" lengthAdjust="spacingAndGlyphs">PD1</text>
<text x="144.35" y="694.40" font-size="10.3" text-anchor="middle" font-weight="normal" fill="#000" textLength="21.0" lengthAdjust="spacingAndGlyphs">TIM3</text>
<path d="M51.90 709.80V703.60H65.30V737.30" fill="none" stroke="#555" stroke-width="0.8"/>
<path d="M53.80 696.10L53.80 701.10M51.63 697.35L55.97 699.85M55.97 697.35L51.63 699.85" stroke="#000" stroke-width="1.1" fill="none"/>
<path d="M58.60 696.10L58.60 701.10M56.43 697.35L60.77 699.85M60.77 697.35L56.43 699.85" stroke="#000" stroke-width="1.1" fill="none"/>
<path d="M63.40 696.10L63.40 701.10M61.23 697.35L65.57 699.85M65.57 697.35L61.23 699.85" stroke="#000" stroke-width="1.1" fill="none"/>
<path d="M79.80 726.00V703.60H93.50V798.30" fill="none" stroke="#555" stroke-width="0.8"/>
<path d="M81.85 696.10L81.85 701.10M79.68 697.35L84.02 699.85M84.02 697.35L79.68 699.85" stroke="#000" stroke-width="1.1" fill="none"/>
<path d="M86.65 696.10L86.65 701.10M84.48 697.35L88.82 699.85M88.82 697.35L84.48 699.85" stroke="#000" stroke-width="1.1" fill="none"/>
<path d="M91.45 696.10L91.45 701.10M89.28 697.35L93.62 699.85M93.62 697.35L89.28 699.85" stroke="#000" stroke-width="1.1" fill="none"/>
<path d="M107.70 707.30V703.60H122.20V726.00" fill="none" stroke="#555" stroke-width="0.8"/>
<path d="M110.15 696.10L110.15 701.10M107.98 697.35L112.32 699.85M112.32 697.35L107.98 699.85" stroke="#000" stroke-width="1.1" fill="none"/>
<path d="M114.95 696.10L114.95 701.10M112.78 697.35L117.12 699.85M117.12 697.35L112.78 699.85" stroke="#000" stroke-width="1.1" fill="none"/>
<path d="M119.75 696.10L119.75 701.10M117.58 697.35L121.92 699.85M121.92 697.35L117.58 699.85" stroke="#000" stroke-width="1.1" fill="none"/>
<path d="M135.90 737.30V703.60H150.10V759.70" fill="none" stroke="#555" stroke-width="0.8"/>
<path d="M138.20 696.10L138.20 701.10M136.03 697.35L140.37 699.85M140.37 697.35L136.03 699.85" stroke="#000" stroke-width="1.1" fill="none"/>
<path d="M143.00 696.10L143.00 701.10M140.83 697.35L145.17 699.85M145.17 697.35L140.83 699.85" stroke="#000" stroke-width="1.1" fill="none"/>
<path d="M147.80 696.10L147.80 701.10M145.63 697.35L149.97 699.85M149.97 697.35L145.63 699.85" stroke="#000" stroke-width="1.1" fill="none"/>
<text x="41.10" y="832.00" font-size="10.3" text-anchor="end" font-weight="normal" fill="#000" textLength="32.4" lengthAdjust="spacingAndGlyphs">CXCR6</text>
<text x="51.90" y="832.00" font-size="10" text-anchor="middle" font-weight="normal" fill="#000">+</text>
<text x="66.30" y="832.00" font-size="10" text-anchor="middle" font-weight="normal" fill="#000">-</text>
<text x="79.80" y="832.00" font-size="10" text-anchor="middle" font-weight="normal" fill="#000">+</text>
<text x="94.80" y="832.00" font-size="10" text-anchor="middle" font-weight="normal" fill="#000">-</text>
<text x="108.00" y="832.00" font-size="10" text-anchor="middle" font-weight="normal" fill="#000">+</text>
<text x="122.90" y="832.00" font-size="10" text-anchor="middle" font-weight="normal" fill="#000">-</text>
<text x="137.10" y="832.00" font-size="10" text-anchor="middle" font-weight="normal" fill="#000">+</text>
<text x="152.10" y="832.00" font-size="10" text-anchor="middle" font-weight="normal" fill="#000">-</text>
<line x1="49.40" y1="837.50" x2="96.00" y2="837.50" stroke="#222" stroke-width="1"/>
<line x1="109.70" y1="837.50" x2="156.60" y2="837.50" stroke="#222" stroke-width="1"/>
<text x="72.70" y="849.50" font-size="10.4" text-anchor="middle" font-weight="normal" fill="#000">CD4</text>
<text x="133.15" y="849.50" font-size="10.4" text-anchor="middle" font-weight="normal" fill="#000">CD8</text>
<text x="100.35" y="676.90" font-size="17.0" text-anchor="middle" font-weight="normal" fill="#000" textLength="56.1" lengthAdjust="spacingAndGlyphs">CXCR6</text>
</svg></body></html>
